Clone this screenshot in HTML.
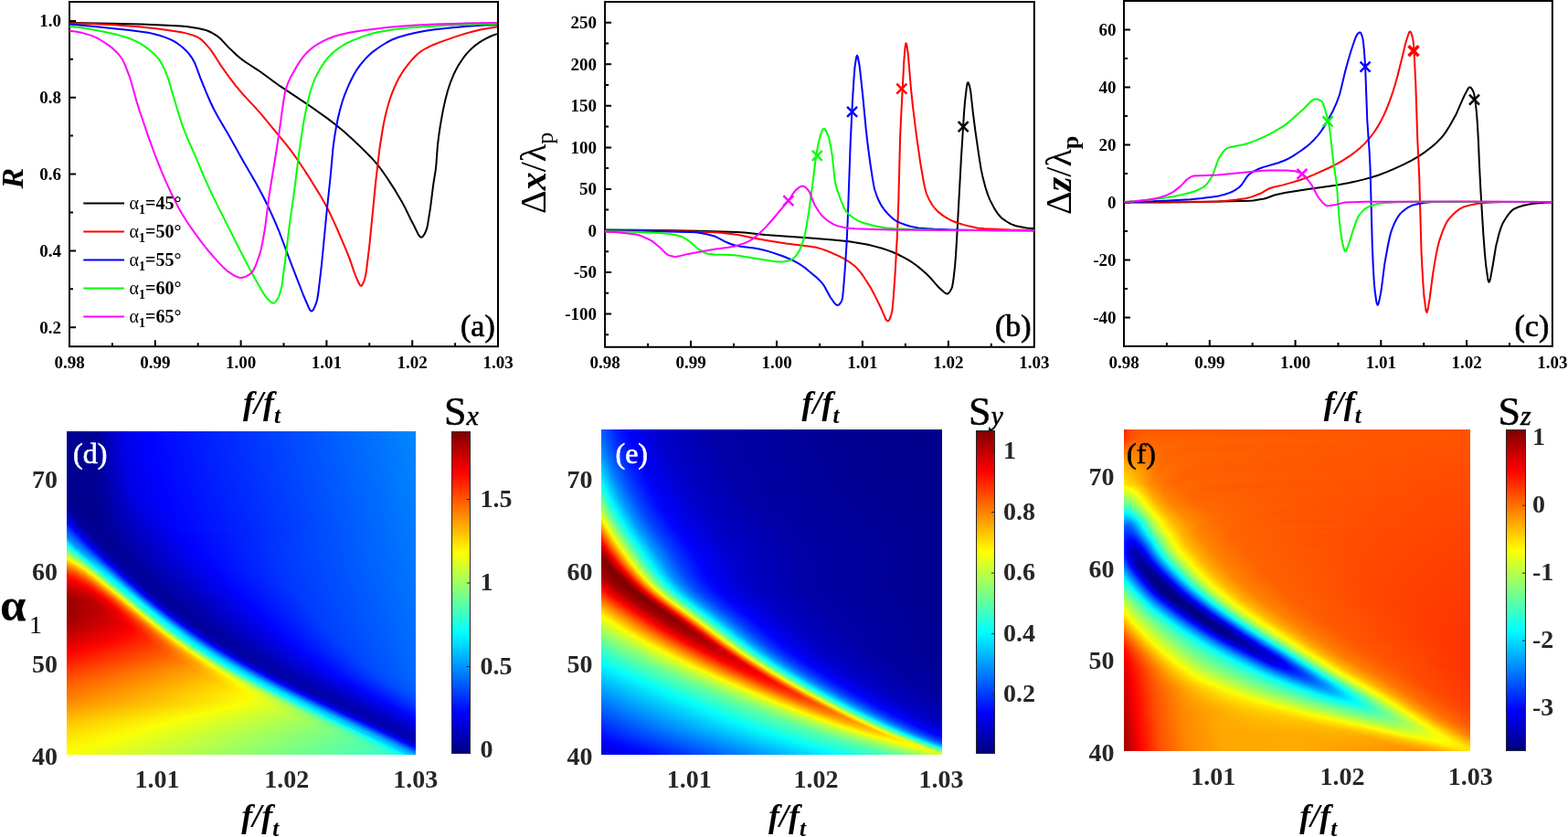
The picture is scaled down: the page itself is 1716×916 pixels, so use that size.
<!DOCTYPE html><html><head><meta charset="utf-8"><style>
*{margin:0;padding:0}
html,body{width:1716px;height:916px;overflow:hidden;background:#fff}
.hm{position:absolute;display:flex;flex-direction:column}
.hm i{display:block;width:100%;height:1px;flex:none}
.cb{position:absolute;box-sizing:border-box;border:1px solid #262626}
svg{position:absolute;left:0;top:0}
text{font-family:"Liberation Serif",serif}
.tk{font-size:19px;font-weight:bold}
.lg{font-size:20px;font-weight:bold}
.sub{font-size:14px}
.pl{font-size:34px;stroke:#000;stroke-width:0.7px}
.xl{font-size:36px;font-weight:bold;font-style:italic}
.xs{font-size:25px}
.yl{font-size:34px;font-weight:bold;font-style:italic}
.yl2{font-size:40px}
.bi{font-style:italic;font-weight:bold}
.sp{font-size:26px}
.spb{font-weight:bold}
.hk{font-size:28px;font-weight:bold;fill:#262626}
.al{font-size:51px;font-weight:bold}
.als{font-size:28px}
.hl{font-size:32px}
.sl{font-size:44px;stroke:#000;stroke-width:0.5px}
.si{font-style:italic;font-size:30px}
</style></head><body>
<div class="hm" style="left:73px;top:472px;width:382px;height:354px">
<i style="background:linear-gradient(90deg,#000091,#000097 32px,#0000e9 63px,#0003ff 89px,#0087ff)"></i>
<i style="background:linear-gradient(90deg,#000091,#000097 32px,#0000e9 63px,#0003ff 89px,#0087ff)"></i>
<i style="background:linear-gradient(90deg,#000091,#000096 32px,#0000e8 63px,#0003ff 89px,#0087ff)"></i>
<i style="background:linear-gradient(90deg,#000091,#000096 32px,#0000e8 63px,#0002ff 89px,#0087ff)"></i>
<i style="background:linear-gradient(90deg,#000091,#000096 32px,#0000ea 64px,#0003ff 90px,#0087ff)"></i>
<i style="background:linear-gradient(90deg,#000091,#000096 32px,#0000ea 64px,#0003ff 90px,#0087ff)"></i>
<i style="background:linear-gradient(90deg,#000091,#000098 33px,#0000e8 63px,#0002ff 89px,#0087ff)"></i>
<i style="background:linear-gradient(90deg,#000091,#000098 33px,#0000e8 63px,#0003ff 90px,#0087ff)"></i>
<i style="background:linear-gradient(90deg,#000091,#000098 33px,#0000e8 63px,#0002ff 90px,#0086ff)"></i>
<i style="background:linear-gradient(90deg,#000091,#000098 33px,#0000e9 64px,#0003ff 91px,#0086ff)"></i>
<i style="background:linear-gradient(90deg,#000091,#000098 33px,#0000e9 64px,#0003ff 91px,#0086ff)"></i>
<i style="background:linear-gradient(90deg,#000090,#000097 33px,#0000e9 64px,#0003ff 91px,#0086ff)"></i>
<i style="background:linear-gradient(90deg,#000090,#000097 33px,#0000e9 64px,#0003ff 91px,#0086ff)"></i>
<i style="background:linear-gradient(90deg,#000090,#000097 33px,#0000e9 64px,#0002ff 91px,#0086ff)"></i>
<i style="background:linear-gradient(90deg,#000090,#000097 33px,#0000e8 64px,#0002ff 91px,#0086ff)"></i>
<i style="background:linear-gradient(90deg,#000090,#000097 33px,#0000e8 64px,#0002ff 91px,#0086ff)"></i>
<i style="background:linear-gradient(90deg,#000090,#000097 33px,#0000e8 64px,#0003ff 92px,#0086ff)"></i>
<i style="background:linear-gradient(90deg,#000090,#000097 33px,#0000e8 64px,#0003ff 92px,#0085ff)"></i>
<i style="background:linear-gradient(90deg,#000090,#000096 33px,#0000e8 64px,#0002ff 92px,#0085ff)"></i>
<i style="background:linear-gradient(90deg,#000090,#000096 33px,#0000e8 64px,#0002ff 92px,#0085ff)"></i>
<i style="background:linear-gradient(90deg,#000090,#000096 33px,#0000e7 64px,#0002ff 92px,#0085ff)"></i>
<i style="background:linear-gradient(90deg,#000090,#000096 33px,#0000e7 64px,#0002ff 92px,#0085ff)"></i>
<i style="background:linear-gradient(90deg,#000090,#000096 33px,#0000e7 64px,#0002ff 92px,#0085ff)"></i>
<i style="background:linear-gradient(90deg,#000090,#000096 33px,#0000e7 64px,#0002ff 92px,#0085ff)"></i>
<i style="background:linear-gradient(90deg,#000090,#000096 33px,#0000e7 64px,#0002ff 92px,#0085ff)"></i>
<i style="background:linear-gradient(90deg,#00008f,#000098 34px,#0000e6 64px,#0002ff 93px,#0085ff)"></i>
<i style="background:linear-gradient(90deg,#00008f,#000098 34px,#0000e6 64px,#0002ff 93px,#0084ff)"></i>
<i style="background:linear-gradient(90deg,#00008f,#000097 34px,#0000e6 64px,#0002ff 93px,#0084ff)"></i>
<i style="background:linear-gradient(90deg,#00008f,#000097 34px,#0000e7 65px,#0002ff 94px,#0084ff)"></i>
<i style="background:linear-gradient(90deg,#00008f,#000097 34px,#0000e7 65px,#0002ff 94px,#0084ff)"></i>
<i style="background:linear-gradient(90deg,#00008f,#000097 34px,#0000e7 65px,#0002ff 94px,#0084ff)"></i>
<i style="background:linear-gradient(90deg,#00008f,#000097 34px,#0000e7 65px,#0002ff 94px,#0084ff)"></i>
<i style="background:linear-gradient(90deg,#00008f,#000097 34px,#0000e7 65px,#0002ff 94px,#0084ff)"></i>
<i style="background:linear-gradient(90deg,#00008f,#000096 34px,#0000e6 65px,#0002ff 95px,#0084ff)"></i>
<i style="background:linear-gradient(90deg,#00008f,#000096 34px,#0000e6 65px,#0002ff 95px,#0084ff)"></i>
<i style="background:linear-gradient(90deg,#00008f,#000096 34px,#0000e6 65px,#0002ff 95px,#0084ff)"></i>
<i style="background:linear-gradient(90deg,#00008f,#000096 34px,#0000e6 65px,#0002ff 95px,#0083ff)"></i>
<i style="background:linear-gradient(90deg,#00008e,#000096 34px,#0000e7 66px,#0002ff 96px,#0083ff)"></i>
<i style="background:linear-gradient(90deg,#00008e,#000095 34px,#0000e7 66px,#0002ff 96px,#0083ff)"></i>
<i style="background:linear-gradient(90deg,#00008e,#000095 34px,#0000e6 66px,#0002ff 96px,#0083ff)"></i>
<i style="background:linear-gradient(90deg,#00008e,#000095 34px,#0000e6 66px,#0002ff 96px,#0083ff)"></i>
<i style="background:linear-gradient(90deg,#00008e,#000095 34px,#0000e6 66px,#0002ff 96px,#0083ff)"></i>
<i style="background:linear-gradient(90deg,#00008e,#000095 34px,#0000e5 66px,#0002ff 97px,#0083ff)"></i>
<i style="background:linear-gradient(90deg,#00008e,#000097 35px,#0000e5 66px,#0002ff 97px,#0083ff)"></i>
<i style="background:linear-gradient(90deg,#00008e,#000096 35px,#0000e5 66px,#0002ff 97px,#0083ff)"></i>
<i style="background:linear-gradient(90deg,#00008e,#000096 35px,#0000e6 67px,#0002ff 98px,#0082ff)"></i>
<i style="background:linear-gradient(90deg,#00008e,#000096 35px,#0000e6 67px,#0002ff 98px,#0082ff)"></i>
<i style="background:linear-gradient(90deg,#00008e,#000096 35px,#0000e5 67px,#0002ff 98px,#0082ff)"></i>
<i style="background:linear-gradient(90deg,#00008e,#000096 35px,#0000e5 67px,#0002ff 98px,#0082ff)"></i>
<i style="background:linear-gradient(90deg,#00008e,#000096 35px,#0000e5 67px,#0002ff 98px,#0082ff)"></i>
<i style="background:linear-gradient(90deg,#00008d,#000095 35px,#0000e6 68px,#0003ff 100px,#0082ff)"></i>
<i style="background:linear-gradient(90deg,#00008d,#000095 35px,#0000e5 68px,#0002ff 100px,#0082ff)"></i>
<i style="background:linear-gradient(90deg,#00008d,#000095 35px,#0000e5 68px,#0002ff 100px,#0082ff)"></i>
<i style="background:linear-gradient(90deg,#00008d,#000095 35px,#0000e5 68px,#0002ff 100px,#0082ff)"></i>
<i style="background:linear-gradient(90deg,#00008d,#000095 35px,#0000e4 68px,#0002ff 100px,#0082ff)"></i>
<i style="background:linear-gradient(90deg,#00008d,#000094 35px,#0000e5 69px,#0002ff 101px,#0081ff)"></i>
<i style="background:linear-gradient(90deg,#00008d,#000096 36px,#0000e5 69px,#0002ff 101px,#0081ff)"></i>
<i style="background:linear-gradient(90deg,#00008d,#000096 36px,#0000e4 69px,#0003ff 102px,#0081ff)"></i>
<i style="background:linear-gradient(90deg,#00008d,#000096 36px,#0000e4 69px,#0002ff 102px,#0081ff)"></i>
<i style="background:linear-gradient(90deg,#00008d,#000095 36px,#0000e5 70px,#0003ff 103px,#0081ff)"></i>
<i style="background:linear-gradient(90deg,#00008d,#000095 36px,#0000e4 70px,#0003ff 103px,#0081ff)"></i>
<i style="background:linear-gradient(90deg,#00008d,#000095 36px,#0000e4 70px,#0002ff 103px,#0081ff)"></i>
<i style="background:linear-gradient(90deg,#00008d,#000095 36px,#0000e5 71px,#0003ff 104px,#0081ff)"></i>
<i style="background:linear-gradient(90deg,#00008d,#000094 36px,#0000e4 71px,#0002ff 104px,#0081ff)"></i>
<i style="background:linear-gradient(90deg,#00008d,#000094 36px,#0000e4 71px,#0002ff 104px,#0080ff)"></i>
<i style="background:linear-gradient(90deg,#00008d,#000094 36px,#0000e5 72px,#0003ff 105px,#0080ff)"></i>
<i style="background:linear-gradient(90deg,#00008d,#000094 36px,#0000e4 72px,#0003ff 106px,#0080ff)"></i>
<i style="background:linear-gradient(90deg,#00008d,#000094 36px,#0000e4 72px,#0003ff 106px,#0080ff)"></i>
<i style="background:linear-gradient(90deg,#00008d,#000093 36px,#0000e4 73px,#0003ff 107px,#0080ff)"></i>
<i style="background:linear-gradient(90deg,#00008d,#000095 37px,#0000e4 73px,#0003ff 107px,#0080ff)"></i>
<i style="background:linear-gradient(90deg,#00008e,#000095 37px,#0000e3 73px,#0003ff 107px,#0080ff)"></i>
<i style="background:linear-gradient(90deg,#00008e,#000094 37px,#0000e4 74px,#0003ff 108px,#0080ff)"></i>
<i style="background:linear-gradient(90deg,#00008e,#000094 37px,#0000e3 74px,#0003ff 108px,#0080ff)"></i>
<i style="background:linear-gradient(90deg,#00008f,#000094 37px,#0000e4 75px,#0003ff 109px,#0080ff)"></i>
<i style="background:linear-gradient(90deg,#00008f,#000094 37px,#0000e3 75px,#0003ff 109px,#007fff)"></i>
<i style="background:linear-gradient(90deg,#000090,#000093 37px,#0000e4 76px,#0003ff 110px,#007fff)"></i>
<i style="background:linear-gradient(90deg,#000091,#000093 37px,#0000e4 76px,#0003ff 110px,#007fff)"></i>
<i style="background:linear-gradient(90deg,#000092,#000090 35px,#0000e5 78px,#0003ff 111px,#007fff)"></i>
<i style="background:linear-gradient(90deg,#000093,#00008e 33px,#0000bc 56px,#0000ec 84px,#0005ff 114px,#007fff)"></i>
<i style="background:linear-gradient(90deg,#000095,#00008d 25px,#000097 40px,#0000e3 77px,#0003ff 112px,#007fff)"></i>
<i style="background:linear-gradient(90deg,#000096,#00008d 20px,#000095 39px,#0000e3 78px,#0003ff 112px,#007fff)"></i>
<i style="background:linear-gradient(90deg,#000098,#00008d 17px,#000095 39px,#0000e4 79px,#0003ff 113px,#007fff)"></i>
<i style="background:linear-gradient(90deg,#00009b,#00008d 14px,#000095 39px,#0000e3 79px,#0003ff 113px,#007fff)"></i>
<i style="background:linear-gradient(90deg,#00009d,#00008d 13px,#000094 39px,#0000e4 80px,#0004ff 114px,#007eff)"></i>
<i style="background:linear-gradient(90deg,#0000a0,#00008e 11px,#000093 38px,#0000e4 81px,#0004ff 115px,#007eff)"></i>
<i style="background:linear-gradient(90deg,#0000a4,#00008f 10px,#000092 38px,#0000e5 82px,#0004ff 115px,#007eff)"></i>
<i style="background:linear-gradient(90deg,#0000a8,#000090 10px,#000092 38px,#0000e5 83px,#0004ff 116px,#007eff)"></i>
<i style="background:linear-gradient(90deg,#0000ac,#000092 9px,#000092 38px,#0000e6 84px,#0004ff 117px,#007eff)"></i>
<i style="background:linear-gradient(90deg,#0000b1,#000093 9px,#000090 37px,#0000e6 85px,#0004ff 117px,#007eff)"></i>
<i style="background:linear-gradient(90deg,#0000b6,#000096 8px,#00008d 29px,#00009e 46px,#0000e4 84px,#0004ff 117px,#007eff)"></i>
<i style="background:linear-gradient(90deg,#0000bc,#000098 8px,#00008d 25px,#000097 42px,#0000e5 85px,#0004ff 118px,#007eff)"></i>
<i style="background:linear-gradient(90deg,#0000c2,#00009a 8px,#00008d 23px,#000096 42px,#0000e5 86px,#0004ff 119px,#007eff)"></i>
<i style="background:linear-gradient(90deg,#0000c9,#0000a0 7px,#00008e 19px,#000093 40px,#0000e7 88px,#0005ff 120px,#007eff)"></i>
<i style="background:linear-gradient(90deg,#0000d0,#0000a4 7px,#00008e 18px,#000093 40px,#0000e7 89px,#0004ff 120px,#007dff)"></i>
<i style="background:linear-gradient(90deg,#0000d8,#0000a8 7px,#000090 17px,#000093 40px,#0000e7 90px,#0004ff 121px,#007dff)"></i>
<i style="background:linear-gradient(90deg,#0000e1,#0000ac 7px,#000092 16px,#000091 39px,#0000e9 92px,#0005ff 122px,#007dff)"></i>
<i style="background:linear-gradient(90deg,#0000e9,#0000b1 7px,#000093 16px,#000090 38px,#0000ea 94px,#0005ff 123px,#007dff)"></i>
<i style="background:linear-gradient(90deg,#0000f3,#0000b6 7px,#000096 15px,#00008d 35px,#0000ba 63px,#0000f3 103px,#0007ff 127px,#007dff)"></i>
<i style="background:linear-gradient(90deg,#0000fc,#0000b6 8px,#000096 16px,#00008e 36px,#0000c4 69px,#0000fa 111px,#007dff)"></i>
<i style="background:linear-gradient(90deg,#0007ff,#0000e6 3px,#0000af 10px,#000092 19px,#000091 40px,#0000ec 98px,#0005ff 125px,#007dff)"></i>
<i style="background:linear-gradient(90deg,#0011ff,#0000fa 2px,#0000b4 10px,#000096 18px,#00008e 37px,#0000f0 102px,#0006ff 126px,#007dff)"></i>
<i style="background:linear-gradient(90deg,#001cff,#0000f9 3px,#0000b4 11px,#000095 19px,#00008e 37px,#0000f0 103px,#0006ff 127px,#007dff)"></i>
<i style="background:linear-gradient(90deg,#0026ff,#0004ff 3px,#0000b3 12px,#000095 20px,#00008f 38px,#0000f1 104px,#0006ff 128px,#007cff)"></i>
<i style="background:linear-gradient(90deg,#0030ff,#0003ff 4px,#0000b3 13px,#000093 22px,#000090 40px,#0000f1 105px,#0006ff 128px,#007cff)"></i>
<i style="background:linear-gradient(90deg,#003aff,#0002ff 5px,#0000b8 13px,#000097 21px,#00008e 37px,#0000bd 69px,#0000fa 115px,#007aff 377px,#007cff)"></i>
<i style="background:linear-gradient(90deg,#0043ff,#0001ff 6px,#0000b8 14px,#000097 22px,#00008e 38px,#0000cb 78px,#0000ff 122px,#0054ff 292px,#007cff)"></i>
<i style="background:linear-gradient(90deg,#004dff,#0000ff 7px,#0000b7 15px,#000097 23px,#00008f 39px,#0000f5 111px,#0008ff 133px,#007cff)"></i>
<i style="background:linear-gradient(90deg,#0055ff,#0000fe 8px,#0000b7 16px,#000097 24px,#00008f 39px,#0000f6 113px,#0009ff 135px,#007cff)"></i>
<i style="background:linear-gradient(90deg,#005dff,#0000fd 9px,#0000b6 17px,#000096 25px,#00008f 40px,#0000f7 115px,#000bff 139px,#007cff)"></i>
<i style="background:linear-gradient(90deg,#0064ff,#0014ff 8px,#0000fc 10px,#0000b6 18px,#000096 26px,#000090 41px,#0000f7 116px,#000dff 142px,#007cff)"></i>
<i style="background:linear-gradient(90deg,#006aff,#0035ff 6px,#0000fb 11px,#0000b5 19px,#000096 27px,#000090 41px,#0000f9 118px,#0012ff 151px,#007cff)"></i>
<i style="background:linear-gradient(90deg,#0070ff,#003fff 6px,#0000fb 12px,#0000bb 19px,#000098 27px,#00008f 40px,#0000c4 78px,#0000ff 126px,#0041ff 250px,#007cff)"></i>
<i style="background:linear-gradient(90deg,#0075ff,#0053ff 5px,#0000fa 13px,#0000ba 20px,#000098 28px,#00008f 41px,#0000fb 122px,#0078ff 374px,#007bff)"></i>
<i style="background:linear-gradient(90deg,#0078ff,#005dff 5px,#0005ff 13px,#0000b3 22px,#000095 30px,#000091 44px,#0000fa 122px,#007bff)"></i>
<i style="background:linear-gradient(90deg,#007bff,#0065ff 5px,#0005ff 14px,#0000b3 23px,#000095 31px,#000092 45px,#0000fb 123px,#0070ff 356px,#007bff)"></i>
<i style="background:linear-gradient(90deg,#0089ff,#007cff 1px,#0066ff 6px,#0004ff 15px,#0000b2 24px,#000095 32px,#000092 46px,#0000fc 125px,#0056ff 299px,#007bff)"></i>
<i style="background:linear-gradient(90deg,#0097ff,#007dff 2px,#0066ff 7px,#0004ff 16px,#0000b2 25px,#000095 33px,#000094 48px,#0000fc 126px,#0050ff 285px,#007bff)"></i>
<i style="background:linear-gradient(90deg,#00a6ff,#007fff 3px,#0067ff 8px,#0004ff 17px,#0000b8 25px,#000097 33px,#000092 47px,#0000fd 128px,#0043ff 257px,#007bff)"></i>
<i style="background:linear-gradient(90deg,#00b5ff,#0081ff 4px,#0068ff 9px,#0003ff 18px,#0000b8 26px,#000097 34px,#000093 48px,#0000fe 130px,#003aff 238px,#007bff)"></i>
<i style="background:linear-gradient(90deg,#00c5ff,#0082ff 5px,#0069ff 10px,#0003ff 19px,#0000b7 27px,#000096 35px,#000093 49px,#0000fe 131px,#0038ff 233px,#007bff)"></i>
<i style="background:linear-gradient(90deg,#00d4ff,#008bff 5px,#006aff 11px,#0003ff 20px,#0000b7 28px,#000096 36px,#000094 50px,#0000ff 132px,#0036ff 229px,#007bff)"></i>
<i style="background:linear-gradient(90deg,#00e4ff,#008cff 6px,#006bff 12px,#0003ff 21px,#0000b7 29px,#000096 37px,#000095 52px,#0000ff 133px,#0035ff 226px,#007aff)"></i>
<i style="background:linear-gradient(90deg,#00f4ff,#008dff 7px,#006cff 13px,#0003ff 22px,#0000b6 30px,#000096 38px,#000096 53px,#0000ff 134px,#0033ff 223px,#007aff)"></i>
<i style="background:linear-gradient(90deg,#05fffa,#008eff 8px,#0075ff 13px,#001bff 21px,#0003ff 23px,#0000b6 31px,#000096 39px,#000096 54px,#0000ff 135px,#0034ff 224px,#007aff)"></i>
<i style="background:linear-gradient(90deg,#15ffea,#00f7ff 2px,#008fff 9px,#0076ff 14px,#001bff 22px,#0003ff 24px,#0000b6 32px,#000097 40px,#000096 55px,#0000ff 136px,#0034ff 224px,#007aff)"></i>
<i style="background:linear-gradient(90deg,#25ffda,#00f9ff 3px,#0090ff 10px,#0078ff 15px,#001cff 23px,#0003ff 25px,#0000b6 33px,#000097 41px,#000097 56px,#0001ff 137px,#0033ff 224px,#007aff)"></i>
<i style="background:linear-gradient(90deg,#35ffca,#00fbff 4px,#0091ff 11px,#007aff 16px,#000fff 25px,#0000f6 27px,#0000b6 34px,#000097 42px,#000097 57px,#0001ff 138px,#0033ff 224px,#007aff)"></i>
<i style="background:linear-gradient(90deg,#46ffb9,#00feff 5px,#0093ff 12px,#007bff 17px,#0010ff 26px,#0000f6 28px,#0000b6 35px,#000097 43px,#000098 58px,#0001ff 139px,#0033ff 224px,#007aff)"></i>
<i style="background:linear-gradient(90deg,#56ffa9,#01fffe 6px,#0096ff 13px,#0085ff 17px,#0045ff 23px,#0004ff 28px,#0000b6 36px,#000097 44px,#000099 60px,#0001ff 140px,#0033ff 224px,#007aff)"></i>
<i style="background:linear-gradient(90deg,#67ff98,#05fffa 7px,#0098ff 14px,#0088ff 18px,#0046ff 24px,#0004ff 29px,#0000b6 37px,#000097 45px,#000099 61px,#0001ff 141px,#0033ff 225px,#007aff)"></i>
<i style="background:linear-gradient(90deg,#78ff87,#08fff7 8px,#00e8ff 10px,#009bff 15px,#008aff 19px,#0047ff 25px,#0005ff 30px,#0000b6 38px,#000097 46px,#000099 62px,#0002ff 142px,#0033ff 225px,#0079ff)"></i>
<i style="background:linear-gradient(90deg,#89ff76,#00fbff 10px,#009eff 16px,#008cff 20px,#0049ff 26px,#0005ff 31px,#0000b6 39px,#000098 47px,#00009a 63px,#0002ff 143px,#0033ff 225px,#0079ff)"></i>
<i style="background:linear-gradient(90deg,#99ff66,#1fffe0 9px,#00feff 11px,#00a1ff 17px,#008fff 21px,#004aff 27px,#0006ff 32px,#0000ce 37px,#0000a2 44px,#000094 54px,#0000bc 91px,#0002ff 144px,#0033ff 226px,#0079ff)"></i>
<i style="background:linear-gradient(90deg,#a9ff56,#41ffbe 8px,#02fffd 12px,#00a4ff 18px,#0091ff 22px,#004cff 28px,#0007ff 33px,#0000e2 36px,#0000b0 42px,#000097 50px,#00009e 69px,#0001ff 144px,#0032ff 222px,#0079ff)"></i>
<i style="background:linear-gradient(90deg,#baff45,#55ffaa 8px,#06fff9 13px,#00b3ff 18px,#00a5ff 20px,#0081ff 25px,#0008ff 34px,#0000ee 36px,#0000b7 42px,#00009a 49px,#000098 63px,#0002ff 146px,#0033ff 226px,#0079ff)"></i>
<i style="background:linear-gradient(90deg,#caff35,#68ff97 8px,#0afff5 14px,#00e8ff 16px,#00abff 20px,#0097ff 24px,#004fff 30px,#0000fb 36px,#0000be 42px,#00009c 49px,#000097 62px,#0003ff 147px,#0034ff 227px,#0079ff)"></i>
<i style="background:linear-gradient(90deg,#daff25,#7bff84 8px,#00fcff 16px,#00aeff 21px,#009aff 25px,#0051ff 31px,#0000fc 37px,#0000be 43px,#00009d 50px,#000097 63px,#0003ff 148px,#0033ff 227px,#0079ff)"></i>
<i style="background:linear-gradient(90deg,#eaff15,#8fff70 8px,#02fffd 17px,#00b2ff 22px,#009dff 26px,#0053ff 32px,#0000fd 38px,#0000bf 44px,#00009d 51px,#000097 64px,#0003ff 149px,#0033ff 227px,#0079ff)"></i>
<i style="background:linear-gradient(90deg,#faff05,#a3ff5c 8px,#17ffe8 17px,#06fff9 18px,#00b6ff 23px,#00a1ff 27px,#0055ff 33px,#0000fe 39px,#0000bf 45px,#00009d 52px,#000096 64px,#0000db 118px,#0004ff 151px,#0035ff 231px,#0079ff)"></i>
<i style="background:linear-gradient(90deg,#fff400,#f9ff06 2px,#9cff63 10px,#0bfff4 19px,#00f8ff 20px,#00c4ff 23px,#009aff 29px,#0000ff 40px,#0000c0 46px,#00009d 53px,#000097 65px,#0000da 118px,#0004ff 152px,#0035ff 232px,#0079ff)"></i>
<i style="background:linear-gradient(90deg,#ffe400,#fffd00 3px,#b1ff4e 10px,#21ffde 19px,#00fdff 21px,#00c8ff 24px,#009eff 30px,#0002ff 41px,#0000b9 48px,#00009b 55px,#000099 69px,#0002ff 151px,#0032ff 225px,#0078ff)"></i>
<i style="background:linear-gradient(90deg,#ffd500,#ffff00 5px,#aaff55 12px,#03fffc 22px,#00c2ff 26px,#00acff 30px,#005dff 36px,#0003ff 42px,#0000ba 49px,#00009b 56px,#000099 70px,#0003ff 152px,#0032ff 226px,#0078ff)"></i>
<i style="background:linear-gradient(90deg,#ffc500,#fcff03 7px,#a1ff5e 14px,#07fff8 23px,#00d0ff 26px,#00a5ff 32px,#0004ff 43px,#0000ba 50px,#00009c 57px,#000099 71px,#0003ff 153px,#0032ff 226px,#0078ff)"></i>
<i style="background:linear-gradient(90deg,#ffb700,#fffa00 8px,#c5ff3a 13px,#31ffce 22px,#00f9ff 25px,#00d4ff 27px,#00a8ff 33px,#0006ff 44px,#0000c2 50px,#00009e 57px,#000097 69px,#0000d6 119px,#0004ff 155px,#0034ff 230px,#0078ff)"></i>
<i style="background:linear-gradient(90deg,#ffa800,#ffe900 8px,#fffe00 10px,#9fff60 17px,#00fdff 26px,#00d8ff 28px,#00acff 34px,#0025ff 43px,#0000f9 46px,#0000bb 52px,#00009c 59px,#000099 73px,#0003ff 155px,#0032ff 227px,#0078ff)"></i>
<i style="background:linear-gradient(90deg,#ff9b00,#ffd700 8px,#fbff04 12px,#94ff6b 19px,#03fffc 27px,#00d1ff 30px,#00baff 34px,#0067ff 40px,#0009ff 46px,#0000ed 48px,#0000b5 54px,#00009a 61px,#00009c 77px,#0003ff 156px,#0033ff 228px,#0078ff)"></i>
<i style="background:linear-gradient(90deg,#ff8e00,#ffc600 8px,#fffc00 13px,#abff54 19px,#07fff8 28px,#00d5ff 31px,#00beff 35px,#006aff 41px,#000aff 47px,#0000fb 48px,#0000bd 54px,#00009d 61px,#000099 75px,#0003ff 157px,#0033ff 228px,#0078ff)"></i>
<i style="background:linear-gradient(90deg,#ff8000,#ffbf00 9px,#fcff03 15px,#7dff82 23px,#0cfff3 29px,#00f8ff 30px,#00d9ff 32px,#00c1ff 36px,#006dff 42px,#0000fd 49px,#0000bd 55px,#00009d 62px,#000099 75px,#0003ff 158px,#0033ff 229px,#0078ff)"></i>
<i style="background:linear-gradient(90deg,#ff7300,#ffae00 9px,#fffb00 16px,#b8ff47 21px,#00fcff 31px,#00ddff 33px,#00c5ff 37px,#0080ff 42px,#0000fe 50px,#0000be 56px,#00009d 63px,#000099 76px,#0000e8 137px,#0006ff 161px,#0036ff 235px,#0078ff)"></i>
<i style="background:linear-gradient(90deg,#ff6700,#ff9e00 9px,#ffe700 16px,#fcff03 18px,#77ff88 26px,#02fffd 32px,#00e1ff 34px,#00c9ff 38px,#0083ff 43px,#0001ff 51px,#0000bf 57px,#00009d 64px,#000099 77px,#0000e4 135px,#0005ff 161px,#0035ff 233px,#0077ff)"></i>
<i style="background:linear-gradient(90deg,#ff5a00,#ff8e00 9px,#ffd300 16px,#fffb00 19px,#b3ff4c 24px,#06fff9 33px,#00e4ff 35px,#00cdff 39px,#0086ff 44px,#0002ff 52px,#0000bf 58px,#00009e 65px,#000099 78px,#0000e2 135px,#0005ff 162px,#0034ff 233px,#0077ff)"></i>
<i style="background:linear-gradient(90deg,#ff4f00,#ff8700 10px,#ffcc00 17px,#fcff03 21px,#6fff90 29px,#0bfff4 34px,#00f6ff 35px,#00e8ff 36px,#00d0ff 40px,#008aff 45px,#0004ff 53px,#0000b9 60px,#00009c 67px,#00009b 82px,#0003ff 161px,#0032ff 229px,#0077ff)"></i>
<i style="background:linear-gradient(90deg,#ff4300,#ff7800 10px,#ffb900 17px,#fffc00 22px,#9bff64 28px,#00faff 36px,#00ecff 37px,#00d4ff 41px,#008dff 46px,#0006ff 54px,#0000b9 61px,#00009c 68px,#00009b 83px,#0003ff 162px,#0032ff 229px,#0077ff)"></i>
<i style="background:linear-gradient(90deg,#ff3900,#ff6a00 10px,#ffb200 18px,#fff600 23px,#f9ff06 24px,#66ff99 32px,#00ffff 37px,#00efff 38px,#00d7ff 42px,#0090ff 47px,#0007ff 55px,#0000df 58px,#0000ae 64px,#000098 72px,#0000a7 96px,#0003ff 163px,#0032ff 230px,#0077ff)"></i>
<i style="background:linear-gradient(90deg,#ff2f00,#ff6300 11px,#ffac00 19px,#ffff00 25px,#6bff94 33px,#04fffb 38px,#00f2ff 39px,#00dbff 43px,#0093ff 48px,#0009ff 56px,#0000ec 58px,#0000b4 64px,#00009a 71px,#00009e 88px,#0003ff 164px,#0032ff 230px,#0077ff)"></i>
<i style="background:linear-gradient(90deg,#ff2600,#ff5600 11px,#ff9b00 19px,#fffa00 26px,#beff41 30px,#08fff7 39px,#00f3ff 41px,#00d3ff 45px,#0072ff 51px,#000bff 57px,#0000fb 58px,#0000c3 63px,#0000a2 69px,#000097 80px,#0000c9 123px,#0003ff 165px,#0033ff 231px,#0077ff)"></i>
<i style="background:linear-gradient(90deg,#ff1d00,#ff4b00 11px,#ff8b00 19px,#ffe500 26px,#f9ff06 28px,#4affb5 37px,#0cfff3 40px,#00f8ff 41px,#00e1ff 45px,#0098ff 50px,#000cff 58px,#0000fd 59px,#0000c4 64px,#0000a2 70px,#000097 81px,#0000c8 123px,#0003ff 166px,#0033ff 232px,#0077ff)"></i>
<i style="background:linear-gradient(90deg,#ff1500,#ff4500 12px,#ff8500 20px,#ffe000 27px,#feff01 29px,#4effb1 38px,#00faff 42px,#00e4ff 46px,#009bff 51px,#000eff 59px,#0000fe 60px,#0000c5 65px,#0000a2 71px,#000097 82px,#0000c8 124px,#0003ff 167px,#0033ff 232px,#0077ff)"></i>
<i style="background:linear-gradient(90deg,#ff0d00,#ff3b00 12px,#ff7600 20px,#ffcb00 27px,#fffb00 30px,#a6ff59 35px,#00fdff 43px,#00e7ff 47px,#009eff 52px,#0001ff 61px,#0000bd 67px,#00009d 74px,#00009a 88px,#0004ff 169px,#0034ff 235px,#0077ff)"></i>
<i style="background:linear-gradient(90deg,#ff0600,#ff3000 12px,#ff6700 20px,#ffb800 27px,#fff600 31px,#e4ff1b 33px,#02fffd 44px,#00f3ff 47px,#00c2ff 51px,#0002ff 62px,#0000be 68px,#00009d 75px,#00009a 89px,#0004ff 170px,#0034ff 236px,#0076ff)"></i>
<i style="background:linear-gradient(90deg,#fe0000,#ff2600 12px,#ff6200 21px,#ffb300 28px,#fbff04 33px,#30ffcf 43px,#06fff9 45px,#00f6ff 48px,#00c5ff 52px,#0004ff 63px,#0000bf 69px,#00009e 76px,#00009a 90px,#0004ff 171px,#0034ff 236px,#0076ff)"></i>
<i style="background:linear-gradient(90deg,#f70000,#ff0a00 7px,#ff3e00 18px,#ff8700 26px,#ffec00 33px,#fffe00 34px,#60ff9f 42px,#0afff5 46px,#00f8ff 49px,#00c8ff 53px,#0006ff 64px,#0000b8 71px,#00009c 78px,#00009d 94px,#0003ff 171px,#0033ff 235px,#0076ff)"></i>
<i style="background:linear-gradient(90deg,#f00000,#ff0500 8px,#ff3900 19px,#ff8200 27px,#ffe700 34px,#fff900 35px,#ccff33 38px,#0efff1 47px,#00fbff 50px,#00cbff 54px,#0007ff 65px,#0000de 68px,#0000ad 74px,#000098 82px,#0000a9 107px,#0003ff 172px,#0033ff 235px,#0076ff)"></i>
<i style="background:linear-gradient(90deg,#ea0000,#ff0400 10px,#ff3500 20px,#ff7d00 28px,#ffe200 35px,#f8ff07 37px,#12ffed 48px,#00feff 51px,#00cfff 55px,#0009ff 66px,#0000ec 68px,#0000ba 73px,#00009c 80px,#00009c 95px,#0004ff 174px,#0034ff 238px,#0076ff)"></i>
<i style="background:linear-gradient(90deg,#e40000,#ff0300 12px,#ff3700 22px,#ff7900 29px,#ffde00 36px,#fcff03 38px,#15ffea 49px,#01fffe 52px,#00d2ff 56px,#000bff 67px,#0000fb 68px,#0000c3 73px,#0000a1 79px,#000098 90px,#0000ca 133px,#0004ff 175px,#0035ff 239px,#0076ff)"></i>
<i style="background:linear-gradient(90deg,#de0000,#ff0300 14px,#ff3a00 24px,#ff8000 31px,#ffeb00 38px,#fffd00 39px,#5bffa4 47px,#19ffe6 50px,#0cfff3 51px,#00fbff 54px,#00c4ff 58px,#000dff 68px,#0000fd 69px,#0000c4 74px,#0000a2 80px,#000098 91px,#0000c8 133px,#0004ff 176px,#0034ff 239px,#0076ff)"></i>
<i style="background:linear-gradient(90deg,#d90000,#ff0300 16px,#ff3600 25px,#ff7c00 32px,#ffe600 39px,#fff800 40px,#dfff20 42px,#1effe1 51px,#0efff1 52px,#00fdff 55px,#00c8ff 59px,#000fff 69px,#0000ff 70px,#0000c5 75px,#0000a2 81px,#000098 92px,#0000c8 134px,#0004ff 177px,#0035ff 240px,#0076ff)"></i>
<i style="background:linear-gradient(90deg,#d40000,#fa0000 16px,#ff1700 22px,#ff5500 30px,#ffaf00 37px,#fff400 41px,#f7ff08 42px,#10ffef 53px,#01fffe 56px,#00cbff 60px,#0011ff 70px,#0002ff 71px,#0000bd 77px,#00009d 84px,#00009a 98px,#0000e8 157px,#0005ff 179px,#0036ff 243px,#0076ff)"></i>
<i style="background:linear-gradient(90deg,#cf0000,#f70000 17px,#ff0900 21px,#ff3e00 29px,#ff8d00 36px,#fcff03 43px,#12ffed 54px,#00f8ff 58px,#00aaff 63px,#0014ff 71px,#0004ff 72px,#0000be 78px,#00009d 85px,#00009a 99px,#0000e5 156px,#0005ff 180px,#0036ff 243px,#0075ff)"></i>
<i style="background:linear-gradient(90deg,#ca0000,#f30000 18px,#ff0500 22px,#ff3b00 30px,#ff8900 37px,#fffd00 44px,#2affd5 54px,#14ffeb 55px,#00fbff 59px,#00adff 64px,#0016ff 72px,#0000f6 74px,#0000bf 79px,#00009e 86px,#00009a 100px,#0000e3 156px,#0005ff 181px,#0036ff 244px,#0075ff)"></i>
<i style="background:linear-gradient(90deg,#c60000,#ec0000 18px,#ff0700 24px,#ff4000 32px,#ff9300 39px,#fff900 45px,#c8ff37 48px,#18ffe7 56px,#00feff 60px,#00c3ff 64px,#0008ff 74px,#0000eb 76px,#0000b9 81px,#00009c 88px,#00009d 104px,#0004ff 181px,#0035ff 243px,#0075ff)"></i>
<i style="background:linear-gradient(90deg,#c10000,#e90000 19px,#ff0400 25px,#ff3c00 33px,#ff8f00 40px,#fff500 46px,#f6ff09 47px,#1cffe3 57px,#01fffe 61px,#00c6ff 65px,#000aff 75px,#0000fa 76px,#0000c2 81px,#0000a1 87px,#000098 98px,#0000ca 141px,#0004ff 182px,#0035ff 243px,#0075ff)"></i>
<i style="background:linear-gradient(90deg,#bd0000,#e60000 20px,#ff0600 27px,#ff4200 35px,#ff9a00 42px,#faff05 48px,#20ffdf 58px,#04fffb 62px,#00daff 65px,#000dff 76px,#0000fc 77px,#0000c3 82px,#0000a1 88px,#000098 99px,#0000c8 141px,#0004ff 183px,#0035ff 244px,#0075ff)"></i>
<i style="background:linear-gradient(90deg,#ba0000,#e00000 20px,#ff0300 28px,#ff3f00 36px,#ff9600 43px,#ffff00 49px,#24ffdb 59px,#00faff 64px,#00a7ff 69px,#000fff 77px,#0000ff 78px,#0000c4 83px,#0000a2 89px,#000098 100px,#0000c8 142px,#0004ff 184px,#0036ff 245px,#0075ff)"></i>
<i style="background:linear-gradient(90deg,#b60000,#de0000 21px,#ff0000 29px,#ff3b00 37px,#ff9200 44px,#fffb00 50px,#83ff7c 56px,#28ffd7 60px,#1affe5 61px,#00fdff 65px,#00abff 70px,#0012ff 78px,#0002ff 79px,#0000bd 85px,#00009d 92px,#00009a 106px,#0000e4 162px,#0005ff 186px,#0036ff 247px,#0075ff)"></i>
<i style="background:linear-gradient(90deg,#b20000,#db0000 22px,#ff0300 31px,#ff4200 39px,#ff9d00 46px,#fff600 51px,#dfff20 53px,#1bffe4 62px,#0bfff4 65px,#01fffe 66px,#00c1ff 70px,#0014ff 79px,#0004ff 80px,#0000be 86px,#00009d 93px,#00009a 107px,#0000e2 162px,#0005ff 187px,#0037ff 248px,#0075ff)"></i>
<i style="background:linear-gradient(90deg,#af0000,#d50000 22px,#ff0500 33px,#ff4900 41px,#ffa900 48px,#fff200 52px,#f8ff07 53px,#1dffe2 63px,#0efff1 66px,#00f6ff 68px,#008aff 74px,#0007ff 81px,#0000dd 84px,#0000ac 90px,#000098 98px,#0000ac 125px,#0003ff 187px,#0036ff 247px,#0075ff)"></i>
<i style="background:linear-gradient(90deg,#ab0000,#d30000 23px,#ff0200 34px,#ff4500 42px,#ffa400 49px,#fdff02 54px,#20ffdf 64px,#00f9ff 69px,#00a2ff 74px,#000aff 82px,#0000ec 84px,#0000b9 89px,#00009c 96px,#00009c 112px,#0005ff 189px,#0037ff 249px,#0075ff)"></i>
<i style="background:linear-gradient(90deg,#a80000,#d00000 24px,#fe0000 35px,#ff3700 42px,#ff9000 49px,#fffc00 55px,#52ffad 63px,#24ffdb 65px,#00fcff 70px,#00a6ff 75px,#000cff 83px,#0000fc 84px,#0000c2 89px,#0000a1 95px,#000098 106px,#0000c8 148px,#0004ff 190px,#0037ff 250px,#0074ff)"></i>
<i style="background:linear-gradient(90deg,#a40000,#cd0000 25px,#ff0200 37px,#ff4800 45px,#ffac00 52px,#fff700 56px,#deff21 58px,#29ffd6 66px,#01fffe 71px,#00aaff 76px,#000fff 84px,#0000ff 85px,#0000c4 90px,#0000a2 96px,#000098 107px,#0000c8 149px,#0004ff 191px,#0037ff 251px,#0074ff)"></i>
<i style="background:linear-gradient(90deg,#a10000,#cb0000 26px,#f80000 37px,#ff0d00 40px,#ff5000 47px,#ffb900 54px,#fff200 57px,#f8ff07 58px,#2effd1 67px,#1effe1 69px,#04fffb 72px,#00d4ff 75px,#0012ff 85px,#0002ff 86px,#0000bd 92px,#00009d 99px,#00009a 113px,#0000e1 167px,#0005ff 193px,#0038ff 253px,#0074ff)"></i>
<i style="background:linear-gradient(90deg,#9e0000,#c60000 26px,#f60000 38px,#ff0a00 41px,#ff4d00 48px,#ffa300 54px,#fdff02 59px,#33ffcc 68px,#22ffdd 69px,#12ffed 72px,#00f8ff 74px,#0089ff 80px,#0005ff 87px,#0000be 93px,#0000a0 99px,#000098 111px,#0000ce 156px,#0004ff 193px,#0037ff 252px,#0074ff)"></i>
<i style="background:linear-gradient(90deg,#9c0000,#c40000 27px,#f30000 39px,#ff0800 42px,#ff4900 49px,#ff9f00 55px,#fffd00 60px,#24ffdb 70px,#14ffeb 73px,#00fcff 75px,#00a2ff 80px,#0019ff 87px,#0000f8 89px,#0000c0 94px,#0000a0 100px,#000098 112px,#0000ce 157px,#0004ff 194px,#0037ff 253px,#0074ff)"></i>
<i style="background:linear-gradient(90deg,#990000,#c30000 28px,#f10000 40px,#ff0500 43px,#ff4600 50px,#ff9b00 56px,#fff800 61px,#dcff23 63px,#26ffd9 71px,#0dfff2 75px,#00ffff 76px,#00a6ff 81px,#001cff 88px,#0000fb 90px,#0000c2 95px,#0000a1 101px,#000098 112px,#0000c8 154px,#0004ff 195px,#0037ff 254px,#0074ff)"></i>
<i style="background:linear-gradient(90deg,#970000,#c20000 29px,#ef0000 41px,#ff0300 44px,#ff4300 51px,#ffa800 58px,#fff300 62px,#f6ff09 63px,#2bffd4 72px,#0ffff0 76px,#03fffc 77px,#00beff 81px,#000fff 90px,#0000fe 91px,#0000c3 96px,#0000a1 102px,#000098 113px,#0000c7 155px,#0005ff 197px,#0038ff 256px,#0074ff)"></i>
<i style="background:linear-gradient(90deg,#960000,#c10000 30px,#ee0000 42px,#ff0100 45px,#ff4000 52px,#ffa400 59px,#faff05 64px,#30ffcf 73px,#06fff9 78px,#00e7ff 80px,#0012ff 91px,#0002ff 92px,#0000bd 98px,#00009d 105px,#00009a 119px,#0000df 172px,#0004ff 198px,#0038ff 257px,#0074ff)"></i>
<i style="background:linear-gradient(90deg,#950000,#c00000 31px,#ec0000 43px,#ff0000 46px,#ff3e00 53px,#ffa000 60px,#ffff00 65px,#35ffca 74px,#25ffda 75px,#14ffeb 78px,#00faff 80px,#008aff 86px,#0015ff 92px,#0005ff 93px,#0000be 99px,#0000a0 105px,#000098 117px,#0000ce 162px,#0004ff 199px,#0039ff 258px,#0074ff)"></i>
<i style="background:linear-gradient(90deg,#940000,#c00000 32px,#ec0000 44px,#ff0600 48px,#ff4800 55px,#ff9d00 61px,#fffb00 66px,#67ff98 73px,#26ffd9 76px,#16ffe9 79px,#00fdff 81px,#008eff 87px,#0008ff 94px,#0000ea 96px,#0000b8 101px,#00009b 108px,#00009c 124px,#0004ff 200px,#0039ff 259px,#0073ff)"></i>
<i style="background:linear-gradient(90deg,#940000,#c10000 33px,#ec0000 45px,#ff0500 49px,#ff4600 56px,#ff9a00 62px,#fff700 67px,#ddff22 69px,#27ffd8 77px,#0dfff2 81px,#01fffe 82px,#00a7ff 87px,#001cff 94px,#0000fb 96px,#0000c2 101px,#0000a1 107px,#000098 118px,#0000c8 160px,#0004ff 201px,#0039ff 259px,#0073ff)"></i>
<i style="background:linear-gradient(90deg,#940000,#c10000 34px,#eb0000 46px,#ff0400 50px,#ff4400 57px,#ffa800 64px,#fff300 68px,#f6ff09 69px,#2cffd3 78px,#10ffef 82px,#04fffb 83px,#00d2ff 86px,#0010ff 96px,#0000ff 97px,#0000c4 102px,#0000a2 108px,#000098 119px,#0000c7 161px,#0004ff 202px,#0039ff 260px,#0073ff)"></i>
<i style="background:linear-gradient(90deg,#940000,#c20000 35px,#eb0000 47px,#ff0400 51px,#ff4200 58px,#ffa500 65px,#faff05 70px,#30ffcf 79px,#06fff9 84px,#00e8ff 86px,#0014ff 97px,#0004ff 98px,#0000be 104px,#00009d 111px,#00009a 125px,#0000de 177px,#0005ff 204px,#003aff 262px,#0073ff)"></i>
<i style="background:linear-gradient(90deg,#950000,#c30000 36px,#eb0000 48px,#ff0300 52px,#ff4000 59px,#ffa200 66px,#feff01 71px,#35ffca 80px,#24ffdb 81px,#14ffeb 84px,#00fbff 86px,#008cff 92px,#0008ff 99px,#0000eb 101px,#0000b9 106px,#00009c 113px,#00009d 129px,#0004ff 204px,#0039ff 262px,#0073ff)"></i>
<i style="background:linear-gradient(90deg,#950000,#c40000 37px,#f00000 50px,#ff0a00 54px,#ff4a00 61px,#ff9e00 67px,#fffb00 72px,#51ffae 80px,#24ffdb 82px,#15ffea 85px,#00feff 87px,#00a6ff 92px,#000cff 100px,#0000fc 101px,#0000c3 106px,#0000a2 112px,#000098 123px,#0000c9 165px,#0004ff 205px,#003aff 263px,#0073ff)"></i>
<i style="background:linear-gradient(90deg,#950000,#c50000 38px,#f00000 51px,#ff0900 55px,#ff4800 62px,#ff9b00 68px,#fff700 73px,#ddff22 75px,#28ffd7 83px,#0dfff2 87px,#01fffe 88px,#00beff 92px,#0011ff 101px,#0001ff 102px,#0000bd 108px,#00009d 115px,#00009b 129px,#0000df 181px,#0005ff 207px,#003bff 265px,#0073ff)"></i>
<i style="background:linear-gradient(90deg,#960000,#c60000 39px,#f10000 52px,#ff0900 56px,#ff4700 63px,#ffa900 70px,#fff300 74px,#f6ff09 75px,#2dffd2 84px,#04fffb 89px,#00d5ff 92px,#0015ff 102px,#0006ff 103px,#0000b8 110px,#00009c 117px,#00009d 133px,#0004ff 207px,#003aff 264px,#0073ff)"></i>
<i style="background:linear-gradient(90deg,#970000,#c70000 40px,#f10000 53px,#ff0900 57px,#ff4500 64px,#ffa600 71px,#fbff04 76px,#32ffcd 85px,#22ffdd 86px,#12ffed 89px,#00f9ff 91px,#008dff 97px,#000aff 104px,#0000fa 105px,#0000c2 110px,#0000a2 116px,#000098 127px,#0000ca 169px,#0004ff 208px,#003aff 265px,#0073ff)"></i>
<i style="background:linear-gradient(90deg,#970000,#c80000 41px,#f10000 54px,#ff0800 58px,#ff4400 65px,#ffa200 72px,#ffff00 77px,#22ffdd 87px,#13ffec 90px,#00fcff 92px,#00a6ff 97px,#000fff 105px,#0000fe 106px,#0000c5 111px,#0000a3 117px,#000098 128px,#0000c8 169px,#0004ff 209px,#003aff 266px,#0073ff)"></i>
<i style="background:linear-gradient(90deg,#980000,#c90000 42px,#f10000 55px,#ff0800 59px,#ff4d00 67px,#ff9f00 73px,#fffa00 78px,#98ff67 83px,#26ffd9 88px,#0cfff3 92px,#00ffff 93px,#00abff 98px,#0013ff 106px,#0004ff 107px,#0000bf 113px,#00009e 120px,#00009b 134px,#0000e1 186px,#0004ff 210px,#003bff 267px,#0072ff)"></i>
<i style="background:linear-gradient(90deg,#990000,#cd0000 44px,#f70000 57px,#ff0800 60px,#ff4b00 68px,#ffac00 75px,#fff600 79px,#dfff20 81px,#2bffd4 89px,#03fffc 94px,#00c3ff 98px,#0018ff 107px,#0000f9 109px,#0000c2 114px,#00009f 121px,#00009a 134px,#0000d9 182px,#0004ff 211px,#003aff 267px,#0072ff)"></i>
<i style="background:linear-gradient(90deg,#9a0000,#ce0000 45px,#f70000 58px,#ff0e00 62px,#ff4a00 69px,#ffa900 76px,#fff100 80px,#f8ff07 81px,#20ffdf 91px,#10ffef 94px,#00f8ff 96px,#008eff 102px,#000dff 109px,#0000fd 110px,#0000c5 115px,#0000a3 121px,#000099 132px,#0000c9 173px,#0004ff 212px,#003aff 268px,#0072ff)"></i>
<i style="background:linear-gradient(90deg,#9b0000,#d00000 46px,#f70000 59px,#ff0e00 63px,#ff5300 71px,#ffa500 77px,#fdff02 82px,#20ffdf 92px,#08fff7 96px,#00fbff 97px,#00a8ff 102px,#0012ff 110px,#0003ff 111px,#0000bf 117px,#00009f 124px,#00009c 138px,#0000e2 190px,#0004ff 213px,#003bff 269px,#0072ff)"></i>
<i style="background:linear-gradient(90deg,#9c0000,#d10000 47px,#f80000 60px,#ff0e00 64px,#ff5100 72px,#ffb200 79px,#fffc00 83px,#53ffac 91px,#25ffda 93px,#00ffff 98px,#00adff 103px,#0017ff 111px,#0000f8 113px,#0000c2 118px,#0000a0 125px,#00009b 138px,#0000da 186px,#0004ff 214px,#003bff 270px,#0072ff)"></i>
<i style="background:linear-gradient(90deg,#9d0000,#d30000 48px,#ff0300 63px,#ff3c00 71px,#ff9000 78px,#fff700 84px,#deff21 86px,#2bffd4 94px,#1dffe2 95px,#0dfff2 98px,#02fffd 99px,#00c5ff 103px,#000dff 113px,#0000fd 114px,#0000c5 119px,#0000a4 125px,#000099 136px,#0000c8 176px,#0004ff 215px,#003bff 271px,#0072ff)"></i>
<i style="background:linear-gradient(90deg,#9e0000,#d60000 50px,#ff0300 64px,#ff3a00 72px,#ff8c00 79px,#fff300 85px,#f7ff08 86px,#1dffe2 96px,#0ffff0 99px,#00f8ff 101px,#0092ff 107px,#0012ff 114px,#0003ff 115px,#0000c0 121px,#00009f 128px,#00009b 141px,#0000dc 190px,#0004ff 216px,#003bff 271px,#0072ff)"></i>
<i style="background:linear-gradient(90deg,#9f0000,#d80000 51px,#ff0400 65px,#ff3900 73px,#ff8900 80px,#fdff02 87px,#21ffde 97px,#00fcff 102px,#00abff 107px,#0017ff 115px,#0000f9 117px,#0000c3 122px,#0000a0 129px,#00009b 142px,#0000db 190px,#0004ff 217px,#003bff 272px,#0072ff)"></i>
<i style="background:linear-gradient(90deg,#a00000,#d90000 52px,#ff0400 66px,#ff3800 74px,#ff8700 81px,#fffc00 88px,#54ffab 96px,#27ffd8 98px,#18ffe7 100px,#00ffff 103px,#00b1ff 108px,#000dff 117px,#0000fe 118px,#0000c6 123px,#0000a1 130px,#00009a 142px,#0000d3 186px,#0004ff 218px,#003bff 273px,#0072ff)"></i>
<i style="background:linear-gradient(90deg,#a20000,#db0000 53px,#ff0500 67px,#ff3700 75px,#ff8400 82px,#ffe400 88px,#fff700 89px,#deff21 91px,#1affe5 100px,#03fffc 104px,#00c8ff 108px,#0013ff 118px,#0004ff 119px,#0000c1 125px,#0000a0 132px,#00009c 145px,#0000dc 193px,#0004ff 219px,#003cff 274px,#0071ff)"></i>
<i style="background:linear-gradient(90deg,#a30000,#de0000 55px,#ff0500 68px,#ff3f00 77px,#ff8e00 84px,#fff200 90px,#f8ff07 91px,#1dffe2 101px,#00f9ff 106px,#00aaff 111px,#0018ff 119px,#0000fa 121px,#0000bc 127px,#00009f 134px,#00009d 148px,#0000e8 202px,#0005ff 221px,#003dff 276px,#0071ff)"></i>
<i style="background:linear-gradient(90deg,#a40000,#e00000 56px,#ff0600 69px,#ff3e00 78px,#ff8b00 85px,#feff01 92px,#24ffdb 102px,#00fdff 107px,#00b0ff 112px,#000fff 121px,#0000ff 122px,#0000bf 128px,#0000a0 135px,#00009d 149px,#0000e5 201px,#0005ff 222px,#003dff 277px,#0071ff)"></i>
<i style="background:linear-gradient(90deg,#a50000,#e10000 57px,#ff0200 69px,#ff3500 78px,#ff7b00 85px,#ffd600 91px,#fffb00 93px,#85ff7a 99px,#18ffe7 104px,#01fffe 108px,#00c8ff 112px,#0014ff 122px,#0000f7 124px,#0000bb 130px,#00009f 137px,#00009e 152px,#0004ff 222px,#003cff 276px,#0071ff)"></i>
<i style="background:linear-gradient(90deg,#a70000,#e30000 58px,#ff0300 70px,#ff3400 79px,#ff7900 86px,#ffd200 92px,#fff600 94px,#e1ff1e 96px,#1bffe4 105px,#03fffc 109px,#00ddff 112px,#000bff 124px,#0000fc 125px,#0000be 131px,#0000a0 138px,#00009d 152px,#0000e8 205px,#0005ff 224px,#003dff 278px,#0071ff)"></i>
<i style="background:linear-gradient(90deg,#a90000,#e70000 60px,#ff0500 71px,#ff3400 80px,#ff7600 87px,#ffcd00 93px,#faff05 96px,#22ffdd 106px,#13ffec 108px,#00fbff 111px,#00b0ff 116px,#0011ff 125px,#0002ff 126px,#0000c1 132px,#0000a1 139px,#00009c 152px,#0000de 200px,#0005ff 225px,#003dff 279px,#0071ff)"></i>
<i style="background:linear-gradient(90deg,#ab0000,#e90000 61px,#ff0600 72px,#ff3400 81px,#ff7400 88px,#ffc900 94px,#ffff00 97px,#15ffea 108px,#00feff 112px,#00b6ff 117px,#0017ff 126px,#0000f9 128px,#0000bd 134px,#0000a0 141px,#00009e 155px,#0000ea 209px,#0005ff 226px,#003dff 280px,#0071ff)"></i>
<i style="background:linear-gradient(90deg,#ad0000,#ec0000 62px,#ff0400 72px,#ff3400 82px,#ff7300 89px,#ffd600 96px,#fffa00 98px,#b4ff4b 102px,#19ffe6 109px,#01fffe 113px,#00cdff 117px,#000dff 128px,#0000fe 129px,#0000c0 135px,#0000a1 142px,#00009d 155px,#0000e0 204px,#0005ff 227px,#003dff 281px,#0071ff)"></i>
<i style="background:linear-gradient(90deg,#af0000,#f00000 64px,#ff0600 73px,#ff3400 83px,#ff7100 90px,#ffd200 97px,#fff500 99px,#f6ff09 100px,#20ffdf 110px,#12ffed 111px,#00f9ff 115px,#00b1ff 120px,#0013ff 129px,#0000f7 131px,#0000bc 137px,#0000a0 144px,#00009e 158px,#0000ed 213px,#0006ff 229px,#003eff 283px,#0071ff)"></i>
<i style="background:linear-gradient(90deg,#b10000,#f30000 65px,#ff0500 73px,#ff3500 84px,#ff6f00 91px,#ffce00 98px,#fcff03 101px,#11ffee 112px,#00fcff 116px,#00b7ff 121px,#000bff 131px,#0000fc 132px,#0000bf 138px,#0000a1 145px,#00009e 159px,#0000ea 212px,#0006ff 230px,#003eff 283px,#0070ff)"></i>
<i style="background:linear-gradient(90deg,#b40000,#f70000 67px,#ff0a00 75px,#ff3500 85px,#ff7900 93px,#ffda00 100px,#fffd00 102px,#5bffa4 110px,#19ffe6 113px,#00feff 117px,#00bdff 122px,#0011ff 132px,#0003ff 133px,#0000c2 139px,#0000a2 146px,#00009d 159px,#0000df 207px,#0004ff 230px,#003dff 283px,#0070ff)"></i>
<i style="background:linear-gradient(90deg,#b60000,#fa0000 68px,#ff1300 78px,#ff4300 88px,#ff8200 95px,#ffe700 102px,#fff800 103px,#e0ff1f 105px,#0ffff0 115px,#01fffe 118px,#00d2ff 122px,#0009ff 134px,#0000ed 136px,#0000b8 142px,#00009d 150px,#0000a4 168px,#0004ff 231px,#003eff 284px,#0070ff)"></i>
<i style="background:linear-gradient(90deg,#b90000,#fd0000 69px,#ff1f00 82px,#ff5200 91px,#ff9800 98px,#fff300 104px,#f9ff06 105px,#27ffd8 115px,#11ffee 116px,#00faff 120px,#00b8ff 125px,#000fff 135px,#0001ff 136px,#0000c2 142px,#0000a2 149px,#00009d 162px,#0000e0 210px,#0006ff 233px,#003fff 286px,#0070ff)"></i>
<i style="background:linear-gradient(90deg,#bc0000,#ff0400 72px,#ff2e00 86px,#ff6200 94px,#ffb000 101px,#feff01 106px,#44ffbb 115px,#19ffe6 117px,#0cfff3 118px,#00fcff 121px,#00beff 126px,#0007ff 137px,#0000e1 140px,#0000b2 146px,#00009c 154px,#0000a9 175px,#0004ff 233px,#003dff 285px,#0070ff)"></i>
<i style="background:linear-gradient(90deg,#be0000,#ff0400 71px,#ff2b00 86px,#ff6100 95px,#ffad00 102px,#fffb00 107px,#a2ff5d 112px,#0bfff4 119px,#00feff 122px,#00d2ff 126px,#000dff 138px,#0000fe 139px,#0000c1 145px,#0000a2 152px,#00009e 165px,#0000e1 213px,#0005ff 235px,#003eff 287px,#0070ff)"></i>
<i style="background:linear-gradient(90deg,#c10000,#ff0400 70px,#ff2900 86px,#ff5900 95px,#ff9e00 102px,#fff600 108px,#e4ff1b 110px,#12ffed 120px,#00ffff 123px,#00d7ff 127px,#0005ff 140px,#0000be 147px,#0000a1 154px,#00009f 168px,#0000ee 222px,#0006ff 237px,#003fff 289px,#0070ff)"></i>
<i style="background:linear-gradient(90deg,#c40000,#ff0400 69px,#ff2700 86px,#ff5900 96px,#ff9b00 103px,#fbff04 110px,#45ffba 119px,#07fff8 122px,#00faff 125px,#00c0ff 130px,#000cff 141px,#0000fd 142px,#0000c1 148px,#0000a2 155px,#00009e 168px,#0000e2 216px,#0005ff 237px,#003fff 289px,#0070ff)"></i>
<i style="background:linear-gradient(90deg,#c70000,#ff0500 68px,#ff2900 87px,#ff5900 97px,#ff9900 104px,#fffd00 111px,#78ff87 118px,#0cfff3 123px,#00fcff 126px,#00d3ff 130px,#0004ff 143px,#0000be 150px,#0000a1 157px,#00009f 171px,#0000ef 225px,#0006ff 239px,#0040ff 291px,#0070ff)"></i>
<i style="background:linear-gradient(90deg,#c90000,#ff0500 66px,#ff2800 87px,#ff5300 97px,#ff9700 105px,#fff800 112px,#e3ff1c 114px,#04fffb 125px,#00f7ff 128px,#00bcff 133px,#000bff 144px,#0000fd 145px,#0000c1 151px,#0000a3 158px,#00009e 171px,#0000e1 218px,#0004ff 239px,#003fff 291px,#0070ff)"></i>
<i style="background:linear-gradient(90deg,#cc0000,#ff0500 64px,#ff2b00 88px,#ff5a00 99px,#ff9500 106px,#faff05 114px,#5dffa2 122px,#07fff8 126px,#00f8ff 129px,#00c2ff 134px,#0004ff 146px,#0000be 153px,#0000a0 161px,#0000a2 177px,#0004ff 240px,#003fff 291px,#006fff)"></i>
<i style="background:linear-gradient(90deg,#cf0000,#ff0500 61px,#ff2a00 88px,#ff5400 99px,#ff9300 107px,#ffee00 114px,#fffe00 115px,#65ff9a 123px,#10ffef 127px,#02fffd 128px,#00ebff 132px,#00aaff 137px,#000aff 147px,#0000fc 148px,#0000c2 154px,#0000a3 161px,#00009f 174px,#0000e2 221px,#0005ff 242px,#003fff 293px,#006fff)"></i>
<i style="background:linear-gradient(90deg,#d20000,#ff0500 59px,#ff2d00 89px,#ff5500 100px,#ff9100 108px,#ffe900 115px,#fff900 116px,#d1ff2e 119px,#03fffc 129px,#00eeff 133px,#00b1ff 138px,#0004ff 149px,#0000bf 156px,#0000a0 164px,#0000a3 180px,#0005ff 243px,#0040ff 294px,#006fff)"></i>
<i style="background:linear-gradient(90deg,#d40000,#ff0500 56px,#ff2d00 89px,#ff5600 101px,#ff8f00 109px,#ffe400 116px,#faff05 118px,#61ff9e 126px,#0cfff3 130px,#00feff 131px,#00e9ff 135px,#00a9ff 140px,#000bff 150px,#0000fd 151px,#0000c2 157px,#0000a3 164px,#00009f 177px,#0000e3 224px,#0005ff 244px,#0040ff 295px,#006fff)"></i>
<i style="background:linear-gradient(90deg,#d70000,#ff0600 54px,#ff2f00 90px,#ff5600 102px,#ff8d00 110px,#ffdf00 117px,#fffd00 119px,#94ff6b 125px,#01fffe 132px,#00edff 136px,#00b0ff 141px,#0005ff 152px,#0000b9 160px,#00009f 168px,#0000a5 185px,#0004ff 245px,#0040ff 296px,#006fff)"></i>
<i style="background:linear-gradient(90deg,#da0000,#ff0500 51px,#ff3200 91px,#ff5c00 104px,#ff9400 112px,#ffe800 119px,#f7ff08 121px,#5fffa0 129px,#0bfff4 133px,#00feff 134px,#00e8ff 138px,#00a9ff 143px,#000cff 153px,#0000fe 154px,#0000c4 160px,#0000a4 167px,#00009f 180px,#0000e2 226px,#0006ff 247px,#0041ff 298px,#006fff)"></i>
<i style="background:linear-gradient(90deg,#dc0000,#ff0600 48px,#ff3400 92px,#ff5c00 105px,#ff9200 113px,#ffe200 120px,#feff01 122px,#69ff96 130px,#00ffff 135px,#00edff 139px,#00b1ff 144px,#0006ff 155px,#0000d9 159px,#0000ac 166px,#00009d 176px,#0000be 206px,#0004ff 247px,#0040ff 297px,#006fff)"></i>
<i style="background:linear-gradient(90deg,#df0000,#ff0600 45px,#ff3700 93px,#ff5d00 106px,#ff9000 114px,#ffdd00 121px,#fffa00 123px,#c1ff3e 127px,#0bfff4 136px,#00fdff 137px,#00e8ff 141px,#00aaff 146px,#000eff 156px,#0001ff 157px,#0000c5 163px,#0000a5 170px,#00009f 183px,#0000e1 228px,#0005ff 249px,#0041ff 299px,#006fff)"></i>
<i style="background:linear-gradient(90deg,#e20000,#ff0600 42px,#ff3a00 94px,#ff5e00 107px,#ff9700 116px,#ffe600 123px,#fbff04 125px,#68ff97 133px,#00ffff 138px,#00ecff 142px,#00b2ff 147px,#0008ff 158px,#0000ef 160px,#0000bc 166px,#0000a1 174px,#0000a5 190px,#0005ff 250px,#0041ff 300px,#006fff)"></i>
<i style="background:linear-gradient(90deg,#e50000,#ff0600 39px,#ff3e00 96px,#ff6300 109px,#ff9500 117px,#ffe000 124px,#fffd00 126px,#9aff65 132px,#0bfff4 139px,#00fdff 140px,#00e8ff 144px,#00abff 149px,#0003ff 160px,#0000c0 167px,#0000a2 175px,#0000a3 190px,#0004ff 251px,#0041ff 301px,#006eff)"></i>
<i style="background:linear-gradient(90deg,#e80000,#ff0600 36px,#ff4100 97px,#ff6900 111px,#ff9c00 119px,#ffe900 126px,#f8ff07 128px,#7cff83 135px,#01fffe 141px,#00e4ff 146px,#0094ff 152px,#000bff 161px,#0000fd 162px,#0000c4 168px,#0000a5 175px,#0000a0 188px,#0000e4 234px,#0005ff 253px,#0042ff 303px,#006eff)"></i>
<i style="background:linear-gradient(90deg,#eb0000,#ff0700 33px,#ff4300 98px,#ff6900 112px,#ffa200 121px,#fff100 128px,#ffff00 129px,#86ff79 136px,#0cfff3 142px,#00fcff 143px,#00e9ff 147px,#00acff 152px,#0006ff 163px,#0000bb 171px,#0000a1 179px,#0000a7 196px,#0005ff 254px,#0041ff 303px,#006eff)"></i>
<i style="background:linear-gradient(90deg,#ee0000,#ff0700 30px,#ff4800 100px,#ff6f00 114px,#ffa000 122px,#ffeb00 129px,#f6ff09 131px,#7cff83 138px,#02fffd 144px,#00e5ff 149px,#0097ff 155px,#0001ff 165px,#0000bf 172px,#0000a2 180px,#0000a4 195px,#0005ff 255px,#0041ff 304px,#006eff)"></i>
<i style="background:linear-gradient(90deg,#f10000,#ff0800 27px,#ff4b00 101px,#ff7000 115px,#ffa700 124px,#fdff02 132px,#86ff79 139px,#0dfff2 145px,#00fcff 146px,#00e9ff 150px,#00aeff 155px,#0009ff 166px,#0000f0 168px,#0000bd 174px,#0000a2 182px,#0000a6 198px,#0004ff 256px,#0041ff 305px,#006eff)"></i>
<i style="background:linear-gradient(90deg,#f40000,#ff0900 25px,#ff4f00 103px,#ff7500 117px,#ffad00 126px,#fffb00 133px,#b4ff4b 138px,#04fffb 147px,#00e5ff 152px,#0099ff 158px,#0004ff 168px,#0000bb 176px,#0000a1 184px,#0000a7 201px,#0005ff 258px,#0042ff 307px,#006eff)"></i>
<i style="background:linear-gradient(90deg,#f70000,#ff0d00 27px,#ff5200 104px,#ff7500 118px,#ffab00 127px,#fbff04 135px,#87ff78 142px,#00fbff 149px,#00eaff 153px,#00b1ff 158px,#000cff 169px,#0000ff 170px,#0000c6 176px,#0000a4 184px,#0000a3 198px,#0000f8 252px,#0012ff 267px,#004aff 317px,#006eff)"></i>
<i style="background:linear-gradient(90deg,#fa0000,#ff4700 94px,#ff6900 115px,#ff9400 125px,#ffd800 133px,#fffc00 136px,#a3ff5c 142px,#07fff8 150px,#00f4ff 153px,#00c6ff 158px,#0008ff 171px,#0000ef 173px,#0000b8 180px,#0000a0 189px,#0000ae 209px,#0004ff 260px,#0043ff 309px,#006eff)"></i>
<i style="background:linear-gradient(90deg,#fd0000,#ff5700 106px,#ff7b00 121px,#ffaf00 130px,#faff05 138px,#88ff77 145px,#00fdff 152px,#00e3ff 157px,#0097ff 163px,#0003ff 173px,#0000bc 181px,#0000a2 189px,#0000a7 205px,#0004ff 261px,#0042ff 309px,#006dff)"></i>
<i style="background:linear-gradient(90deg,#ff0100,#ff5d00 109px,#ff8000 123px,#ffb400 132px,#fffe00 139px,#a4ff5b 145px,#0afff5 153px,#00fbff 154px,#00e8ff 158px,#00aeff 163px,#000cff 174px,#0000ff 175px,#0000c0 182px,#0000a3 190px,#0000a5 205px,#0005ff 263px,#0043ff 311px,#006dff)"></i>
<i style="background:linear-gradient(90deg,#ff0400,#ff6000 110px,#ff8500 125px,#ffba00 134px,#f9ff06 141px,#8aff75 148px,#02fffd 155px,#00e5ff 160px,#009bff 166px,#0008ff 176px,#0000f0 178px,#0000b9 185px,#0000a1 194px,#0000af 214px,#0005ff 264px,#0043ff 312px,#006dff)"></i>
<i style="background:linear-gradient(90deg,#ff0700,#ff6400 112px,#ff8a00 127px,#ffc000 136px,#fffe00 142px,#94ff6b 149px,#00faff 157px,#00eaff 161px,#00b2ff 166px,#0004ff 178px,#0000bd 186px,#0000a3 194px,#0000a8 210px,#0004ff 265px,#0043ff 313px,#006dff)"></i>
<i style="background:linear-gradient(90deg,#ff0a00,#ff6800 114px,#ff8e00 129px,#ffc600 138px,#fff900 143px,#ecff13 145px,#7bff84 152px,#06fff9 158px,#00eeff 162px,#00bbff 167px,#0000ff 180px,#0000c1 187px,#0000a4 195px,#0000a6 210px,#0005ff 267px,#0044ff 315px,#006dff)"></i>
<i style="background:linear-gradient(90deg,#ff0d00,#ff6c00 116px,#ff8f00 130px,#ffc300 139px,#ffff00 145px,#97ff68 152px,#00feff 160px,#00e3ff 165px,#009aff 171px,#0009ff 181px,#0000f1 183px,#0000ba 190px,#0000a1 199px,#0000ae 218px,#0005ff 268px,#0044ff 316px,#006dff)"></i>
<i style="background:linear-gradient(90deg,#ff1000,#ff6f00 117px,#ff9300 132px,#ffc800 141px,#fff900 146px,#dfff20 149px,#6cff93 156px,#0bfff4 161px,#00faff 162px,#00e9ff 166px,#00b2ff 171px,#0006ff 183px,#0000be 191px,#0000a4 199px,#0000a8 215px,#0004ff 269px,#0043ff 316px,#006dff)"></i>
<i style="background:linear-gradient(90deg,#ff1200,#ff7300 119px,#ff9800 134px,#ffcd00 143px,#ffff00 148px,#9aff65 155px,#04fffb 163px,#00ddff 169px,#0082ff 176px,#0002ff 185px,#0000c3 192px,#0000a5 200px,#0000a5 214px,#0005ff 271px,#0044ff 318px,#006dff)"></i>
<i style="background:linear-gradient(90deg,#ff1500,#ff7700 121px,#ff9c00 136px,#ffd300 145px,#f9ff06 150px,#93ff6c 157px,#00fcff 165px,#00e3ff 170px,#009bff 176px,#000bff 186px,#0000fe 187px,#0000c2 194px,#0000a5 202px,#0000a7 217px,#0005ff 272px,#0045ff 319px,#006cff)"></i>
<i style="background:linear-gradient(90deg,#ff1800,#ff7b00 123px,#ffa100 138px,#ffd800 147px,#ffff00 151px,#9eff61 158px,#0afff5 166px,#00f9ff 167px,#00e8ff 171px,#00a5ff 177px,#0008ff 188px,#0000f1 190px,#0000bb 197px,#0000a2 206px,#0000af 225px,#0004ff 273px,#0045ff 320px,#006cff)"></i>
<i style="background:linear-gradient(90deg,#ff1b00,#ff7f00 125px,#ffa100 139px,#ffd500 148px,#f9ff06 153px,#97ff68 160px,#04fffb 168px,#00ddff 174px,#0083ff 181px,#0005ff 190px,#0000bf 198px,#0000a5 206px,#0000a8 221px,#0005ff 275px,#0046ff 322px,#006cff)"></i>
<i style="background:linear-gradient(90deg,#ff1e00,#ff8200 126px,#ffa600 141px,#ffda00 150px,#ffff00 154px,#a1ff5e 161px,#00fdff 170px,#00e3ff 175px,#009dff 181px,#0002ff 192px,#0000be 200px,#0000a5 208px,#0000aa 224px,#0005ff 276px,#0046ff 323px,#006cff)"></i>
<i style="background:linear-gradient(90deg,#ff2100,#ff8600 128px,#ffaa00 143px,#ffdf00 152px,#f9ff06 156px,#9bff64 163px,#0bfff4 171px,#00f8ff 172px,#00e0ff 177px,#0099ff 183px,#000cff 193px,#0000ff 194px,#0000c3 201px,#0000a6 209px,#0000a8 224px,#0004ff 277px,#0045ff 323px,#006cff)"></i>
<i style="background:linear-gradient(90deg,#ff2500,#ff8a00 130px,#ffae00 145px,#ffe400 154px,#ffff00 157px,#a5ff5a 164px,#05fffa 173px,#00deff 179px,#0095ff 185px,#0009ff 195px,#0000f2 197px,#0000bc 204px,#0000a3 213px,#0000af 231px,#0005ff 279px,#0046ff 325px,#006cff)"></i>
<i style="background:linear-gradient(90deg,#ff2800,#ff8e00 132px,#ffb300 147px,#ffe800 156px,#faff05 159px,#9fff60 166px,#00feff 175px,#00dbff 181px,#0083ff 188px,#0007ff 197px,#0000dd 201px,#0000b3 208px,#0000a2 218px,#0000bf 243px,#0004ff 280px,#0046ff 326px,#006bff)"></i>
<i style="background:linear-gradient(90deg,#ff2b00,#ff9200 134px,#ffb700 149px,#ffed00 158px,#ffff00 160px,#a9ff56 167px,#0dfff2 176px,#00f9ff 177px,#00e2ff 182px,#009cff 188px,#0004ff 199px,#0000c0 207px,#0000a6 215px,#0000a9 230px,#0004ff 281px,#0046ff 327px,#006bff)"></i>
<i style="background:linear-gradient(90deg,#ff2e00,#ff9600 136px,#ffbb00 151px,#fff200 160px,#faff05 162px,#a4ff5b 169px,#08fff7 178px,#00f6ff 180px,#00d6ff 185px,#006dff 193px,#0002ff 201px,#0000bf 209px,#0000a5 218px,#0000ae 235px,#0005ff 283px,#0047ff 329px,#006bff)"></i>
<i style="background:linear-gradient(90deg,#ff3100,#ff9a00 138px,#ffbf00 153px,#fff600 162px,#f5ff0a 164px,#9fff60 171px,#02fffd 180px,#00ddff 186px,#0087ff 193px,#0000ff 203px,#0000c4 210px,#0000a7 218px,#0000a8 232px,#0004ff 284px,#0047ff 330px,#006bff)"></i>
<i style="background:linear-gradient(90deg,#ff3300,#ff9c00 139px,#ffbf00 154px,#fff200 163px,#f1ff0e 166px,#9aff65 173px,#00fdff 182px,#00dbff 188px,#0084ff 195px,#000aff 204px,#0000f3 206px,#0000be 213px,#0000a5 222px,#0000b0 240px,#0005ff 286px,#0047ff 331px,#006bff)"></i>
<i style="background:linear-gradient(90deg,#ff3600,#ffa000 141px,#ffc300 156px,#fff700 165px,#f6ff09 167px,#a4ff5b 174px,#1effe1 182px,#00f8ff 184px,#00e1ff 189px,#009eff 195px,#0008ff 206px,#0000f1 208px,#0000bd 215px,#0000a5 224px,#0000b1 242px,#0004ff 287px,#0047ff 332px,#006bff)"></i>
<i style="background:linear-gradient(90deg,#ff3900,#ffa400 143px,#ffc700 158px,#fbff04 168px,#adff52 175px,#2cffd3 183px,#07fff8 185px,#00f2ff 188px,#00cdff 193px,#0006ff 208px,#0000d6 213px,#0000ae 221px,#0000a5 233px,#0000dc 268px,#0005ff 289px,#0048ff 334px,#006aff)"></i>
<i style="background:linear-gradient(90deg,#ff3c00,#ffa800 145px,#ffcb00 160px,#ffff00 169px,#b6ff49 176px,#4bffb4 183px,#03fffc 187px,#00deff 193px,#008bff 200px,#0005ff 210px,#0000c2 218px,#0000a6 227px,#0000ae 243px,#0005ff 290px,#0048ff 335px,#006aff)"></i>
<i style="background:linear-gradient(90deg,#ff3f00,#ffab00 147px,#ffcf00 162px,#fbff04 171px,#b2ff4d 178px,#36ffc9 186px,#00feff 189px,#00dcff 195px,#0088ff 202px,#0003ff 212px,#0000c1 220px,#0000a6 229px,#0000b0 246px,#0004ff 291px,#0048ff 336px,#006aff)"></i>
<i style="background:linear-gradient(90deg,#ff4200,#ffaf00 149px,#ffd200 164px,#ffff00 172px,#bbff44 179px,#54ffab 186px,#00faff 191px,#00daff 197px,#0086ff 204px,#0002ff 214px,#0000c1 222px,#0000a7 231px,#0000b0 248px,#0005ff 293px,#0048ff 337px,#006aff)"></i>
<i style="background:linear-gradient(90deg,#ff4400,#ffb300 151px,#ffd600 166px,#fcff03 174px,#b7ff48 181px,#51ffae 188px,#0afff5 192px,#00f5ff 194px,#00d9ff 199px,#0084ff 206px,#0001ff 216px,#0000c6 223px,#0000a9 231px,#0000aa 245px,#0004ff 294px,#0048ff 338px,#0069ff)"></i>
<i style="background:linear-gradient(90deg,#ff4700,#ffb600 153px,#ffda00 168px,#ffff00 175px,#bfff40 182px,#5effa1 189px,#07fff8 194px,#00edff 198px,#00c3ff 203px,#0000ff 218px,#0000c6 225px,#0000a9 233px,#0000ab 247px,#0005ff 296px,#0049ff 340px,#0069ff)"></i>
<i style="background:linear-gradient(90deg,#ff4900,#ffba00 155px,#ffdd00 170px,#fcff03 177px,#bcff43 184px,#5affa5 191px,#03fffc 196px,#00d6ff 203px,#0072ff 211px,#0000fe 220px,#0000c5 227px,#0000aa 235px,#0000ab 249px,#0004ff 297px,#0049ff 341px,#0069ff)"></i>
<i style="background:linear-gradient(90deg,#ff4c00,#ffbd00 157px,#ffe100 172px,#ffff00 178px,#c3ff3c 185px,#67ff98 192px,#00ffff 198px,#00d4ff 205px,#0071ff 213px,#0009ff 221px,#0000f3 223px,#0000c0 230px,#0000a7 239px,#0000b2 256px,#0004ff 299px,#004aff 343px,#0069ff)"></i>
<i style="background:linear-gradient(90deg,#ff4e00,#ffc100 159px,#ffe400 174px,#fbff04 180px,#c0ff3f 187px,#63ff9c 194px,#00fdff 200px,#00dcff 206px,#008bff 213px,#0008ff 223px,#0000f2 225px,#0000c0 232px,#0000a7 241px,#0000b2 258px,#0005ff 301px,#004aff 345px,#0068ff)"></i>
<i style="background:linear-gradient(90deg,#ff5100,#ffc400 161px,#ffe700 176px,#feff01 181px,#bdff42 189px,#60ff9f 196px,#00faff 202px,#00dbff 208px,#008aff 215px,#0007ff 225px,#0000e9 228px,#0000bb 235px,#0000a6 245px,#0000bc 266px,#0005ff 303px,#004bff 347px,#0068ff)"></i>
<i style="background:linear-gradient(90deg,#ff5300,#ffc700 163px,#ffea00 178px,#fbff04 183px,#baff45 191px,#5effa1 198px,#0afff5 203px,#00f8ff 204px,#00e2ff 209px,#00a3ff 215px,#0007ff 227px,#0000e8 230px,#0000bb 237px,#0000a6 247px,#0000bc 268px,#0004ff 304px,#004bff 348px,#0067ff)"></i>
<i style="background:linear-gradient(90deg,#ff5500,#ffca00 165px,#ffee00 180px,#f8ff07 185px,#b7ff48 193px,#5bffa4 200px,#08fff7 205px,#00f5ff 207px,#00d9ff 212px,#0087ff 219px,#0006ff 229px,#0000df 233px,#0000b3 241px,#0000a6 252px,#0000cc 279px,#0004ff 306px,#004bff 350px,#0067ff)"></i>
<i style="background:linear-gradient(90deg,#ff5800,#ffce00 167px,#fff100 182px,#fbff04 186px,#beff41 194px,#68ff97 201px,#06fff9 207px,#00e1ff 213px,#00a1ff 219px,#0006ff 231px,#0000d1 237px,#0000ae 245px,#0000a8 257px,#0000e3 292px,#0004ff 308px,#004cff 352px,#0066ff)"></i>
<i style="background:linear-gradient(90deg,#ff5a00,#ffd100 169px,#fff400 184px,#f8ff07 188px,#bcff43 196px,#65ff9a 203px,#04fffb 209px,#00d8ff 216px,#0078ff 224px,#0006ff 233px,#0000c4 241px,#0000a9 250px,#0000b0 266px,#0005ff 310px,#004dff 354px,#0066ff)"></i>
<i style="background:linear-gradient(90deg,#ff5c00,#ffd400 171px,#fff700 186px,#f5ff0a 190px,#b9ff46 198px,#63ff9c 205px,#02fffd 211px,#00d7ff 218px,#0077ff 226px,#0005ff 235px,#0000bf 244px,#0000a8 253px,#0000b3 270px,#0005ff 312px,#004cff 355px,#0065ff)"></i>
<i style="background:linear-gradient(90deg,#ff5e00,#ffd700 173px,#fff900 188px,#edff12 193px,#adff52 201px,#52ffad 208px,#01fffe 213px,#00d7ff 220px,#0077ff 228px,#0005ff 237px,#0000c0 246px,#0000a8 255px,#0000b3 272px,#0004ff 313px,#004dff 357px,#0064ff)"></i>
<i style="background:linear-gradient(90deg,#ff6000,#ffda00 175px,#feff01 191px,#c7ff38 200px,#7bff84 207px,#00ffff 215px,#00d6ff 222px,#0077ff 230px,#0005ff 239px,#0000c0 248px,#0000a8 257px,#0000b3 274px,#0004ff 315px,#004eff 359px,#0063ff)"></i>
<i style="background:linear-gradient(90deg,#ff6200,#ffdd00 177px,#fbff04 193px,#c4ff3b 202px,#79ff86 209px,#00feff 217px,#00d6ff 224px,#0076ff 232px,#0006ff 241px,#0000c0 250px,#0000a8 259px,#0000b3 276px,#0004ff 317px,#004dff 360px,#0063ff)"></i>
<i style="background:linear-gradient(90deg,#ff6500,#ffe000 179px,#fcff03 194px,#caff35 203px,#84ff7b 210px,#00fdff 219px,#00deff 225px,#0091ff 232px,#0006ff 243px,#0000cb 250px,#0000ad 258px,#0000ab 271px,#0000f1 310px,#0007ff 320px,#004fff 363px,#0062ff)"></i>
<i style="background:linear-gradient(90deg,#ff6700,#ffe300 181px,#faff05 196px,#c8ff37 205px,#83ff7c 212px,#00fcff 221px,#00deff 227px,#0091ff 234px,#0006ff 245px,#0000d9 250px,#0000b2 258px,#0000a8 270px,#0000da 301px,#0005ff 321px,#004fff 364px,#0061ff)"></i>
<i style="background:linear-gradient(90deg,#ff6900,#ffe600 183px,#fbff04 197px,#cdff32 206px,#8dff72 213px,#1dffe2 221px,#00fbff 223px,#00deff 229px,#0091ff 236px,#0006ff 247px,#0000e1 251px,#0000b5 259px,#0000a7 270px,#0000cc 296px,#0005ff 323px,#004fff 366px,#0060ff)"></i>
<i style="background:linear-gradient(90deg,#ff6b00,#ffe900 185px,#fbff04 198px,#cbff34 208px,#8bff74 215px,#1cffe3 223px,#00fbff 225px,#00deff 231px,#0091ff 238px,#0007ff 249px,#0000e9 252px,#0000b9 260px,#0000a7 270px,#0000c1 292px,#0004ff 324px,#004fff 367px,#005fff)"></i>
<i style="background:linear-gradient(90deg,#ff6d00,#ffeb00 187px,#f9ff06 200px,#c9ff36 210px,#8aff75 217px,#1cffe3 225px,#00faff 227px,#00deff 233px,#0091ff 240px,#0007ff 251px,#0000ea 254px,#0000b9 262px,#0000a8 272px,#0000bf 293px,#0004ff 326px,#0050ff 369px,#005dff)"></i>
<i style="background:linear-gradient(90deg,#ff6f00,#ffee00 189px,#f9ff06 201px,#cdff32 211px,#88ff77 219px,#1bffe4 227px,#00faff 229px,#00deff 235px,#0092ff 242px,#0008ff 253px,#0000f3 255px,#0000bd 263px,#0000a8 273px,#0000ba 292px,#0004ff 328px,#0050ff 371px,#005cff)"></i>
<i style="background:linear-gradient(90deg,#ff7100,#fff300 192px,#f9ff06 202px,#d1ff2e 212px,#92ff6d 220px,#3affc5 227px,#00faff 231px,#00deff 237px,#0092ff 244px,#0009ff 255px,#0000f4 257px,#0000be 265px,#0000a8 275px,#0000ba 294px,#0005ff 330px,#0051ff 373px,#005bff)"></i>
<i style="background:linear-gradient(90deg,#ff7300,#fff600 194px,#f9ff06 203px,#cfff30 214px,#91ff6e 222px,#39ffc6 229px,#00faff 233px,#00deff 239px,#0092ff 246px,#0009ff 257px,#0000f5 259px,#0000be 267px,#0000a8 277px,#0000ba 296px,#0005ff 332px,#0052ff 375px,#0059ff)"></i>
<i style="background:linear-gradient(90deg,#ff7600,#fff800 196px,#f3ff0c 206px,#c7ff38 217px,#85ff7a 225px,#1bffe4 233px,#00faff 235px,#00deff 241px,#0093ff 248px,#000aff 259px,#0000ff 260px,#0000c4 268px,#0000aa 277px,#0000b2 293px,#0003ff 333px,#0051ff 376px,#0058ff)"></i>
<i style="background:linear-gradient(90deg,#ff7800,#fffb00 198px,#e8ff17 211px,#b8ff47 221px,#6dff92 229px,#00faff 237px,#00deff 243px,#0093ff 250px,#0001ff 262px,#0000c4 270px,#0000aa 279px,#0000b3 295px,#0004ff 335px,#0052ff 378px,#0056ff)"></i>
<i style="background:linear-gradient(90deg,#ff7a00,#fbff04 203px,#d7ff28 217px,#9fff60 226px,#53ffac 233px,#00faff 239px,#00deff 245px,#0094ff 252px,#0001ff 264px,#0000c5 272px,#0000ab 281px,#0000b3 297px,#0004ff 337px,#0053ff 380px,#0054ff)"></i>
<i style="background:linear-gradient(90deg,#ff7c00,#faff05 204px,#d9ff26 218px,#a5ff5a 227px,#5fffa0 234px,#00faff 241px,#00ddff 247px,#0094ff 254px,#0002ff 266px,#0000c5 274px,#0000ab 283px,#0000b3 299px,#0004ff 339px,#0052ff)"></i>
<i style="background:linear-gradient(90deg,#ff7f00,#fbff04 203px,#daff25 219px,#abff54 228px,#5effa1 236px,#00faff 243px,#00d5ff 250px,#007bff 258px,#0003ff 268px,#0000c1 277px,#0000aa 286px,#0000b6 303px,#0005ff 341px,#0050ff)"></i>
<i style="background:linear-gradient(90deg,#ff8100,#fbff04 202px,#dbff24 220px,#a9ff56 230px,#5dffa2 238px,#00faff 245px,#00d5ff 252px,#007cff 260px,#0004ff 270px,#0000c1 279px,#0000aa 288px,#0000b6 305px,#0005ff 343px,#004eff)"></i>
<i style="background:linear-gradient(90deg,#ff8400,#faff05 201px,#dbff24 221px,#aeff51 231px,#68ff97 239px,#00fbff 247px,#00d6ff 254px,#007dff 262px,#0005ff 272px,#0000c2 281px,#0000aa 290px,#0000b4 306px,#0005ff 345px,#004cff)"></i>
<i style="background:linear-gradient(90deg,#ff8600,#fbff04 199px,#dbff24 222px,#b2ff4d 232px,#72ff8d 240px,#00fbff 249px,#00d6ff 256px,#007eff 264px,#0006ff 274px,#0000d3 280px,#0000b1 288px,#0000ab 300px,#0000de 330px,#0006ff 347px,#0049ff)"></i>
<i style="background:linear-gradient(90deg,#ff8900,#faff05 197px,#daff25 223px,#b0ff4f 234px,#71ff8e 242px,#00fbff 251px,#00f0ff 253px,#00d6ff 258px,#007fff 266px,#0007ff 276px,#0000ea 279px,#0000bb 287px,#0000a9 297px,#0000c0 317px,#0004ff 348px,#0047ff)"></i>
<i style="background:linear-gradient(90deg,#ff8b00,#faff05 194px,#dcff23 223px,#b4ff4b 235px,#7aff85 243px,#1affe5 251px,#00fcff 253px,#00efff 255px,#00d6ff 260px,#007fff 268px,#0008ff 278px,#0000f4 280px,#0000bf 288px,#0000aa 298px,#0000bc 317px,#0004ff 350px,#0044ff)"></i>
<i style="background:linear-gradient(90deg,#ff8e00,#faff05 191px,#d9ff26 225px,#b1ff4e 237px,#79ff86 245px,#1affe5 253px,#00fcff 255px,#00f0ff 256px,#00ddff 261px,#0099ff 268px,#0009ff 280px,#0000f5 282px,#0000c0 290px,#0000aa 300px,#0000bb 318px,#0004ff 352px,#0041ff)"></i>
<i style="background:linear-gradient(90deg,#ff9000,#faff05 188px,#d8ff27 226px,#b4ff4b 238px,#80ff7f 246px,#28ffd7 254px,#00fdff 257px,#00efff 258px,#00ddff 263px,#009aff 270px,#0000ff 283px,#0000c5 291px,#0000ac 300px,#0000b4 316px,#0005ff 354px,#003eff)"></i>
<i style="background:linear-gradient(90deg,#ff9300,#faff05 184px,#d6ff29 227px,#b2ff4d 240px,#7fff80 248px,#28ffd7 256px,#00fdff 259px,#00eeff 260px,#00ddff 265px,#009bff 272px,#0001ff 285px,#0000c6 293px,#0000ac 302px,#0000b3 317px,#0005ff 356px,#003bff)"></i>
<i style="background:linear-gradient(90deg,#ff9600,#faff05 180px,#d3ff2c 229px,#afff50 242px,#75ff8a 251px,#1bffe4 259px,#00feff 261px,#00efff 262px,#00d6ff 268px,#0090ff 275px,#0003ff 287px,#0000c2 296px,#0000aa 306px,#0000bb 324px,#0005ff 358px,#0038ff)"></i>
<i style="background:linear-gradient(90deg,#ff9900,#faff05 176px,#d0ff2f 231px,#adff52 244px,#74ff8b 253px,#1cffe3 261px,#00ffff 263px,#00f0ff 264px,#00d6ff 270px,#0091ff 277px,#0004ff 289px,#0000c2 298px,#0000ab 307px,#0000b6 323px,#0003ff 359px,#0035ff)"></i>
<i style="background:linear-gradient(90deg,#ff9b00,#faff05 172px,#ccff33 233px,#aaff55 246px,#73ff8c 255px,#1cffe3 263px,#00ffff 265px,#00ebff 267px,#00d6ff 272px,#0092ff 279px,#0005ff 291px,#0000bf 301px,#0000aa 311px,#0000be 330px,#0004ff 361px,#0031ff)"></i>
<i style="background:linear-gradient(90deg,#ff9e00,#faff05 168px,#c9ff36 235px,#a8ff57 248px,#72ff8d 257px,#1cffe3 265px,#01fffe 267px,#00eaff 269px,#00d6ff 274px,#0093ff 281px,#0006ff 293px,#0000e2 297px,#0000b8 305px,#0000aa 316px,#0000cc 339px,#0004ff 363px,#002dff)"></i>
<i style="background:linear-gradient(90deg,#ffa100,#faff05 164px,#c6ff39 237px,#a1ff5e 251px,#69ff96 260px,#10ffef 268px,#02fffd 269px,#00e9ff 271px,#00d6ff 276px,#0094ff 283px,#0008ff 295px,#0000f4 297px,#0000c0 305px,#0000ab 315px,#0000bc 333px,#0004ff 365px,#002aff)"></i>
<i style="background:linear-gradient(90deg,#ffa400,#faff05 160px,#c3ff3c 239px,#9fff60 253px,#68ff97 262px,#10ffef 270px,#03fffc 271px,#00e9ff 273px,#00d6ff 278px,#0095ff 285px,#0000fe 298px,#0000c5 306px,#0000ac 315px,#0000b4 330px,#0005ff 367px,#0026ff)"></i>
<i style="background:linear-gradient(90deg,#ffa600,#faff05 156px,#bfff40 241px,#9dff62 255px,#67ff98 264px,#11ffee 272px,#04fffb 273px,#00e8ff 275px,#00d6ff 280px,#0096ff 287px,#0001ff 300px,#0000c6 308px,#0000ac 317px,#0000b4 332px,#0005ff 369px,#0022ff)"></i>
<i style="background:linear-gradient(90deg,#ffa900,#faff05 152px,#bcff43 243px,#9aff65 257px,#66ff99 266px,#12ffed 274px,#00f6ff 276px,#00e8ff 277px,#00d0ff 283px,#007fff 291px,#0002ff 302px,#0000c2 311px,#0000ab 321px,#0000bb 338px,#0003ff 370px,#001eff)"></i>
<i style="background:linear-gradient(90deg,#ffac00,#faff05 148px,#b9ff46 245px,#98ff67 259px,#65ff9a 268px,#12ffed 276px,#00f7ff 278px,#00e9ff 279px,#00d0ff 285px,#008dff 292px,#0003ff 304px,#0000c3 313px,#0000ac 322px,#0000b7 338px,#0004ff 372px,#001aff)"></i>
<i style="background:linear-gradient(90deg,#ffaf00,#faff05 143px,#b6ff49 247px,#96ff69 261px,#64ff9b 270px,#13ffec 278px,#00f8ff 280px,#00e4ff 282px,#00c9ff 288px,#0076ff 296px,#0004ff 306px,#0000bf 316px,#0000ab 326px,#0000be 344px,#0004ff 374px,#0015ff)"></i>
<i style="background:linear-gradient(90deg,#ffb100,#faff05 139px,#b3ff4c 249px,#90ff6f 264px,#5bffa4 273px,#07fff8 281px,#00e4ff 284px,#00c9ff 290px,#0078ff 298px,#0006ff 308px,#0000cf 315px,#0000af 324px,#0000b1 338px,#0004ff 376px,#0011ff)"></i>
<i style="background:linear-gradient(90deg,#ffb400,#faff05 135px,#aeff51 252px,#8eff71 266px,#5affa5 275px,#00faff 284px,#00e3ff 286px,#00caff 292px,#0079ff 300px,#0007ff 310px,#0000eb 313px,#0000bc 321px,#0000ab 331px,#0000c2 350px,#0005ff 378px,#000cff)"></i>
<i style="background:linear-gradient(90deg,#ffb700,#faff05 131px,#abff54 254px,#8cff73 268px,#5affa5 277px,#00fbff 286px,#00e2ff 288px,#00caff 294px,#007aff 302px,#0000fe 313px,#0000c6 321px,#0000ad 330px,#0000b6 345px,#0005ff 380px,#0008ff)"></i>
<i style="background:linear-gradient(90deg,#ffb900,#faff05 127px,#a8ff57 256px,#86ff79 271px,#51ffae 280px,#00fcff 288px,#00e2ff 290px,#00cbff 296px,#007cff 304px,#0000ff 315px,#0000c6 323px,#0000ad 332px,#0000b6 347px,#0003ff)"></i>
<i style="background:linear-gradient(90deg,#ffbc00,#faff05 124px,#a4ff5b 259px,#84ff7b 273px,#51ffae 282px,#00feff 290px,#00e3ff 292px,#00cbff 298px,#007dff 306px,#0002ff 317px,#0000c2 326px,#0000ac 336px,#0000bd 353px,#0000fe)"></i>
<i style="background:linear-gradient(90deg,#ffbe00,#faff05 120px,#a1ff5e 261px,#82ff7d 275px,#50ffaf 284px,#00ffff 292px,#00e5ff 294px,#00c4ff 301px,#0073ff 309px,#0003ff 319px,#0000c3 328px,#0000ad 337px,#0000b9 353px,#0000f9)"></i>
<i style="background:linear-gradient(90deg,#ffc100,#faff05 116px,#9eff61 263px,#7cff83 278px,#48ffb7 287px,#01fffe 294px,#00dfff 297px,#00c5ff 303px,#0075ff 311px,#0005ff 321px,#0000bf 331px,#0000ac 341px,#0000c1 359px,#0000f4)"></i>
<i style="background:linear-gradient(90deg,#ffc300,#faff05 112px,#9aff65 266px,#7bff84 280px,#48ffb7 289px,#02fffd 296px,#00deff 299px,#00c6ff 305px,#0076ff 313px,#0006ff 323px,#0000dc 328px,#0000b6 336px,#0000ad 347px,#0000d7 371px,#0000ef)"></i>
<i style="background:linear-gradient(90deg,#ffc500,#faff05 109px,#98ff67 268px,#75ff8a 283px,#40ffbf 292px,#03fffc 298px,#00ddff 301px,#00c6ff 307px,#0078ff 315px,#0008ff 325px,#0000f4 327px,#0000c1 335px,#0000ac 345px,#0000c1 363px,#0000eb)"></i>
<i style="background:linear-gradient(90deg,#ffc800,#faff05 105px,#95ff6a 270px,#73ff8c 285px,#40ffbf 294px,#05fffa 300px,#00deff 303px,#00c7ff 309px,#007aff 317px,#0000fe 328px,#0000c6 336px,#0000ae 345px,#0000b8 360px,#0000e6)"></i>
<i style="background:linear-gradient(90deg,#ffca00,#faff05 101px,#91ff6e 273px,#72ff8d 287px,#40ffbf 296px,#06fff9 302px,#00dbff 306px,#00c0ff 312px,#0064ff 321px,#0001ff 330px,#0000c7 338px,#0000ae 347px,#0000b8 362px,#0000e1)"></i>
<i style="background:linear-gradient(90deg,#ffcc00,#faff05 98px,#8eff71 275px,#6cff93 290px,#37ffc8 299px,#00faff 305px,#00dbff 308px,#00c1ff 314px,#0071ff 322px,#0002ff 332px,#0000c3 341px,#0000ad 350px,#0000bb 366px,#0000dd)"></i>
<i style="background:linear-gradient(90deg,#ffce00,#faff05 94px,#8aff75 278px,#6bff94 292px,#38ffc7 301px,#00fbff 307px,#00daff 310px,#00c2ff 316px,#0073ff 324px,#0004ff 334px,#0000c4 343px,#0000ad 352px,#0000ba 367px,#0000d8)"></i>
<i style="background:linear-gradient(90deg,#ffd100,#faff05 91px,#88ff77 280px,#69ff96 294px,#38ffc7 303px,#00fdff 309px,#00daff 312px,#00c2ff 318px,#0074ff 326px,#0005ff 336px,#0000c0 346px,#0000ad 356px,#0000c4 374px,#0000d3)"></i>
<i style="background:linear-gradient(90deg,#ffd300,#faff05 87px,#85ff7a 282px,#64ff9b 297px,#30ffcf 306px,#00feff 311px,#00d9ff 314px,#00c3ff 320px,#0076ff 328px,#0006ff 338px,#0000e3 342px,#0000b9 350px,#0000ad 360px,#0000cd 380px,#0000cf)"></i>
<i style="background:linear-gradient(90deg,#ffd500,#faff05 84px,#82ff7d 285px,#63ff9c 299px,#30ffcf 308px,#00ffff 313px,#00dbff 316px,#00c4ff 322px,#0077ff 330px,#0000fd 341px,#0000c6 349px,#0000ae 358px,#0000ba 373px,#0000ca)"></i>
<i style="background:linear-gradient(90deg,#ffd700,#f9ff06 81px,#7fff80 287px,#61ff9e 301px,#30ffcf 310px,#01fffe 315px,#00d8ff 319px,#00bdff 325px,#0062ff 334px,#0000ff 343px,#0000c6 351px,#0000ae 360px,#0000ba 375px,#0000c6)"></i>
<i style="background:linear-gradient(90deg,#ffd900,#faff05 77px,#7bff84 290px,#5cffa3 304px,#28ffd7 313px,#02fffd 317px,#00d7ff 321px,#00beff 327px,#006fff 335px,#0001ff 345px,#0000c7 353px,#0000af 362px,#0000ba 377px,#0000c2)"></i>
<i style="background:linear-gradient(90deg,#ffdb00,#f9ff06 74px,#79ff86 292px,#5affa5 306px,#27ffd8 315px,#03fffc 319px,#00d6ff 323px,#00beff 329px,#0070ff 337px,#0002ff 347px,#0000c3 356px,#0000ae 365px,#0000be)"></i>
<i style="background:linear-gradient(90deg,#ffdd00,#f9ff06 71px,#77ff88 294px,#59ffa6 308px,#27ffd8 317px,#03fffc 321px,#00d5ff 325px,#00beff 331px,#0071ff 339px,#0003ff 349px,#0000c3 358px,#0000ae 367px,#0000bb)"></i>
<i style="background:linear-gradient(90deg,#ffdf00,#f9ff06 68px,#74ff8b 296px,#53ffac 311px,#1fffe0 320px,#04fffb 323px,#00d5ff 327px,#00bfff 333px,#0073ff 341px,#0004ff 351px,#0000c4 360px,#0000ae 369px,#0000b7)"></i>
<i style="background:linear-gradient(90deg,#ffe100,#f9ff06 65px,#71ff8e 299px,#52ffad 313px,#1fffe0 322px,#00f9ff 326px,#00d7ff 329px,#00bfff 335px,#0074ff 343px,#0005ff 353px,#0000c0 363px,#0000ae 373px,#0000b4)"></i>
<i style="background:linear-gradient(90deg,#ffe200,#f9ff06 62px,#6eff91 301px,#50ffaf 315px,#1fffe0 324px,#00f9ff 328px,#00d2ff 332px,#00b8ff 338px,#005eff 347px,#0006ff 355px,#0000dc 360px,#0000b7 368px,#0000b0 379px,#0000b2)"></i>
<i style="background:linear-gradient(90deg,#ffe400,#f9ff06 59px,#6cff93 303px,#4bffb4 318px,#16ffe9 327px,#00faff 330px,#00d2ff 334px,#00b9ff 340px,#006aff 348px,#0000fd 358px,#0000c5 366px,#0000af 375px,#0000b0)"></i>
<i style="background:linear-gradient(90deg,#ffe600,#f9ff06 56px,#6aff95 305px,#4affb5 320px,#16ffe9 329px,#00faff 332px,#00d1ff 336px,#00b9ff 342px,#006bff 350px,#0000fd 360px,#0000c6 368px,#0000af 377px,#0000af)"></i>
<i style="background:linear-gradient(90deg,#ffe800,#f9ff06 54px,#67ff98 308px,#48ffb7 322px,#16ffe9 331px,#00fbff 334px,#00d0ff 338px,#00b9ff 344px,#006cff 352px,#0000fe 362px,#0000c6 370px,#0000af 379px,#0000ae)"></i>
<i style="background:linear-gradient(90deg,#ffe900,#f9ff06 51px,#64ff9b 310px,#43ffbc 325px,#0efff1 334px,#00fbff 336px,#00d0ff 340px,#00baff 346px,#006dff 354px,#0000ff 364px,#0000c6 372px,#0000af)"></i>
<i style="background:linear-gradient(90deg,#ffeb00,#f9ff06 48px,#62ff9d 312px,#42ffbd 327px,#0efff1 336px,#00fbff 338px,#00d1ff 342px,#00baff 348px,#006eff 356px,#0001ff 366px,#0000c7 374px,#0000b2)"></i>
<i style="background:linear-gradient(90deg,#ffed00,#f8ff07 46px,#5fffa0 315px,#40ffbf 329px,#0efff1 338px,#00fcff 340px,#00cdff 345px,#00b3ff 351px,#0058ff 360px,#0001ff 368px,#0000c7 376px,#0000b5)"></i>
<i style="background:linear-gradient(90deg,#ffee00,#f8ff07 44px,#5dffa2 317px,#3fffc0 331px,#0efff1 340px,#00fcff 342px,#00ccff 347px,#00b3ff 353px,#0059ff 362px,#0002ff 370px,#0000c3 379px,#0000bb)"></i>
<i style="background:linear-gradient(90deg,#fff000,#f8ff07 41px,#5bffa4 319px,#3affc5 334px,#00fcff 344px,#00ccff 349px,#00b3ff 355px,#0065ff 363px,#0003ff 372px,#0000c3)"></i>
<i style="background:linear-gradient(90deg,#fff100,#f7ff08 39px,#59ffa6 321px,#39ffc6 336px,#00fcff 346px,#00cbff 351px,#00b3ff 357px,#0066ff 365px,#0003ff 374px,#0000cd)"></i>
<i style="background:linear-gradient(90deg,#fff300,#f6ff09 38px,#56ffa9 324px,#37ffc8 338px,#00fcff 348px,#00caff 353px,#00b4ff 359px,#0066ff 367px,#0003ff 376px,#0000da)"></i>
<i style="background:linear-gradient(90deg,#fff400,#f5ff0a 37px,#54ffab 326px,#36ffc9 340px,#00fcff 350px,#00caff 355px,#00b4ff 361px,#0067ff 369px,#0004ff 378px,#0000e8)"></i>
<i style="background:linear-gradient(90deg,#fff600,#f4ff0b 38px,#52ffad 328px,#31ffce 343px,#00fbff 352px,#00cbff 357px,#00b4ff 363px,#0067ff 371px,#0004ff 380px,#0000fa)"></i>
<i style="background:linear-gradient(90deg,#fff700,#f1ff0e 41px,#4fffb0 331px,#30ffcf 345px,#00fbff 354px,#00cbff 359px,#00b3ff 365px,#0067ff 373px,#000eff)"></i>
<i style="background:linear-gradient(90deg,#fff900,#e3ff1c 64px,#4dffb2 333px,#2fffd0 347px,#00fbff 356px,#00c7ff 362px,#00acff 368px,#0051ff 377px,#0023ff)"></i>
<i style="background:linear-gradient(90deg,#fffa00,#4cffb3 334px,#2dffd2 349px,#00fbff 358px,#00c6ff 364px,#00acff 370px,#0051ff 379px,#003aff)"></i>
<i style="background:linear-gradient(90deg,#fffc00,#49ffb6 337px,#28ffd7 352px,#00faff 360px,#00c6ff 366px,#00acff 372px,#0051ff)"></i>
<i style="background:linear-gradient(90deg,#fffd00,#47ffb8 339px,#27ffd8 354px,#00faff 362px,#00c5ff 368px,#00acff 374px,#0068ff)"></i>
<i style="background:linear-gradient(90deg,#fffe00,#44ffbb 342px,#26ffd9 356px,#00faff 364px,#00c5ff 370px,#00acff 376px,#007eff)"></i>
<i style="background:linear-gradient(90deg,#ffff00,#43ffbc 344px,#25ffda 358px,#01fffe 365px,#00c4ff 372px,#00acff 378px,#0092ff)"></i>
<i style="background:linear-gradient(90deg,#fdff02,#41ffbe 346px,#24ffdb 360px,#01fffe 367px,#00c3ff 374px,#00abff 380px,#00a4ff)"></i>
</div>
<div class="hm" style="left:658px;top:470px;width:373px;height:356px">
<i style="background:linear-gradient(90deg,#0060ff,#001aff 18px,#0000fa 30px,#0000c9 64px,#0000a5 128px,#00008f 297px,#00008c)"></i>
<i style="background:linear-gradient(90deg,#0061ff,#001aff 18px,#0000fb 30px,#0000c9 64px,#0000a6 127px,#00008f 293px,#00008c)"></i>
<i style="background:linear-gradient(90deg,#0063ff,#001bff 18px,#0000fc 30px,#0000ca 64px,#0000a6 127px,#00008f 292px,#00008c)"></i>
<i style="background:linear-gradient(90deg,#0065ff,#001cff 18px,#0000fa 31px,#0000c9 65px,#0000a5 129px,#00008f 298px,#00008c)"></i>
<i style="background:linear-gradient(90deg,#0066ff,#001dff 18px,#0000fb 31px,#0000c9 65px,#0000a6 128px,#00008f 294px,#00008c)"></i>
<i style="background:linear-gradient(90deg,#0068ff,#001eff 18px,#0000fc 31px,#0000ca 65px,#0000a6 128px,#00008f 293px,#00008c)"></i>
<i style="background:linear-gradient(90deg,#006aff,#0023ff 17px,#0000fc 31px,#0000cb 64px,#0000a7 126px,#000090 286px,#00008c)"></i>
<i style="background:linear-gradient(90deg,#006bff,#0024ff 17px,#0000fb 32px,#0000c9 66px,#0000a6 129px,#00008f 295px,#00008c)"></i>
<i style="background:linear-gradient(90deg,#006dff,#0025ff 17px,#0000fc 32px,#0000ca 66px,#0000a6 129px,#00008f 294px,#00008c)"></i>
<i style="background:linear-gradient(90deg,#006fff,#0026ff 17px,#0000fc 32px,#0000cb 65px,#0000a7 127px,#000090 287px,#00008c)"></i>
<i style="background:linear-gradient(90deg,#0071ff,#0027ff 17px,#0000fb 33px,#0000c9 67px,#0000a6 130px,#00008f 296px,#00008c)"></i>
<i style="background:linear-gradient(90deg,#0073ff,#0028ff 17px,#0000fc 33px,#0000ca 67px,#0000a6 130px,#00008f 295px,#00008c)"></i>
<i style="background:linear-gradient(90deg,#0075ff,#0029ff 17px,#0000fd 33px,#0000cb 66px,#0000a7 128px,#000090 287px,#00008c)"></i>
<i style="background:linear-gradient(90deg,#0077ff,#002aff 17px,#0000fb 34px,#0000ca 68px,#0000a6 131px,#00008f 296px,#00008c)"></i>
<i style="background:linear-gradient(90deg,#0079ff,#002fff 16px,#0000fc 34px,#0000ca 68px,#0000a6 131px,#00008f 296px,#00008c)"></i>
<i style="background:linear-gradient(90deg,#007bff,#0031ff 16px,#0000fd 34px,#0000cb 67px,#0000a7 128px,#000090 285px,#00008c)"></i>
<i style="background:linear-gradient(90deg,#007dff,#0032ff 16px,#0000fe 34px,#0000cc 67px,#0000a7 128px,#000090 284px,#00008c)"></i>
<i style="background:linear-gradient(90deg,#007fff,#0033ff 16px,#0000fe 34px,#0000cc 67px,#0000a7 128px,#000090 283px,#00008c)"></i>
<i style="background:linear-gradient(90deg,#0082ff,#0035ff 16px,#0000fd 35px,#0000cc 68px,#0000a7 129px,#000090 286px,#00008c)"></i>
<i style="background:linear-gradient(90deg,#0084ff,#0036ff 16px,#0000fe 35px,#0000cc 68px,#0000a7 129px,#000090 285px,#00008c)"></i>
<i style="background:linear-gradient(90deg,#0086ff,#0038ff 16px,#0000ff 35px,#0000cc 68px,#0000a7 129px,#000090 284px,#00008c)"></i>
<i style="background:linear-gradient(90deg,#0089ff,#0039ff 16px,#0000fe 36px,#0000cc 69px,#0000a7 130px,#000090 286px,#00008c)"></i>
<i style="background:linear-gradient(90deg,#008bff,#003fff 15px,#0000fe 36px,#0000cc 69px,#0000a7 130px,#000090 285px,#00008c)"></i>
<i style="background:linear-gradient(90deg,#008eff,#0040ff 15px,#0000ff 36px,#0000cc 70px,#0000a7 131px,#000090 287px,#00008c)"></i>
<i style="background:linear-gradient(90deg,#0090ff,#0042ff 15px,#0001ff 36px,#0000cb 71px,#0000a7 133px,#000090 293px,#00008d)"></i>
<i style="background:linear-gradient(90deg,#0093ff,#0044ff 15px,#0002ff 36px,#0000ca 73px,#0000a6 137px,#00008f 305px,#00008d)"></i>
<i style="background:linear-gradient(90deg,#0096ff,#0045ff 15px,#0003ff 36px,#0000c8 75px,#0000a5 140px,#00008f 314px,#00008d)"></i>
<i style="background:linear-gradient(90deg,#0098ff,#0047ff 15px,#0004ff 36px,#0000c8 76px,#0000a4 142px,#00008f 320px,#00008d)"></i>
<i style="background:linear-gradient(90deg,#009bff,#0049ff 15px,#0008ff 35px,#0000ef 46px,#0000c1 84px,#0000a0 159px,#00008d)"></i>
<i style="background:linear-gradient(90deg,#009eff,#004bff 15px,#0009ff 35px,#0000f4 44px,#0000c4 81px,#0000a2 152px,#00008d 353px,#00008d)"></i>
<i style="background:linear-gradient(90deg,#00a1ff,#0051ff 14px,#000cff 34px,#0000f9 42px,#0000c8 77px,#0000a5 143px,#00008f 320px,#00008d)"></i>
<i style="background:linear-gradient(90deg,#00a4ff,#0053ff 14px,#0010ff 33px,#0000fa 42px,#0000c8 77px,#0000a5 142px,#00008f 315px,#00008d)"></i>
<i style="background:linear-gradient(90deg,#00a7ff,#0055ff 14px,#0011ff 33px,#0000fb 42px,#0000ca 76px,#0000a6 140px,#00008f 308px,#00008d)"></i>
<i style="background:linear-gradient(90deg,#00aaff,#0057ff 14px,#0012ff 33px,#0000fa 43px,#0000c8 78px,#0000a5 144px,#00008f 320px,#00008d)"></i>
<i style="background:linear-gradient(90deg,#00adff,#0059ff 14px,#0014ff 33px,#0000fa 43px,#0000c9 78px,#0000a5 143px,#00008f 315px,#00008d)"></i>
<i style="background:linear-gradient(90deg,#00b0ff,#005bff 14px,#0015ff 33px,#0000f9 44px,#0000c8 79px,#0000a5 145px,#00008f 321px,#00008d)"></i>
<i style="background:linear-gradient(90deg,#00b3ff,#005dff 14px,#0016ff 33px,#0000fa 44px,#0000c9 79px,#0000a5 144px,#00008f 316px,#00008d)"></i>
<i style="background:linear-gradient(90deg,#00b7ff,#005fff 14px,#001aff 32px,#0000fb 44px,#0000ca 78px,#0000a6 142px,#00008f 309px,#00008d)"></i>
<i style="background:linear-gradient(90deg,#00baff,#0061ff 14px,#001bff 32px,#0000fa 45px,#0000c9 80px,#0000a5 145px,#00008f 318px,#00008d)"></i>
<i style="background:linear-gradient(90deg,#00bdff,#0069ff 13px,#0020ff 31px,#0000fb 45px,#0000c9 80px,#0000a5 145px,#00008f 316px,#00008d)"></i>
<i style="background:linear-gradient(90deg,#00c1ff,#006bff 13px,#0021ff 31px,#0000fc 45px,#0000cb 79px,#0000a6 142px,#000090 305px,#00008d)"></i>
<i style="background:linear-gradient(90deg,#00c4ff,#006dff 13px,#0026ff 30px,#0000fb 46px,#0000c9 81px,#0000a5 146px,#00008f 317px,#00008d)"></i>
<i style="background:linear-gradient(90deg,#00c8ff,#0070ff 13px,#0027ff 30px,#0000fc 46px,#0000cb 80px,#0000a7 143px,#000090 307px,#00008d)"></i>
<i style="background:linear-gradient(90deg,#00ccff,#0072ff 13px,#0029ff 30px,#0000fd 46px,#0000cb 80px,#0000a7 143px,#000090 305px,#00008d)"></i>
<i style="background:linear-gradient(90deg,#00cfff,#0075ff 13px,#002aff 30px,#0000fc 47px,#0000cb 81px,#0000a6 145px,#000090 311px,#00008d)"></i>
<i style="background:linear-gradient(90deg,#00d3ff,#0077ff 13px,#002cff 30px,#0000fd 47px,#0000cb 81px,#0000a7 144px,#000090 306px,#00008d)"></i>
<i style="background:linear-gradient(90deg,#00d7ff,#007aff 13px,#002eff 30px,#0000fc 48px,#0000ca 83px,#0000a6 148px,#00008f 318px,#00008d)"></i>
<i style="background:linear-gradient(90deg,#00dbff,#007dff 13px,#002fff 30px,#0000fd 48px,#0000cb 82px,#0000a7 145px,#000090 307px,#00008d)"></i>
<i style="background:linear-gradient(90deg,#00dfff,#007fff 13px,#0034ff 29px,#0000fe 48px,#0000cc 82px,#0000a7 145px,#000090 306px,#00008d)"></i>
<i style="background:linear-gradient(90deg,#00e3ff,#0088ff 12px,#003aff 28px,#0000ff 48px,#0000cc 82px,#0000a7 144px,#000090 302px,#00008d)"></i>
<i style="background:linear-gradient(90deg,#00e7ff,#008bff 12px,#003cff 28px,#0001ff 48px,#0000cc 83px,#0000a7 146px,#000090 307px,#00008d)"></i>
<i style="background:linear-gradient(90deg,#00ebff,#008eff 12px,#003dff 28px,#0000ff 49px,#0000cc 83px,#0000a8 145px,#000090 303px,#00008d)"></i>
<i style="background:linear-gradient(90deg,#00efff,#0091ff 12px,#003fff 28px,#0001ff 49px,#0000cc 84px,#0000a7 147px,#000090 308px,#00008d)"></i>
<i style="background:linear-gradient(90deg,#00f3ff,#0094ff 12px,#0045ff 27px,#0004ff 48px,#0000c7 89px,#0000a4 157px,#00008e 340px,#00008d)"></i>
<i style="background:linear-gradient(90deg,#00f7ff,#0097ff 12px,#0047ff 27px,#0005ff 48px,#0000c6 91px,#0000a3 160px,#00008e 349px,#00008d)"></i>
<i style="background:linear-gradient(90deg,#00fcff,#009aff 12px,#0049ff 27px,#0006ff 48px,#0000ec 61px,#0000be 102px,#00009e 184px,#00008d)"></i>
<i style="background:linear-gradient(90deg,#01fffe,#0096ff 13px,#0047ff 28px,#0005ff 49px,#0000c6 92px,#0000a4 161px,#00008e 350px,#00008d)"></i>
<i style="background:linear-gradient(90deg,#06fff9,#00c5ff 7px,#006fff 20px,#0024ff 38px,#0000fa 54px,#0000c9 89px,#0000a5 155px,#00008f 328px,#00008d)"></i>
<i style="background:linear-gradient(90deg,#0afff5,#00f6ff 2px,#0096ff 14px,#0047ff 29px,#0005ff 50px,#0000c6 93px,#0000a3 163px,#00008e 355px,#00008d)"></i>
<i style="background:linear-gradient(90deg,#0ffff0,#00faff 2px,#0099ff 14px,#0049ff 29px,#0006ff 50px,#0000ec 63px,#0000be 104px,#00009e 186px,#00008d)"></i>
<i style="background:linear-gradient(90deg,#14ffeb,#00feff 2px,#009cff 14px,#004bff 29px,#0008ff 50px,#0000f0 61px,#0000c1 100px,#0000a0 177px,#00008d)"></i>
<i style="background:linear-gradient(90deg,#19ffe6,#00f9ff 3px,#0098ff 15px,#0049ff 30px,#0006ff 51px,#0000ec 64px,#0000be 105px,#00009e 187px,#00008d)"></i>
<i style="background:linear-gradient(90deg,#1effe1,#00feff 3px,#009bff 15px,#004bff 30px,#0008ff 51px,#0000f0 62px,#0000c2 101px,#0000a0 178px,#00008d)"></i>
<i style="background:linear-gradient(90deg,#23ffdc,#03fffc 3px,#0091ff 17px,#0040ff 33px,#0000ff 55px,#0000cd 89px,#0000a8 152px,#000090 312px,#00008d)"></i>
<i style="background:linear-gradient(90deg,#28ffd7,#00fdff 4px,#009bff 16px,#004bff 31px,#0008ff 52px,#0000f0 63px,#0000c2 102px,#0000a0 179px,#00008e)"></i>
<i style="background:linear-gradient(90deg,#2dffd2,#03fffc 4px,#0091ff 18px,#0040ff 34px,#0000ff 56px,#0000cd 90px,#0000a8 153px,#000090 312px,#00008e)"></i>
<i style="background:linear-gradient(90deg,#32ffcd,#00fcff 5px,#009bff 17px,#004aff 32px,#0008ff 53px,#0000f0 64px,#0000c2 103px,#0000a0 180px,#00008e)"></i>
<i style="background:linear-gradient(90deg,#37ffc8,#02fffd 5px,#0097ff 18px,#0048ff 33px,#0007ff 54px,#0000ee 66px,#0000bf 107px,#00009f 188px,#00008e)"></i>
<i style="background:linear-gradient(90deg,#3dffc2,#00fcff 6px,#009bff 18px,#004aff 33px,#0008ff 54px,#0000f2 64px,#0000c3 103px,#0000a1 178px,#00008e)"></i>
<i style="background:linear-gradient(90deg,#42ffbd,#01fffe 6px,#0097ff 19px,#0048ff 34px,#0007ff 55px,#0000ef 66px,#0000c1 106px,#0000a0 184px,#00008e)"></i>
<i style="background:linear-gradient(90deg,#48ffb7,#00fbff 7px,#009aff 19px,#004bff 34px,#0008ff 55px,#0000f2 65px,#0000c3 104px,#0000a1 179px,#00008e)"></i>
<i style="background:linear-gradient(90deg,#4effb1,#01fffe 7px,#0097ff 20px,#0048ff 35px,#0007ff 56px,#0000ee 68px,#0000bf 109px,#00009f 190px,#00008e)"></i>
<i style="background:linear-gradient(90deg,#54ffab,#00fbff 8px,#009aff 20px,#004bff 35px,#0008ff 56px,#0000f2 66px,#0000c3 105px,#0000a1 180px,#00008e)"></i>
<i style="background:linear-gradient(90deg,#5affa5,#01fffe 8px,#0097ff 21px,#0045ff 37px,#0003ff 59px,#0000c9 98px,#0000a5 165px,#00008f 341px,#00008e)"></i>
<i style="background:linear-gradient(90deg,#60ff9f,#06fff9 8px,#00beff 16px,#0066ff 30px,#001dff 49px,#0000fa 63px,#0000c9 99px,#0000a5 166px,#00008f 343px,#00008e)"></i>
<i style="background:linear-gradient(90deg,#66ff99,#01fffe 9px,#0097ff 22px,#0045ff 38px,#0003ff 60px,#0000c9 100px,#0000a5 168px,#00008f 349px,#00008e)"></i>
<i style="background:linear-gradient(90deg,#6cff93,#06fff9 9px,#00afff 19px,#005dff 33px,#0018ff 52px,#0000fa 64px,#0000c9 100px,#0000a5 167px,#00008f 344px,#00008e)"></i>
<i style="background:linear-gradient(90deg,#72ff8d,#01fffe 10px,#0097ff 23px,#0045ff 39px,#0003ff 61px,#0000c9 101px,#0000a5 169px,#00008f 349px,#00008e)"></i>
<i style="background:linear-gradient(90deg,#79ff86,#06fff9 10px,#00afff 20px,#005dff 34px,#0018ff 53px,#0000fb 65px,#0000c9 101px,#0000a6 168px,#00008f 345px,#00008e)"></i>
<i style="background:linear-gradient(90deg,#7fff80,#01fffe 11px,#0097ff 24px,#0045ff 40px,#0003ff 62px,#0000c8 103px,#0000a5 172px,#00008f 357px,#00008e)"></i>
<i style="background:linear-gradient(90deg,#86ff79,#06fff9 11px,#00bfff 19px,#0067ff 33px,#001eff 52px,#0000fb 66px,#0000c9 102px,#0000a6 169px,#00008f 345px,#00008e)"></i>
<i style="background:linear-gradient(90deg,#8dff72,#15ffea 10px,#01fffe 12px,#0098ff 25px,#0045ff 41px,#0003ff 63px,#0000c8 104px,#0000a5 173px,#00008f 357px,#00008e)"></i>
<i style="background:linear-gradient(90deg,#94ff6b,#1affe5 10px,#00fbff 13px,#009bff 25px,#004cff 40px,#0009ff 61px,#0000f5 70px,#0000c5 108px,#0000a3 181px,#00008e)"></i>
<i style="background:linear-gradient(90deg,#9bff64,#20ffdf 10px,#01fffe 13px,#0098ff 26px,#0046ff 42px,#0004ff 64px,#0000c8 106px,#0000a4 176px,#00008f 364px,#00008e)"></i>
<i style="background:linear-gradient(90deg,#a2ff5d,#25ffda 10px,#00fcff 14px,#009cff 26px,#004cff 41px,#000aff 62px,#0000f6 71px,#0000c6 109px,#0000a3 182px,#00008e)"></i>
<i style="background:linear-gradient(90deg,#a9ff56,#2bffd4 10px,#02fffd 14px,#0099ff 27px,#0046ff 43px,#0004ff 65px,#0000c7 108px,#0000a4 179px,#00008e)"></i>
<i style="background:linear-gradient(90deg,#b1ff4e,#31ffce 10px,#00fcff 15px,#009cff 27px,#004dff 42px,#000aff 63px,#0000f6 72px,#0000c6 110px,#0000a3 182px,#00008e)"></i>
<i style="background:linear-gradient(90deg,#b8ff47,#37ffc8 10px,#02fffd 15px,#0093ff 29px,#0043ff 45px,#0002ff 67px,#0000ca 106px,#0000a6 173px,#00008f 349px,#00008e)"></i>
<i style="background:linear-gradient(90deg,#c0ff3f,#3dffc2 10px,#00fdff 16px,#009dff 28px,#004dff 43px,#000aff 64px,#0000f6 73px,#0000c6 111px,#0000a3 183px,#00008e)"></i>
<i style="background:linear-gradient(90deg,#c8ff37,#43ffbc 10px,#03fffc 16px,#0093ff 30px,#0043ff 46px,#0003ff 68px,#0000c9 108px,#0000a5 176px,#00008f 356px,#00008e)"></i>
<i style="background:linear-gradient(90deg,#d0ff2f,#49ffb6 10px,#00feff 17px,#009dff 29px,#004eff 44px,#000bff 65px,#0000f7 74px,#0000c6 112px,#0000a3 184px,#00008e)"></i>
<i style="background:linear-gradient(90deg,#d8ff27,#44ffbb 11px,#04fffb 17px,#008eff 32px,#0040ff 48px,#0001ff 70px,#0000cb 107px,#0000a7 173px,#000090 343px,#00008e)"></i>
<i style="background:linear-gradient(90deg,#e0ff1f,#4affb5 11px,#00ffff 18px,#009eff 30px,#004eff 45px,#000bff 66px,#0000f7 75px,#0000c6 113px,#0000a4 185px,#00008f)"></i>
<i style="background:linear-gradient(90deg,#e8ff17,#51ffae 11px,#05fffa 18px,#008fff 33px,#0041ff 49px,#0002ff 71px,#0000cb 109px,#0000a6 176px,#000090 350px,#00008f)"></i>
<i style="background:linear-gradient(90deg,#f1ff0e,#57ffa8 11px,#01fffe 19px,#0099ff 32px,#0047ff 48px,#0005ff 70px,#0000c6 115px,#0000a3 188px,#00008f)"></i>
<i style="background:linear-gradient(90deg,#f9ff06,#5effa1 11px,#00fcff 20px,#009dff 32px,#004aff 48px,#0007ff 70px,#0000ed 83px,#0000bf 125px,#00009f 209px,#00008f)"></i>
<i style="background:linear-gradient(90deg,#fffc00,#59ffa6 12px,#02fffd 20px,#0094ff 34px,#0044ff 50px,#0004ff 72px,#0000c8 114px,#0000a5 184px,#00008f 371px,#00008f)"></i>
<i style="background:linear-gradient(90deg,#fff300,#fbff04 1px,#60ff9f 12px,#00fdff 21px,#009eff 33px,#004bff 49px,#0007ff 71px,#0000ef 83px,#0000c1 124px,#0000a0 205px,#00008f)"></i>
<i style="background:linear-gradient(90deg,#ffea00,#fffa00 1px,#4fffb0 14px,#04fffb 21px,#008fff 36px,#0041ff 52px,#0000ff 75px,#0000cc 111px,#0000a7 177px,#000090 345px,#00008f)"></i>
<i style="background:linear-gradient(90deg,#ffe100,#fdff02 2px,#62ff9d 13px,#00ffff 22px,#0099ff 35px,#0048ff 51px,#0006ff 73px,#0000e5 91px,#0000b9 138px,#00009a 236px,#00008f)"></i>
<i style="background:linear-gradient(90deg,#ffd800,#fff800 2px,#d8ff27 5px,#45ffba 16px,#00fbff 23px,#0097ff 36px,#0046ff 52px,#0005ff 74px,#0000c6 119px,#0000a4 192px,#00008f)"></i>
<i style="background:linear-gradient(90deg,#ffce00,#fffe00 3px,#64ff9b 14px,#02fffd 23px,#0094ff 37px,#0045ff 53px,#0005ff 75px,#0000c7 119px,#0000a4 191px,#00008f)"></i>
<i style="background:linear-gradient(90deg,#ffc500,#f9ff06 4px,#60ff9f 15px,#00feff 24px,#0099ff 37px,#0048ff 53px,#0006ff 75px,#0000e9 90px,#0000bd 134px,#00009d 223px,#00008f)"></i>
<i style="background:linear-gradient(90deg,#ffbb00,#fffc00 4px,#5bffa4 16px,#05fffa 24px,#0090ff 39px,#0043ff 55px,#0001ff 78px,#0000ca 117px,#0000a6 186px,#00008f 365px,#00008f)"></i>
<i style="background:linear-gradient(90deg,#ffb200,#fcff03 5px,#62ff9d 16px,#01fffe 25px,#009aff 38px,#0049ff 54px,#0007ff 76px,#0000ef 88px,#0000c1 130px,#0000a0 213px,#00008f)"></i>
<i style="background:linear-gradient(90deg,#ffa800,#fff900 5px,#baff45 10px,#30ffcf 21px,#00fcff 26px,#0098ff 39px,#0048ff 55px,#0007ff 77px,#0000eb 91px,#0000be 135px,#00009e 223px,#00008f)"></i>
<i style="background:linear-gradient(90deg,#ff9e00,#ffff00 6px,#65ff9a 17px,#03fffc 26px,#0090ff 41px,#003fff 58px,#0000ff 81px,#0000cd 117px,#0000a8 183px,#000090 351px,#00008f)"></i>
<i style="background:linear-gradient(90deg,#ff9400,#fff600 6px,#e9ff16 8px,#54ffab 19px,#00ffff 27px,#009aff 40px,#004aff 56px,#0008ff 78px,#0000f1 89px,#0000c2 130px,#0000a1 210px,#00008f)"></i>
<i style="background:linear-gradient(90deg,#ff8a00,#fffc00 7px,#5cffa3 19px,#00fcff 28px,#0098ff 41px,#0048ff 57px,#0007ff 79px,#0000ee 92px,#0000bf 135px,#00009f 220px,#00008f)"></i>
<i style="background:linear-gradient(90deg,#ff8000,#fcff03 8px,#64ff9b 19px,#03fffc 28px,#0096ff 42px,#0047ff 58px,#0004ff 81px,#0000c7 126px,#0000a4 200px,#000090)"></i>
<i style="background:linear-gradient(90deg,#ff7600,#fff800 8px,#d8ff27 11px,#48ffb7 22px,#00ffff 29px,#009aff 42px,#004aff 58px,#0008ff 80px,#0000f4 90px,#0000c4 131px,#0000a2 210px,#000090)"></i>
<i style="background:linear-gradient(90deg,#ff6c00,#fffe00 9px,#67ff98 20px,#06fff9 29px,#00c9ff 36px,#0071ff 50px,#0027ff 69px,#0000fc 86px,#0000cb 123px,#0000a7 192px,#000090 370px,#000090)"></i>
<i style="background:linear-gradient(90deg,#ff6200,#faff05 10px,#63ff9c 21px,#03fffc 30px,#0097ff 44px,#0048ff 60px,#0005ff 83px,#0000c6 129px,#0000a4 204px,#000090)"></i>
<i style="background:linear-gradient(90deg,#ff5800,#fffa00 10px,#53ffac 23px,#00feff 31px,#009bff 44px,#004bff 60px,#0009ff 82px,#0000f4 92px,#0000c4 133px,#0000a2 212px,#000090)"></i>
<i style="background:linear-gradient(90deg,#ff4e00,#feff01 11px,#66ff99 22px,#06fff9 31px,#00c2ff 39px,#0068ff 54px,#001fff 74px,#0000fb 89px,#0000ca 127px,#0000a6 198px,#000090)"></i>
<i style="background:linear-gradient(90deg,#ff4400,#fff600 11px,#eaff15 13px,#56ffa9 24px,#03fffc 32px,#0091ff 47px,#0041ff 64px,#0002ff 87px,#0000ca 127px,#0000a6 197px,#000090)"></i>
<i style="background:linear-gradient(90deg,#ff3a00,#fffb00 12px,#52ffad 25px,#00ffff 33px,#009bff 46px,#004bff 62px,#000aff 84px,#0000f5 94px,#0000c4 135px,#0000a2 213px,#000090)"></i>
<i style="background:linear-gradient(90deg,#ff3000,#fdff02 13px,#66ff99 24px,#06fff9 33px,#00d1ff 39px,#0077ff 53px,#002eff 71px,#0000fc 91px,#0000ca 129px,#0000a6 200px,#000090)"></i>
<i style="background:linear-gradient(90deg,#ff2600,#fff700 13px,#e9ff16 15px,#56ffa9 26px,#03fffc 34px,#0092ff 49px,#0042ff 66px,#0000ff 90px,#0000cd 127px,#0000a8 195px,#000090 367px,#000090)"></i>
<i style="background:linear-gradient(90deg,#ff1c00,#fffc00 14px,#52ffad 27px,#00ffff 35px,#009cff 48px,#004cff 64px,#000aff 86px,#0000f7 95px,#0000c6 135px,#0000a4 211px,#000090)"></i>
<i style="background:linear-gradient(90deg,#ff1200,#fdff02 15px,#66ff99 26px,#06fff9 35px,#00e2ff 39px,#0083ff 53px,#0035ff 71px,#0000fe 92px,#0000cc 129px,#0000a8 197px,#000090 370px,#000090)"></i>
<i style="background:linear-gradient(90deg,#ff0800,#fff700 15px,#e9ff16 17px,#57ffa8 28px,#03fffc 36px,#0092ff 51px,#0042ff 68px,#0001ff 92px,#0000cb 131px,#0000a7 201px,#000090)"></i>
<i style="background:linear-gradient(90deg,#fe0000,#fffc00 16px,#53ffac 29px,#01fffe 37px,#009dff 50px,#004dff 66px,#000bff 88px,#0000f8 97px,#0000c7 137px,#0000a4 213px,#000090)"></i>
<i style="background:linear-gradient(90deg,#f40000,#ff0400 1px,#fdff02 17px,#67ff98 28px,#00fdff 38px,#009bff 51px,#004cff 67px,#0008ff 90px,#0000f4 100px,#0000c4 141px,#0000a2 220px,#000090)"></i>
<i style="background:linear-gradient(90deg,#eb0000,#ff0800 2px,#fff600 17px,#e9ff16 19px,#57ffa8 30px,#04fffb 38px,#008dff 54px,#003fff 71px,#0001ff 94px,#0000cb 134px,#0000a6 205px,#000091)"></i>
<i style="background:linear-gradient(90deg,#e20000,#fd0000 2px,#fffb00 18px,#54ffab 31px,#01fffe 39px,#0097ff 53px,#0046ff 70px,#0005ff 93px,#0000c6 140px,#0000a4 216px,#000091)"></i>
<i style="background:linear-gradient(90deg,#d90000,#ff0300 3px,#feff01 19px,#67ff98 30px,#00feff 40px,#009cff 53px,#004cff 69px,#0009ff 92px,#0000f4 102px,#0000c5 143px,#0000a2 222px,#000091)"></i>
<i style="background:linear-gradient(90deg,#d00000,#f80000 3px,#ff1600 5px,#fff500 19px,#eaff15 21px,#58ffa7 32px,#05fffa 40px,#008eff 56px,#0040ff 73px,#0000ff 97px,#0000cd 134px,#0000a8 202px,#000091)"></i>
<i style="background:linear-gradient(90deg,#c80000,#fc0000 4px,#ffbb00 16px,#fffa00 20px,#55ffaa 33px,#02fffd 41px,#0098ff 55px,#0046ff 72px,#0005ff 95px,#0000c7 142px,#0000a4 218px,#000091)"></i>
<i style="background:linear-gradient(90deg,#c00000,#ff0100 5px,#ffff00 21px,#69ff96 32px,#00ffff 42px,#009cff 55px,#004dff 71px,#0009ff 94px,#0000f4 104px,#0000c5 145px,#0000a2 224px,#000091)"></i>
<i style="background:linear-gradient(90deg,#b80000,#ff0500 6px,#fbff04 22px,#65ff9a 33px,#06fff9 42px,#00d2ff 48px,#0079ff 62px,#002cff 81px,#0000fd 100px,#0000cb 138px,#0000a7 208px,#000091)"></i>
<i style="background:linear-gradient(90deg,#b10000,#fa0000 6px,#ff4700 11px,#fff900 22px,#caff35 26px,#3fffc0 37px,#03fffc 43px,#0093ff 58px,#0043ff 75px,#0001ff 99px,#0000cb 139px,#0000a6 210px,#000091)"></i>
<i style="background:linear-gradient(90deg,#aa0000,#fe0000 7px,#fffd00 23px,#5effa1 35px,#00ffff 44px,#009dff 57px,#004dff 73px,#000bff 95px,#0000f6 105px,#0000c6 146px,#0000a3 224px,#000091)"></i>
<i style="background:linear-gradient(90deg,#a30000,#ff0300 8px,#fcff03 24px,#66ff99 35px,#00fdff 45px,#009bff 58px,#0048ff 75px,#0006ff 98px,#0000e9 114px,#0000bc 161px,#00009d 256px,#000091)"></i>
<i style="background:linear-gradient(90deg,#9d0000,#dc0000 6px,#ff0700 9px,#fff700 24px,#e9ff16 26px,#57ffa8 37px,#04fffb 45px,#0093ff 60px,#0043ff 77px,#0001ff 101px,#0000cb 141px,#0000a6 212px,#000091)"></i>
<i style="background:linear-gradient(90deg,#970000,#d20000 6px,#fb0000 9px,#ff7a00 17px,#fffb00 25px,#53ffac 38px,#01fffe 46px,#0097ff 60px,#0045ff 77px,#0005ff 100px,#0000c7 146px,#0000a4 222px,#000091)"></i>
<i style="background:linear-gradient(90deg,#920000,#c90000 6px,#fe0000 10px,#ffff00 26px,#67ff98 37px,#00fdff 47px,#009bff 60px,#004bff 76px,#0008ff 99px,#0000f4 109px,#0000c4 150px,#0000a2 229px,#000091)"></i>
<i style="background:linear-gradient(90deg,#8d0000,#bf0000 6px,#ff0300 11px,#faff05 27px,#64ff9b 38px,#04fffb 47px,#0093ff 62px,#0042ff 79px,#0001ff 103px,#0000cb 142px,#0000a7 212px,#000091)"></i>
<i style="background:linear-gradient(90deg,#890000,#b70000 6px,#f60000 11px,#ff1500 13px,#fff800 27px,#c9ff36 31px,#3effc1 42px,#01fffe 48px,#0096ff 62px,#0045ff 79px,#0004ff 102px,#0000c7 147px,#0000a4 222px,#000091)"></i>
<i style="background:linear-gradient(90deg,#850000,#a50000 5px,#fa0000 12px,#ff3800 16px,#fffd00 28px,#5cffa3 40px,#00fdff 49px,#009aff 62px,#004bff 78px,#0009ff 100px,#0000f5 110px,#0000c5 151px,#0000a2 229px,#000091)"></i>
<i style="background:linear-gradient(90deg,#830000,#9d0000 5px,#e00000 11px,#fd0000 13px,#fdff02 29px,#65ff9a 40px,#04fffb 49px,#008cff 65px,#003eff 82px,#0000ff 105px,#0000cc 142px,#0000a8 210px,#000091)"></i>
<i style="background:linear-gradient(90deg,#810000,#970000 5px,#d50000 11px,#ff0100 14px,#fff500 29px,#eaff15 31px,#55ffaa 42px,#01fffe 50px,#0096ff 64px,#0048ff 80px,#0005ff 103px,#0000c6 150px,#0000a3 226px,#000091)"></i>
<i style="background:linear-gradient(90deg,#800000,#910000 5px,#cb0000 11px,#ff0400 15px,#fff900 30px,#acff53 36px,#26ffd9 47px,#00fdff 51px,#009aff 64px,#004aff 80px,#0008ff 102px,#0000f6 111px,#0000c5 151px,#0000a3 227px,#000091)"></i>
<i style="background:linear-gradient(90deg,#8b0000,#800000 1px,#910000 6px,#cd0000 12px,#ff0700 16px,#fffd00 31px,#5affa5 43px,#05fffa 51px,#008cff 67px,#003dff 84px,#0001ff 106px,#0000cb 145px,#0000a7 214px,#000091)"></i>
<i style="background:linear-gradient(90deg,#8b0000,#8b0000 1px,#800000 2px,#920000 7px,#cf0000 13px,#f90000 16px,#ff2900 19px,#fdff02 32px,#63ff9c 43px,#02fffd 52px,#0095ff 66px,#0047ff 82px,#0004ff 105px,#0000c7 150px,#0000a4 224px,#000091)"></i>
<i style="background:linear-gradient(90deg,#8b0000,#8a0000 2px,#800000 3px,#930000 8px,#d10000 14px,#fc0000 17px,#fff500 32px,#f9ff06 33px,#5fffa0 44px,#00feff 53px,#0099ff 66px,#0049ff 82px,#0007ff 104px,#0000ef 116px,#0000c1 158px,#0000a0 241px,#000091)"></i>
<i style="background:linear-gradient(90deg,#8c0000,#8a0000 3px,#800000 4px,#930000 9px,#d30000 15px,#fe0000 18px,#fff900 33px,#c8ff37 37px,#44ffbb 47px,#00fbff 54px,#0097ff 67px,#0047ff 83px,#0006ff 105px,#0000eb 119px,#0000be 163px,#00009e 251px,#000091)"></i>
<i style="background:linear-gradient(90deg,#8c0000,#890000 4px,#800000 5px,#940000 10px,#d50000 16px,#ff0200 19px,#fffc00 34px,#59ffa6 46px,#02fffd 54px,#0095ff 68px,#0046ff 84px,#0005ff 106px,#0000c6 152px,#0000a3 226px,#000091)"></i>
<i style="background:linear-gradient(90deg,#8d0000,#890000 5px,#800000 7px,#9d0000 12px,#e50000 18px,#ff0400 20px,#feff01 35px,#6eff91 45px,#00ffff 55px,#009fff 67px,#004cff 83px,#0009ff 105px,#0000f5 114px,#0000c5 153px,#0000a3 228px,#000091)"></i>
<i style="background:linear-gradient(90deg,#8e0000,#880000 6px,#800000 8px,#9e0000 13px,#e70000 19px,#ff0600 21px,#fbff04 36px,#6bff94 46px,#06fff9 55px,#00e1ff 59px,#0084ff 72px,#0037ff 89px,#0000fe 110px,#0000cc 146px,#0000a7 213px,#000091)"></i>
<i style="background:linear-gradient(90deg,#900000,#880000 6px,#800000 8px,#8e0000 12px,#cc0000 18px,#f80000 21px,#ff1800 23px,#fff600 36px,#e8ff17 38px,#5bffa4 48px,#04fffb 56px,#0094ff 70px,#0045ff 86px,#0004ff 108px,#0000c8 151px,#0000a4 222px,#000091)"></i>
<i style="background:linear-gradient(90deg,#920000,#880000 7px,#800000 9px,#8f0000 13px,#ce0000 19px,#fa0000 22px,#ff3c00 26px,#fff900 37px,#7fff80 46px,#0bfff4 56px,#00f6ff 58px,#0099ff 70px,#0047ff 86px,#0005ff 108px,#0000c6 153px,#0000a3 226px,#000091)"></i>
<i style="background:linear-gradient(90deg,#940000,#870000 8px,#800000 10px,#8f0000 14px,#cf0000 20px,#fb0000 23px,#ffb900 34px,#fffc00 38px,#62ff9d 49px,#00fdff 58px,#009dff 70px,#004eff 85px,#000bff 106px,#0000f7 115px,#0000c6 153px,#0000a4 225px,#000091)"></i>
<i style="background:linear-gradient(90deg,#960000,#870000 9px,#800000 12px,#a10000 17px,#ed0000 23px,#fd0000 24px,#ffff00 39px,#6cff93 49px,#05fffa 58px,#008eff 73px,#0040ff 89px,#0001ff 111px,#0000cb 148px,#0000a7 214px,#000091)"></i>
<i style="background:linear-gradient(90deg,#990000,#800000 13px,#a10000 18px,#ef0000 24px,#ff0000 25px,#fcff03 40px,#69ff96 50px,#03fffc 59px,#0092ff 73px,#0042ff 89px,#0002ff 111px,#0000ca 150px,#0000a6 218px,#000091)"></i>
<i style="background:linear-gradient(90deg,#9c0000,#800000 14px,#a10000 19px,#ff0100 26px,#fff400 40px,#f9ff06 41px,#66ff99 51px,#00ffff 60px,#009dff 72px,#004dff 87px,#000aff 108px,#0000f6 117px,#0000c6 155px,#0000a3 227px,#000090)"></i>
<i style="background:linear-gradient(90deg,#9f0000,#860000 11px,#800000 15px,#a20000 20px,#ff0200 27px,#fff700 41px,#e6ff19 43px,#57ffa8 53px,#00fdff 61px,#009bff 73px,#004bff 88px,#0009ff 109px,#0000f5 118px,#0000c5 156px,#0000a3 229px,#000090)"></i>
<i style="background:linear-gradient(90deg,#a30000,#860000 11px,#800000 16px,#a20000 21px,#ff0300 28px,#fff900 42px,#97ff68 49px,#1affe5 59px,#00fbff 62px,#009aff 74px,#004aff 89px,#0008ff 110px,#0000f0 121px,#0000c1 161px,#0000a0 239px,#000090)"></i>
<i style="background:linear-gradient(90deg,#a70000,#870000 11px,#800000 17px,#a20000 22px,#ff0500 29px,#fffb00 43px,#5fffa0 54px,#03fffc 62px,#0091ff 76px,#0041ff 92px,#0000ff 114px,#0000cc 149px,#0000a7 213px,#000090)"></i>
<i style="background:linear-gradient(90deg,#ab0000,#880000 11px,#800000 18px,#990000 22px,#e40000 28px,#ff0500 30px,#fffd00 44px,#5cffa3 55px,#01fffe 63px,#0096ff 76px,#0047ff 91px,#0006ff 112px,#0000e1 132px,#0000b6 179px,#000099 280px,#000090)"></i>
<i style="background:linear-gradient(90deg,#af0000,#8a0000 11px,#800000 19px,#990000 23px,#e50000 29px,#ff0600 31px,#ffff00 45px,#67ff98 55px,#00feff 64px,#009bff 76px,#004aff 91px,#0007ff 112px,#0000ee 124px,#0000c0 164px,#00009f 243px,#000090)"></i>
<i style="background:linear-gradient(90deg,#b40000,#890000 12px,#800000 20px,#980000 24px,#e50000 30px,#ff0700 32px,#fdff02 46px,#66ff99 56px,#00fdff 65px,#0099ff 77px,#0049ff 92px,#0006ff 113px,#0000eb 126px,#0000be 167px,#00009e 249px,#000090)"></i>
<i style="background:linear-gradient(90deg,#b90000,#8b0000 12px,#800000 21px,#980000 25px,#e60000 31px,#ff0700 33px,#fbff04 47px,#64ff9b 57px,#06fff9 65px,#00d6ff 70px,#0079ff 83px,#002dff 100px,#0000fc 118px,#0000ca 153px,#0000a6 218px,#000090)"></i>
<i style="background:linear-gradient(90deg,#bf0000,#8e0000 12px,#800000 22px,#980000 26px,#e60000 32px,#ff0800 34px,#fff300 47px,#faff05 48px,#62ff9d 58px,#04fffb 66px,#0090ff 80px,#0042ff 95px,#0002ff 116px,#0000c9 154px,#0000a6 219px,#000090)"></i>
<i style="background:linear-gradient(90deg,#c40000,#900000 12px,#800000 23px,#980000 27px,#e60000 33px,#ff0800 35px,#fff400 48px,#f9ff06 49px,#61ff9e 59px,#03fffc 67px,#0095ff 80px,#0046ff 95px,#0004ff 116px,#0000c7 157px,#0000a4 225px,#000090)"></i>
<i style="background:linear-gradient(90deg,#ca0000,#900000 13px,#800000 24px,#970000 28px,#e60000 34px,#ff0800 36px,#fff500 49px,#f8ff07 50px,#60ff9f 60px,#02fffd 68px,#0094ff 81px,#0045ff 96px,#0003ff 117px,#0000c9 156px,#0000a5 222px,#000090)"></i>
<i style="background:linear-gradient(90deg,#d00000,#930000 13px,#800000 25px,#970000 29px,#e50000 35px,#ff0800 37px,#fff500 50px,#e6ff19 52px,#5fffa0 61px,#01fffe 69px,#009aff 81px,#0048ff 96px,#0007ff 116px,#0000ef 127px,#0000c1 166px,#0000a0 242px,#000090)"></i>
<i style="background:linear-gradient(90deg,#d60000,#970000 13px,#800000 26px,#8e0000 29px,#c70000 34px,#f50000 37px,#ff0700 38px,#fff600 51px,#e6ff19 53px,#5effa1 62px,#00ffff 70px,#00a0ff 81px,#0050ff 95px,#000cff 115px,#0000f8 123px,#0000c8 158px,#0000a5 224px,#000090)"></i>
<i style="background:linear-gradient(90deg,#dd0000,#970000 14px,#800000 27px,#8d0000 30px,#c60000 35px,#f50000 38px,#ff0700 39px,#fff600 52px,#e5ff1a 54px,#5dffa2 63px,#00feff 71px,#009fff 82px,#004fff 96px,#000bff 116px,#0000f6 125px,#0000c6 161px,#0000a3 230px,#000090)"></i>
<i style="background:linear-gradient(90deg,#e40000,#9b0000 14px,#800000 27px,#850000 30px,#b80000 35px,#ff0600 40px,#fff600 53px,#e5ff1a 55px,#5dffa2 64px,#00feff 72px,#009fff 83px,#004fff 97px,#000bff 117px,#0000f5 126px,#0000c5 162px,#0000a3 231px,#000090)"></i>
<i style="background:linear-gradient(90deg,#eb0000,#9b0000 15px,#840000 26px,#850000 31px,#b70000 36px,#ff0500 41px,#fff600 54px,#e6ff19 56px,#5dffa2 65px,#00fdff 73px,#009eff 84px,#004eff 98px,#000aff 118px,#0000f5 127px,#0000c5 163px,#0000a3 232px,#000090)"></i>
<i style="background:linear-gradient(90deg,#f20000,#9f0000 15px,#840000 26px,#840000 32px,#b60000 37px,#ff0400 42px,#fff500 55px,#f7ff08 56px,#6aff95 65px,#00fdff 74px,#009eff 85px,#004eff 99px,#000aff 119px,#0000f7 127px,#0000c7 162px,#0000a4 229px,#000090)"></i>
<i style="background:linear-gradient(90deg,#f90000,#a00000 16px,#840000 27px,#830000 33px,#b40000 38px,#ff0200 43px,#fff400 56px,#f9ff06 57px,#6bff94 66px,#00fdff 75px,#009eff 86px,#004eff 100px,#000aff 120px,#0000f7 128px,#0000c7 163px,#0000a4 230px,#000090)"></i>
<i style="background:linear-gradient(90deg,#ff0200,#a10000 17px,#850000 28px,#830000 34px,#b20000 39px,#ff0000 44px,#fff200 57px,#faff05 58px,#6cff93 67px,#00feff 76px,#009eff 87px,#004eff 101px,#000cff 120px,#0000f8 128px,#0000c7 163px,#0000a4 229px,#000090)"></i>
<i style="background:linear-gradient(90deg,#ff0a00,#ef0000 4px,#9d0000 19px,#840000 30px,#820000 35px,#b00000 40px,#fd0000 45px,#fcff03 59px,#6dff92 68px,#00feff 77px,#009eff 88px,#004eff 102px,#000cff 121px,#0000f8 129px,#0000c7 164px,#0000a4 230px,#000090)"></i>
<i style="background:linear-gradient(90deg,#ff1200,#f60000 4px,#a20000 19px,#850000 30px,#810000 36px,#ae0000 41px,#fa0000 46px,#ff4300 50px,#feff01 60px,#6fff90 69px,#00ffff 78px,#009fff 89px,#004eff 103px,#000cff 122px,#0000f8 130px,#0000c8 164px,#0000a4 229px,#000090)"></i>
<i style="background:linear-gradient(90deg,#ff1a00,#ff0000 4px,#a40000 20px,#850000 31px,#800000 37px,#ac0000 42px,#f60000 47px,#ff1b00 49px,#fffd00 61px,#63ff9c 71px,#02fffd 79px,#0098ff 91px,#0049ff 105px,#0007ff 125px,#0000ee 136px,#0000c0 174px,#00009f 249px,#000090)"></i>
<i style="background:linear-gradient(90deg,#ff2300,#fa0000 6px,#a10000 22px,#850000 33px,#840000 39px,#b60000 44px,#ff0500 49px,#fffa00 62px,#57ffa8 73px,#03fffc 80px,#0092ff 93px,#0041ff 108px,#0002ff 128px,#0000ca 164px,#0000a6 226px,#000090)"></i>
<i style="background:linear-gradient(90deg,#ff2b00,#fc0000 7px,#a20000 23px,#850000 34px,#830000 40px,#b30000 45px,#ff0100 50px,#fff600 63px,#e5ff1a 65px,#59ffa6 74px,#05fffa 81px,#008cff 95px,#003dff 110px,#0000ff 130px,#0000cd 162px,#0000a8 221px,#000090 370px,#000090)"></i>
<i style="background:linear-gradient(90deg,#ff3400,#fe0000 8px,#a30000 24px,#860000 35px,#810000 41px,#af0000 46px,#fc0000 51px,#fff200 64px,#faff05 65px,#6aff95 74px,#07fff8 82px,#00ddff 86px,#0080ff 98px,#0036ff 113px,#0000fd 132px,#0000cb 165px,#0000a6 226px,#000090)"></i>
<i style="background:linear-gradient(90deg,#ff3d00,#ff0100 9px,#a50000 25px,#860000 36px,#800000 42px,#ac0000 47px,#f70000 52px,#ff1c00 54px,#feff01 66px,#6dff92 75px,#09fff6 83px,#00f2ff 85px,#0095ff 96px,#0047ff 110px,#0005ff 130px,#0000c7 170px,#0000a4 235px,#000090)"></i>
<i style="background:linear-gradient(90deg,#ff4600,#fc0000 11px,#a20000 27px,#860000 38px,#800000 43px,#9d0000 47px,#ff0500 54px,#fffb00 67px,#54ffab 78px,#00ffff 85px,#009dff 96px,#004cff 110px,#000aff 129px,#0000f7 137px,#0000c7 171px,#0000a4 236px,#000090)"></i>
<i style="background:linear-gradient(90deg,#ff4f00,#fe0000 12px,#a40000 28px,#860000 39px,#820000 45px,#b10000 50px,#ff0000 55px,#fff700 68px,#e4ff1b 70px,#58ffa7 79px,#03fffc 86px,#0098ff 98px,#0048ff 112px,#0005ff 132px,#0000ca 169px,#0000a6 231px,#000090)"></i>
<i style="background:linear-gradient(90deg,#ff5800,#fa0000 14px,#a10000 30px,#860000 41px,#810000 46px,#ad0000 51px,#fa0000 56px,#ff4400 60px,#fff100 69px,#faff05 70px,#69ff96 79px,#05fffa 87px,#008bff 101px,#003cff 116px,#0001ff 135px,#0000cb 169px,#0000a7 229px,#000091)"></i>
<i style="background:linear-gradient(90deg,#ff6100,#fd0000 15px,#a30000 31px,#870000 42px,#800000 47px,#a90000 52px,#f40000 57px,#ff0700 58px,#fffe00 71px,#6dff92 80px,#08fff7 88px,#00f2ff 90px,#0094ff 101px,#0045ff 115px,#0004ff 135px,#0000c8 173px,#0000a5 236px,#000091)"></i>
<i style="background:linear-gradient(90deg,#ff6a00,#ff0000 16px,#a50000 32px,#870000 43px,#800000 48px,#9a0000 52px,#de0000 57px,#ff0100 59px,#fff900 72px,#bfff40 76px,#3bffc4 85px,#00ffff 90px,#009dff 101px,#004bff 115px,#0009ff 134px,#0000f6 142px,#0000c5 177px,#0000a3 243px,#000091)"></i>
<i style="background:linear-gradient(90deg,#ff7300,#fc0000 18px,#a30000 34px,#870000 45px,#810000 50px,#ad0000 55px,#f90000 60px,#ff4500 64px,#fff300 73px,#f9ff06 74px,#67ff98 83px,#03fffc 91px,#0090ff 104px,#0043ff 118px,#0002ff 138px,#0000ca 173px,#0000a6 234px,#000091)"></i>
<i style="background:linear-gradient(90deg,#ff7c00,#fe0000 19px,#a50000 35px,#880000 46px,#800000 51px,#a90000 56px,#ff0600 62px,#ffff00 75px,#6cff93 84px,#06fff9 92px,#00dcff 96px,#007eff 108px,#0034ff 123px,#0000fd 141px,#0000cb 173px,#0000a7 232px,#000091)"></i>
<i style="background:linear-gradient(90deg,#ff8500,#fb0000 21px,#a30000 37px,#880000 48px,#800000 52px,#9a0000 56px,#dc0000 61px,#fe0000 63px,#fff900 76px,#bfff40 80px,#3affc5 89px,#00feff 94px,#009bff 105px,#004aff 119px,#0008ff 138px,#0000f1 148px,#0000c2 184px,#0000a1 254px,#000091)"></i>
<i style="background:linear-gradient(90deg,#ff8e00,#fe0000 22px,#a50000 38px,#880000 49px,#810000 54px,#ac0000 59px,#f80000 64px,#ff1d00 66px,#fff200 77px,#faff05 78px,#67ff98 87px,#02fffd 95px,#0096ff 107px,#0046ff 121px,#0006ff 140px,#0000e3 157px,#0000b8 199px,#00009a 288px,#000091)"></i>
<i style="background:linear-gradient(90deg,#ff9700,#fb0000 24px,#a70000 39px,#890000 50px,#880000 52px,#800000 54px,#930000 58px,#d00000 63px,#ff0400 66px,#fffe00 79px,#5effa1 89px,#06fff9 96px,#00c9ff 102px,#0071ff 114px,#0028ff 130px,#0000fc 145px,#0000ca 177px,#0000a6 237px,#000091)"></i>
<i style="background:linear-gradient(90deg,#ffa000,#fe0000 25px,#a50000 41px,#890000 52px,#880000 54px,#800000 56px,#980000 60px,#da0000 65px,#fc0000 67px,#fff700 80px,#e3ff1c 82px,#55ffaa 91px,#00feff 98px,#009bff 109px,#0049ff 123px,#0007ff 142px,#0000f2 151px,#0000c3 186px,#0000a1 254px,#000091)"></i>
<i style="background:linear-gradient(90deg,#ffa800,#fb0000 27px,#a70000 42px,#8a0000 53px,#890000 55px,#800000 57px,#950000 61px,#d30000 66px,#ff0700 69px,#fcff03 82px,#68ff97 91px,#02fffd 99px,#0096ff 111px,#0046ff 125px,#0005ff 144px,#0000c6 184px,#0000a3 248px,#000091)"></i>
<i style="background:linear-gradient(90deg,#ffb100,#fe0000 28px,#a50000 44px,#8a0000 55px,#890000 57px,#800000 58px,#910000 62px,#cd0000 67px,#ff0000 70px,#fffb00 83px,#51ffae 94px,#06fff9 100px,#00d2ff 105px,#0076ff 117px,#002aff 133px,#0000fb 149px,#0000ca 181px,#0000a6 241px,#000091)"></i>
<i style="background:linear-gradient(90deg,#ffb900,#fb0000 30px,#a80000 45px,#8b0000 56px,#8a0000 58px,#800000 59px,#8e0000 63px,#c70000 68px,#f80000 71px,#ff1d00 73px,#fff400 84px,#f8ff07 85px,#64ff9b 94px,#00feff 102px,#009aff 113px,#0048ff 127px,#0007ff 146px,#0000eb 158px,#0000be 196px,#00009e 272px,#000091)"></i>
<i style="background:linear-gradient(90deg,#ffc100,#ff0c00 29px,#f80000 32px,#a60000 47px,#8b0000 58px,#8a0000 60px,#800000 61px,#930000 65px,#d00000 70px,#ff0300 73px,#ffff00 86px,#69ff96 95px,#03fffc 103px,#0096ff 115px,#0045ff 129px,#0005ff 148px,#0000c6 187px,#0000a4 250px,#000091)"></i>
<i style="background:linear-gradient(90deg,#ffc900,#ff2a00 26px,#fb0000 33px,#a80000 48px,#8c0000 59px,#8a0000 61px,#800000 62px,#900000 66px,#c90000 71px,#fb0000 74px,#ff6f00 80px,#fff800 87px,#d0ff2f 90px,#45ffba 99px,#00fbff 105px,#0098ff 116px,#0046ff 130px,#0005ff 149px,#0000c7 188px,#0000a4 251px,#000091)"></i>
<i style="background:linear-gradient(90deg,#ffd100,#ff3b00 25px,#fe0000 34px,#a70000 50px,#8c0000 61px,#8b0000 63px,#800000 64px,#950000 68px,#d20000 73px,#ff0600 76px,#fbff04 89px,#66ff99 98px,#00ffff 106px,#009bff 117px,#0048ff 131px,#0006ff 150px,#0000e2 167px,#0000b8 208px,#00009a 295px,#000091)"></i>
<i style="background:linear-gradient(90deg,#ffd900,#ff4500 25px,#fb0000 36px,#a90000 51px,#8d0000 62px,#8b0000 64px,#800000 65px,#910000 69px,#cc0000 74px,#fd0000 77px,#fffb00 90px,#5dffa2 100px,#04fffb 107px,#008eff 120px,#0040ff 134px,#0002ff 153px,#0000ca 187px,#0000a6 246px,#000091)"></i>
<i style="background:linear-gradient(90deg,#ffe100,#ff5600 24px,#ff0000 37px,#a70000 53px,#8d0000 64px,#8c0000 66px,#810000 67px,#960000 71px,#d50000 76px,#f60000 78px,#ff1b00 80px,#fff400 91px,#f8ff07 92px,#63ff9c 101px,#08fff7 108px,#00f1ff 110px,#0091ff 121px,#0042ff 135px,#0002ff 154px,#0000c9 189px,#0000a5 249px,#000091)"></i>
<i style="background:linear-gradient(90deg,#ffe800,#ff5f00 24px,#fc0000 39px,#aa0000 54px,#8e0000 65px,#8c0000 67px,#810000 68px,#930000 72px,#ce0000 77px,#ff0100 80px,#ffff00 93px,#68ff97 102px,#01fffe 110px,#009bff 121px,#004cff 134px,#000bff 152px,#0000f6 160px,#0000c6 193px,#0000a3 256px,#000091)"></i>
<i style="background:linear-gradient(90deg,#fff000,#ff6900 24px,#ff0000 40px,#a80000 56px,#8e0000 67px,#8d0000 69px,#820000 70px,#980000 74px,#d70000 79px,#f90000 81px,#ff3100 84px,#fff700 94px,#e2ff1d 96px,#51ffae 105px,#05fffa 111px,#008fff 124px,#0040ff 138px,#0001ff 157px,#0000ca 190px,#0000a6 248px,#000091)"></i>
<i style="background:linear-gradient(90deg,#fff700,#ff7900 23px,#fd0000 42px,#ab0000 57px,#8f0000 68px,#8e0000 70px,#820000 71px,#940000 75px,#d00000 80px,#ff0400 83px,#fcff03 96px,#65ff9a 105px,#00fdff 113px,#0098ff 124px,#0046ff 138px,#0004ff 157px,#0000c8 194px,#0000a4 255px,#000091)"></i>
<i style="background:linear-gradient(90deg,#fffe00,#ff8300 23px,#ff0100 43px,#a90000 59px,#8f0000 70px,#8e0000 72px,#830000 73px,#9a0000 77px,#d90000 82px,#fb0000 84px,#ff9900 92px,#fffb00 97px,#5cffa3 107px,#02fffd 114px,#0093ff 126px,#0043ff 140px,#0002ff 159px,#0000c9 194px,#0000a5 254px,#000092)"></i>
<i style="background:linear-gradient(90deg,#f9ff06,#ffda00 9px,#ff4600 34px,#fd0000 45px,#ab0000 60px,#900000 71px,#8f0000 73px,#830000 74px,#960000 78px,#d30000 83px,#ff0700 86px,#fff300 98px,#f8ff07 99px,#61ff9e 108px,#06fff9 115px,#00dbff 119px,#0081ff 130px,#0033ff 145px,#0000fd 162px,#0000cb 193px,#0000a7 250px,#000092)"></i>
<i style="background:linear-gradient(90deg,#f3ff0c,#fff900 4px,#ff7d00 27px,#fa0000 47px,#aa0000 62px,#900000 73px,#8f0000 74px,#840000 75px,#930000 79px,#cd0000 84px,#fe0000 87px,#ffff00 100px,#67ff98 109px,#00feff 117px,#00a0ff 127px,#004fff 140px,#000cff 158px,#0000f7 166px,#0000c6 199px,#0000a3 261px,#000092)"></i>
<i style="background:linear-gradient(90deg,#ecff13,#fffc00 5px,#ff8000 28px,#fe0000 48px,#ac0000 63px,#910000 74px,#900000 76px,#840000 77px,#980000 81px,#d60000 86px,#f70000 88px,#ff1d00 90px,#fff800 101px,#cfff30 104px,#41ffbe 113px,#03fffc 118px,#0093ff 130px,#0042ff 144px,#0002ff 163px,#0000ca 196px,#0000a6 254px,#000092)"></i>
<i style="background:linear-gradient(90deg,#e6ff19,#fff900 7px,#ff7d00 30px,#fb0000 50px,#ab0000 65px,#910000 76px,#900000 77px,#850000 78px,#950000 82px,#d00000 87px,#ff0300 90px,#fbff04 103px,#63ff9c 112px,#07fff8 119px,#00e5ff 122px,#0087ff 133px,#003bff 147px,#0000ff 165px,#0000cd 195px,#0000a8 250px,#000092)"></i>
<i style="background:linear-gradient(90deg,#e0ff1f,#fffc00 8px,#ff8000 31px,#fe0000 51px,#ad0000 66px,#920000 77px,#910000 79px,#860000 80px,#9a0000 84px,#d90000 89px,#fb0000 91px,#ff7000 97px,#fffc00 104px,#59ffa6 114px,#00feff 121px,#00a0ff 131px,#004eff 144px,#000bff 162px,#0000f6 170px,#0000c6 202px,#0000a4 263px,#000092)"></i>
<i style="background:linear-gradient(90deg,#daff25,#fff900 10px,#ff7700 34px,#fb0000 53px,#ab0000 68px,#920000 79px,#920000 80px,#860000 81px,#970000 85px,#d30000 90px,#ff0700 93px,#fff500 105px,#e3ff1c 107px,#50ffaf 116px,#03fffc 122px,#0093ff 134px,#0041ff 148px,#0001ff 167px,#0000cb 199px,#0000a6 256px,#000092)"></i>
<i style="background:linear-gradient(90deg,#d4ff2b,#fffc00 11px,#ff7a00 35px,#fe0000 54px,#ae0000 69px,#930000 80px,#920000 82px,#870000 83px,#9d0000 87px,#dd0000 92px,#ff0000 94px,#fdff02 107px,#63ff9c 116px,#07fff8 123px,#00e5ff 126px,#0086ff 137px,#003aff 151px,#0000fe 169px,#0000cc 199px,#0000a8 254px,#000092)"></i>
<i style="background:linear-gradient(90deg,#ceff31,#fff900 13px,#ff7700 37px,#fb0000 56px,#ac0000 71px,#930000 82px,#930000 83px,#870000 84px,#9a0000 88px,#d70000 93px,#f80000 95px,#ff1e00 97px,#fffb00 108px,#59ffa6 118px,#00feff 125px,#009fff 135px,#004dff 148px,#000aff 166px,#0000f5 174px,#0000c5 207px,#0000a2 270px,#000092)"></i>
<i style="background:linear-gradient(90deg,#c8ff37,#fffc00 14px,#ff7a00 38px,#ff0000 57px,#ae0000 72px,#940000 83px,#930000 85px,#890000 86px,#9f0000 90px,#e10000 95px,#ff0500 97px,#fff400 109px,#f7ff08 110px,#5effa1 119px,#03fffc 126px,#0092ff 138px,#0045ff 151px,#0003ff 170px,#0000c9 204px,#0000a5 262px,#000092)"></i>
<i style="background:linear-gradient(90deg,#c2ff3d,#fffa00 16px,#ff7700 40px,#fc0000 59px,#ad0000 74px,#950000 85px,#940000 86px,#890000 87px,#9c0000 91px,#db0000 96px,#fd0000 98px,#fdff02 111px,#63ff9c 120px,#06fff9 127px,#00d0ff 132px,#0078ff 143px,#002cff 158px,#0000fd 173px,#0000cb 203px,#0000a7 259px,#000092)"></i>
<i style="background:linear-gradient(90deg,#bdff42,#fffc00 17px,#ff7b00 41px,#ff0000 60px,#b00000 75px,#960000 86px,#950000 87px,#8a0000 88px,#9a0000 92px,#d50000 97px,#f70000 99px,#ff1c00 101px,#fffa00 112px,#4bffb4 123px,#00fdff 129px,#009dff 139px,#004cff 152px,#0009ff 170px,#0000f2 179px,#0000c3 212px,#0000a1 276px,#000092)"></i>
<i style="background:linear-gradient(90deg,#b7ff48,#fffa00 19px,#ff7800 43px,#fd0000 62px,#af0000 77px,#970000 88px,#960000 89px,#8b0000 90px,#a00000 94px,#e00000 99px,#ff0300 101px,#fff300 113px,#f7ff08 114px,#5effa1 123px,#01fffe 130px,#0098ff 141px,#0048ff 154px,#0007ff 172px,#0000ea 184px,#0000bd 220px,#00009d 293px,#000092)"></i>
<i style="background:linear-gradient(90deg,#b1ff4e,#fffd00 20px,#ff7c00 44px,#fb0000 64px,#ae0000 79px,#980000 90px,#8c0000 91px,#9d0000 95px,#da0000 100px,#fc0000 102px,#ff8700 109px,#feff01 115px,#62ff9d 124px,#05fffa 131px,#008bff 144px,#003bff 158px,#0000fe 176px,#0000cd 205px,#0000a8 259px,#000092)"></i>
<i style="background:linear-gradient(90deg,#acff53,#fffb00 22px,#ff7900 46px,#fe0000 65px,#b00000 80px,#990000 91px,#990000 92px,#8e0000 93px,#a30000 97px,#e40000 102px,#ff0800 104px,#fff900 116px,#67ff98 125px,#08fff7 132px,#00f0ff 134px,#0094ff 144px,#0045ff 157px,#0005ff 175px,#0000c7 211px,#0000a4 270px,#000092)"></i>
<i style="background:linear-gradient(90deg,#a6ff59,#fffa00 24px,#ff7700 48px,#fc0000 67px,#b00000 82px,#9a0000 93px,#8e0000 94px,#a10000 98px,#df0000 103px,#ff0200 105px,#fff300 117px,#f8ff07 118px,#5dffa2 127px,#00ffff 134px,#009eff 144px,#004bff 157px,#0008ff 175px,#0000f3 183px,#0000c4 215px,#0000a2 277px,#000092)"></i>
<i style="background:linear-gradient(90deg,#a1ff5e,#fffd00 25px,#ff7b00 49px,#fa0000 69px,#b30000 83px,#9b0000 94px,#9b0000 95px,#900000 96px,#a70000 100px,#e90000 105px,#fb0000 106px,#ff5c00 111px,#feff01 119px,#62ff9d 128px,#04fffb 135px,#0090ff 147px,#0043ff 160px,#0003ff 178px,#0000c8 212px,#0000a5 269px,#000092)"></i>
<i style="background:linear-gradient(90deg,#9bff64,#fffb00 27px,#ff7900 51px,#fe0000 70px,#b20000 85px,#9d0000 96px,#910000 97px,#a40000 101px,#e40000 106px,#ff0700 108px,#fff900 120px,#97ff68 126px,#20ffdf 134px,#00faff 137px,#009aff 147px,#0049ff 160px,#0006ff 178px,#0000e1 195px,#0000b6 235px,#000099 320px,#000092)"></i>
<i style="background:linear-gradient(90deg,#96ff69,#fffa00 29px,#ff7700 53px,#fc0000 72px,#b50000 86px,#9e0000 97px,#9e0000 98px,#930000 99px,#ab0000 103px,#ef0000 108px,#ff0100 109px,#fff200 121px,#f8ff07 122px,#5cffa3 131px,#00feff 138px,#009cff 148px,#004aff 161px,#0006ff 179px,#0000e8 192px,#0000bc 228px,#00009c 302px,#000092)"></i>
<i style="background:linear-gradient(90deg,#91ff6e,#f8ff07 28px,#ffea00 34px,#ff6200 58px,#fb0000 74px,#b50000 88px,#a00000 99px,#940000 100px,#a80000 104px,#e90000 109px,#fa0000 110px,#ff4700 114px,#ffff00 123px,#61ff9e 132px,#02fffd 139px,#0096ff 150px,#0046ff 163px,#0004ff 181px,#0000c7 216px,#0000a4 274px,#000092)"></i>
<i style="background:linear-gradient(90deg,#8cff73,#f1ff0e 28px,#fff700 33px,#ff7300 57px,#ff0000 75px,#b80000 89px,#a10000 100px,#960000 101px,#a60000 105px,#e30000 110px,#ff0600 112px,#fff900 124px,#baff45 128px,#3affc5 136px,#06fff9 140px,#00bbff 147px,#0062ff 159px,#001aff 175px,#0000fc 185px,#0000cb 214px,#0000a7 268px,#000093)"></i>
<i style="background:linear-gradient(90deg,#86ff79,#edff12 29px,#fffa00 34px,#ff7700 58px,#fd0000 77px,#b80000 91px,#a30000 102px,#970000 103px,#ac0000 107px,#ee0000 112px,#ff0000 113px,#fff200 125px,#f8ff07 126px,#6bff94 134px,#09fff6 141px,#00f1ff 143px,#0093ff 153px,#0043ff 166px,#0002ff 184px,#0000ca 216px,#0000a6 271px,#000093)"></i>
<i style="background:linear-gradient(90deg,#81ff7e,#e6ff19 29px,#fff900 36px,#ff7500 60px,#fc0000 79px,#b70000 93px,#a40000 103px,#990000 104px,#aa0000 108px,#e80000 113px,#f90000 114px,#ff3200 117px,#ffff00 127px,#60ff9f 136px,#01fffe 143px,#009dff 153px,#004eff 165px,#000bff 182px,#0000f8 189px,#0000c7 219px,#0000a4 276px,#000093)"></i>
<i style="background:linear-gradient(90deg,#7cff83,#dfff20 29px,#fffd00 37px,#ff7a00 61px,#fa0000 81px,#b70000 95px,#a60000 105px,#9b0000 106px,#b00000 110px,#ff0500 116px,#fff800 128px,#ccff33 131px,#47ffb8 139px,#05fffa 144px,#008fff 156px,#0040ff 169px,#0001ff 187px,#0000cc 216px,#0000a8 268px,#000093)"></i>
<i style="background:linear-gradient(90deg,#77ff88,#dcff23 30px,#fffb00 39px,#ff7800 63px,#ff0000 82px,#bb0000 96px,#a80000 106px,#9c0000 107px,#ae0000 111px,#ed0000 116px,#fe0000 117px,#fff100 129px,#f9ff06 130px,#6aff95 138px,#08fff7 145px,#00f0ff 147px,#0091ff 157px,#0041ff 170px,#0001ff 188px,#0000cb 218px,#0000a7 271px,#000093)"></i>
<i style="background:linear-gradient(90deg,#72ff8d,#d4ff2b 30px,#fffa00 41px,#ff7700 65px,#fe0000 84px,#bb0000 98px,#aa0000 108px,#9f0000 109px,#b50000 113px,#f80000 118px,#ff1d00 120px,#fffe00 131px,#60ff9f 140px,#00ffff 147px,#009bff 157px,#004dff 169px,#000aff 186px,#0000f4 194px,#0000c4 225px,#0000a2 285px,#000093)"></i>
<i style="background:linear-gradient(90deg,#6eff91,#d1ff2e 31px,#fff900 43px,#ff7600 67px,#fd0000 86px,#bb0000 100px,#ac0000 109px,#a00000 110px,#b20000 114px,#ff0400 120px,#fff700 132px,#e0ff1f 134px,#56ffa9 142px,#04fffb 148px,#008eff 160px,#003fff 173px,#0002ff 190px,#0000ca 221px,#0000a6 275px,#000093)"></i>
<i style="background:linear-gradient(90deg,#69ff96,#caff35 31px,#fffd00 44px,#ff7a00 68px,#fc0000 88px,#be0000 101px,#ad0000 111px,#a20000 112px,#b90000 116px,#fd0000 121px,#ff8700 128px,#fbff04 134px,#6bff94 142px,#08fff7 149px,#00efff 151px,#0090ff 161px,#0040ff 174px,#0000ff 192px,#0000cc 220px,#0000a8 271px,#000093)"></i>
<i style="background:linear-gradient(90deg,#64ff9b,#c7ff38 32px,#fffc00 46px,#ff7900 70px,#fb0000 90px,#bf0000 103px,#af0000 112px,#a40000 113px,#b60000 117px,#f70000 122px,#ff1b00 124px,#fffc00 135px,#51ffae 145px,#00feff 151px,#009aff 161px,#004bff 173px,#0008ff 190px,#0000f5 197px,#0000c6 227px,#0000a3 285px,#000093)"></i>
<i style="background:linear-gradient(90deg,#5fffa0,#c4ff3b 33px,#fffc00 48px,#ff7800 72px,#ff0000 91px,#bf0000 105px,#b10000 114px,#a60000 115px,#bd0000 119px,#ff0300 124px,#fff500 136px,#f5ff0a 137px,#66ff99 145px,#03fffc 152px,#0094ff 163px,#0047ff 175px,#0006ff 192px,#0000e1 208px,#0000b6 246px,#000099 327px,#000093)"></i>
<i style="background:linear-gradient(90deg,#5bffa4,#bdff42 33px,#fffb00 50px,#ff7700 74px,#ff0000 93px,#c30000 106px,#b30000 115px,#a80000 116px,#ba0000 120px,#fb0000 125px,#ff5b00 130px,#fdff02 138px,#6bff94 146px,#08fff7 153px,#00efff 155px,#008fff 165px,#003fff 178px,#0001ff 195px,#0000cb 224px,#0000a7 276px,#000093)"></i>
<i style="background:linear-gradient(90deg,#56ffa9,#baff45 34px,#fffa00 52px,#ff7600 76px,#fe0000 95px,#c30000 108px,#b50000 117px,#aa0000 118px,#c10000 122px,#f50000 126px,#ff0700 127px,#fff900 139px,#71ff8e 147px,#00ffff 155px,#0099ff 165px,#004aff 177px,#0007ff 194px,#0000f0 203px,#0000c1 235px,#0000a0 298px,#000093)"></i>
<i style="background:linear-gradient(90deg,#52ffad,#b3ff4c 34px,#fffe00 53px,#ff7b00 77px,#fd0000 97px,#c40000 110px,#b70000 118px,#ac0000 119px,#be0000 123px,#ff0100 128px,#ffb300 137px,#fff100 140px,#f8ff07 141px,#67ff98 149px,#04fffb 156px,#0094ff 167px,#0046ff 179px,#0005ff 196px,#0000c6 231px,#0000a3 287px,#000093)"></i>
<i style="background:linear-gradient(90deg,#4dffb2,#b0ff4f 35px,#fffe00 55px,#ff7a00 79px,#fd0000 99px,#c50000 112px,#b90000 120px,#ae0000 121px,#c50000 125px,#f90000 129px,#ff3000 132px,#fffe00 142px,#5dffa2 151px,#08fff7 157px,#00efff 159px,#008eff 169px,#003eff 182px,#0000ff 199px,#0000cd 226px,#0000a8 276px,#000093)"></i>
<i style="background:linear-gradient(90deg,#49ffb6,#adff52 36px,#fffd00 57px,#ff7900 81px,#fc0000 101px,#c50000 114px,#bb0000 121px,#b00000 122px,#c20000 126px,#ff0400 131px,#ffb700 140px,#fff500 143px,#e1ff1e 145px,#54ffab 153px,#00ffff 159px,#0099ff 169px,#0049ff 181px,#0006ff 198px,#0000e6 211px,#0000ba 246px,#00009b 318px,#000093)"></i>
<i style="background:linear-gradient(90deg,#45ffba,#a7ff58 36px,#fffc00 59px,#ff7800 83px,#fc0000 103px,#c60000 116px,#bd0000 123px,#b20000 124px,#c90000 128px,#fd0000 132px,#ff6f00 138px,#fdff02 145px,#6aff95 153px,#05fffa 160px,#008cff 172px,#003cff 185px,#0001ff 201px,#0000cb 230px,#0000a7 281px,#000093)"></i>
<i style="background:linear-gradient(90deg,#40ffbf,#a3ff5c 37px,#fffc00 61px,#ff7700 85px,#fb0000 105px,#ca0000 117px,#bf0000 124px,#b40000 125px,#c60000 129px,#f70000 133px,#ff1900 135px,#fff900 146px,#a4ff5b 151px,#25ffda 159px,#00fcff 162px,#009fff 171px,#004dff 183px,#000bff 199px,#0000f7 206px,#0000c7 235px,#0000a4 290px,#000093)"></i>
<i style="background:linear-gradient(90deg,#3cffc3,#a0ff5f 38px,#fffc00 63px,#ff7600 87px,#ff0100 106px,#cb0000 119px,#c10000 126px,#b60000 127px,#cc0000 131px,#ff0100 135px,#ff8700 142px,#fff000 147px,#f9ff06 148px,#67ff98 156px,#02fffd 163px,#0092ff 174px,#0044ff 186px,#0003ff 203px,#0000c9 234px,#0000a5 287px,#000093)"></i>
<i style="background:linear-gradient(90deg,#38ffc7,#9aff65 38px,#fffb00 65px,#ff7600 89px,#ff0100 108px,#cc0000 121px,#c30000 128px,#b90000 129px,#d30000 133px,#fa0000 136px,#ff2e00 139px,#fffc00 149px,#4effb1 159px,#07fff8 164px,#00e2ff 167px,#0085ff 177px,#0037ff 190px,#0000fd 206px,#0000cc 233px,#0000a7 283px,#000094)"></i>
<i style="background:linear-gradient(90deg,#34ffcb,#97ff68 39px,#faff05 65px,#ffc800 77px,#ff0100 110px,#cd0000 123px,#c60000 129px,#ba0000 130px,#cf0000 134px,#ff0400 138px,#ff8a00 145px,#fff300 150px,#f7ff08 151px,#64ff9b 159px,#00ffff 166px,#00a0ff 175px,#004dff 187px,#000bff 203px,#0000f6 210px,#0000c6 239px,#0000a3 294px,#000094)"></i>
<i style="background:linear-gradient(90deg,#30ffcf,#94ff6b 40px,#f6ff09 66px,#fff600 70px,#ff6e00 94px,#ff0100 112px,#ce0000 125px,#c80000 131px,#bd0000 132px,#d60000 136px,#fc0000 139px,#ff5700 144px,#fffe00 152px,#5bffa4 161px,#05fffa 167px,#0093ff 178px,#0044ff 190px,#0003ff 207px,#0000c9 238px,#0000a5 291px,#000094)"></i>
<i style="background:linear-gradient(90deg,#2cffd3,#91ff6e 41px,#f6ff09 68px,#fff500 72px,#ff6e00 96px,#ff0100 114px,#d10000 126px,#ca0000 132px,#be0000 133px,#d20000 137px,#ff0600 141px,#ff8b00 148px,#fff400 153px,#f5ff0a 154px,#63ff9c 162px,#00fdff 169px,#009fff 178px,#004cff 190px,#000aff 206px,#0000f5 213px,#0000c5 242px,#0000a3 297px,#000094)"></i>
<i style="background:linear-gradient(90deg,#28ffd7,#8bff74 41px,#edff12 68px,#fffa00 73px,#ff7300 97px,#ff0100 116px,#d20000 128px,#cc0000 134px,#c10000 135px,#d80000 139px,#fe0000 142px,#ff6d00 148px,#ffff00 155px,#6aff95 163px,#04fffb 170px,#0091ff 181px,#0043ff 193px,#0002ff 210px,#0000ca 239px,#0000a6 290px,#000094)"></i>
<i style="background:linear-gradient(90deg,#24ffdb,#88ff77 42px,#e9ff16 69px,#fffa00 75px,#ff7300 99px,#ff0100 118px,#d40000 130px,#ce0000 135px,#c20000 136px,#d50000 140px,#f80000 143px,#ff1800 145px,#ffcb00 154px,#fff500 156px,#f5ff0a 157px,#62ff9d 165px,#00fcff 172px,#009eff 181px,#004aff 193px,#0009ff 209px,#0000f5 216px,#0000c5 245px,#0000a2 301px,#000094)"></i>
<i style="background:linear-gradient(90deg,#20ffdf,#86ff79 43px,#e5ff1a 70px,#fff900 77px,#ff7200 101px,#ff0100 120px,#d50000 132px,#d00000 137px,#c50000 138px,#db0000 142px,#ff0100 145px,#ff6d00 151px,#ffff00 158px,#6aff95 166px,#03fffc 173px,#0091ff 184px,#0042ff 196px,#0001ff 213px,#0000cb 241px,#0000a7 291px,#000094)"></i>
<i style="background:linear-gradient(90deg,#1cffe3,#83ff7c 44px,#e5ff1a 72px,#fff900 79px,#ff7200 103px,#ff0100 122px,#d60000 134px,#d20000 139px,#c70000 140px,#e10000 144px,#f90000 146px,#ff1900 148px,#ffcb00 157px,#fff500 159px,#f5ff0a 160px,#61ff9e 168px,#0afff5 174px,#00efff 176px,#0094ff 185px,#0044ff 197px,#0002ff 214px,#0000ca 243px,#0000a6 293px,#000094)"></i>
<i style="background:linear-gradient(90deg,#18ffe7,#80ff7f 45px,#e1ff1e 73px,#fff900 81px,#ff7200 105px,#ff0100 124px,#d80000 136px,#d40000 140px,#c80000 141px,#dd0000 145px,#ff0200 148px,#ff6d00 154px,#ffff00 161px,#5affa5 170px,#03fffc 176px,#0090ff 187px,#0042ff 199px,#0000ff 216px,#0000cc 243px,#0000a7 292px,#000094)"></i>
<i style="background:linear-gradient(90deg,#15ffea,#7dff82 46px,#ddff22 74px,#fff900 83px,#ff7100 107px,#ff0100 126px,#d90000 138px,#d60000 142px,#cb0000 143px,#e20000 147px,#fa0000 149px,#ff2a00 152px,#fff400 162px,#f6ff09 163px,#62ff9d 171px,#00fcff 178px,#009dff 187px,#0049ff 199px,#0008ff 215px,#0000f1 223px,#0000c2 253px,#0000a1 311px,#000095)"></i>
<i style="background:linear-gradient(90deg,#11ffee,#77ff88 46px,#d4ff2b 74px,#fff900 85px,#ff6b00 110px,#ff0200 128px,#db0000 140px,#d80000 143px,#cc0000 144px,#de0000 148px,#ff0200 151px,#ff6c00 157px,#fffd00 164px,#5affa5 173px,#04fffb 179px,#0090ff 190px,#0041ff 202px,#0000ff 219px,#0000cd 245px,#0000a8 293px,#000095)"></i>
<i style="background:linear-gradient(90deg,#0dfff2,#75ff8a 47px,#d4ff2b 76px,#fff900 87px,#ff6b00 112px,#ff0200 130px,#dc0000 142px,#da0000 145px,#cf0000 146px,#e40000 150px,#fa0000 152px,#ff2900 155px,#fff200 165px,#f7ff08 166px,#63ff9c 174px,#00fdff 181px,#009dff 190px,#0049ff 202px,#0007ff 218px,#0000ee 227px,#0000c0 258px,#00009f 319px,#000095)"></i>
<i style="background:linear-gradient(90deg,#09fff6,#72ff8d 48px,#d0ff2f 77px,#fff900 89px,#ff6b00 114px,#ff0200 132px,#de0000 144px,#dc0000 147px,#d10000 148px,#e90000 152px,#ff0200 154px,#ff6a00 160px,#fffb00 167px,#4cffb3 177px,#04fffb 182px,#0090ff 193px,#0041ff 205px,#0003ff 221px,#0000c9 251px,#0000a5 302px,#000095)"></i>
<i style="background:linear-gradient(90deg,#06fff9,#6fff90 49px,#ccff33 78px,#fff900 91px,#ff6b00 116px,#ff0300 134px,#df0000 147px,#de0000 148px,#d20000 149px,#e50000 153px,#fb0000 155px,#ff2800 158px,#faff05 169px,#65ff9a 177px,#00feff 184px,#009dff 193px,#004fff 204px,#000aff 220px,#0000f5 227px,#0000c6 255px,#0000a3 309px,#000095)"></i>
<i style="background:linear-gradient(90deg,#02fffd,#6cff93 50px,#c8ff37 79px,#fffa00 93px,#ff6b00 118px,#ff0400 136px,#e00000 149px,#e00000 150px,#d50000 151px,#ea0000 155px,#ff0200 157px,#ff6800 163px,#fff900 170px,#a3ff5c 175px,#21ffde 183px,#06fff9 185px,#00abff 193px,#0058ff 204px,#0013ff 219px,#0000f9 227px,#0000c9 254px,#0000a5 305px,#000095)"></i>
<i style="background:linear-gradient(90deg,#00fdff,#61ff9e 48px,#bfff40 79px,#fffa00 95px,#ff6b00 120px,#ff0400 138px,#e20000 151px,#e20000 152px,#d70000 153px,#f00000 157px,#ff0900 159px,#ff7100 165px,#fcff03 172px,#57ffa8 181px,#00ffff 187px,#009eff 196px,#004fff 207px,#000dff 222px,#0000f8 229px,#0000c7 257px,#0000a4 309px,#000095)"></i>
<i style="background:linear-gradient(90deg,#00faff,#30ffcf 28px,#90ff6f 67px,#f1ff0e 93px,#fffb00 97px,#ff6b00 122px,#ff0500 140px,#e40000 153px,#d90000 154px,#ec0000 158px,#ff0200 160px,#ff5200 165px,#fff600 173px,#e0ff1f 175px,#50ffaf 183px,#07fff8 188px,#00e1ff 191px,#0081ff 201px,#0038ff 213px,#0000ff 228px,#0000cc 254px,#0000a7 302px,#000096)"></i>
<i style="background:linear-gradient(90deg,#00f6ff,#0bfff4 11px,#73ff8c 59px,#ceff31 87px,#fffb00 99px,#ff6c00 124px,#ff0600 142px,#e70000 153px,#e60000 155px,#db0000 156px,#f10000 160px,#ff0800 162px,#ff6e00 168px,#fffe00 175px,#59ffa6 184px,#02fffd 190px,#0096ff 200px,#0044ff 212px,#0004ff 228px,#0000c8 259px,#0000a5 310px,#000096)"></i>
<i style="background:linear-gradient(90deg,#00f3ff,#07fff8 11px,#70ff8f 60px,#cdff32 89px,#fffc00 101px,#ff6c00 126px,#ff0700 144px,#ef0000 151px,#e80000 157px,#de0000 158px,#f60000 162px,#ff0200 163px,#ff5000 168px,#fff200 176px,#f7ff08 177px,#52ffad 186px,#00fbff 192px,#009bff 201px,#004dff 212px,#0009ff 228px,#0000f4 235px,#0000c5 263px,#0000a3 317px,#000096)"></i>
<i style="background:linear-gradient(90deg,#00efff,#07fff8 13px,#6fff90 62px,#cdff32 91px,#fffc00 103px,#ff6d00 128px,#ff0800 146px,#f60000 151px,#eb0000 158px,#df0000 159px,#f20000 163px,#ff0800 165px,#ff5800 170px,#fffa00 178px,#4cffb3 188px,#04fffb 193px,#008fff 204px,#0040ff 216px,#0001ff 232px,#0000cb 259px,#0000a7 307px,#000096)"></i>
<i style="background:linear-gradient(90deg,#00ebff,#07fff8 15px,#6eff91 64px,#ccff33 93px,#fffd00 105px,#ff6d00 130px,#ff0d00 147px,#fa0000 152px,#ed0000 160px,#e20000 161px,#f70000 165px,#ff0200 166px,#ff4d00 171px,#fbff04 180px,#55ffaa 189px,#00feff 195px,#009dff 204px,#004eff 215px,#000cff 230px,#0000f9 236px,#0000c8 263px,#0000a5 314px,#000096)"></i>
<i style="background:linear-gradient(90deg,#00e8ff,#06fff9 17px,#6eff91 66px,#cbff34 95px,#fff900 108px,#ff6200 134px,#ff0a00 150px,#f90000 155px,#ef0000 162px,#e40000 163px,#fc0000 167px,#ff2200 170px,#ffa300 177px,#fff600 181px,#dfff20 183px,#4fffb0 191px,#07fff8 196px,#00d5ff 200px,#0079ff 210px,#002dff 223px,#0000fd 236px,#0000cb 262px,#0000a7 310px,#000097)"></i>
<i style="background:linear-gradient(90deg,#00e4ff,#06fff9 19px,#6dff92 68px,#caff35 97px,#fffa00 110px,#ff6200 136px,#ff0b00 152px,#f80000 158px,#f10000 164px,#e70000 165px,#ff0200 169px,#ff4a00 174px,#fffe00 183px,#59ffa6 192px,#01fffe 198px,#0095ff 208px,#0043ff 220px,#0003ff 236px,#0000c8 266px,#0000a5 316px,#000097)"></i>
<i style="background:linear-gradient(90deg,#00e1ff,#06fff9 21px,#6dff92 70px,#c5ff3a 98px,#fffb00 112px,#ff6300 138px,#ff0d00 154px,#f90000 160px,#f40000 165px,#e80000 166px,#fc0000 170px,#ff2f00 174px,#ffc800 182px,#f8ff07 185px,#53ffac 194px,#00fbff 200px,#009bff 209px,#004cff 220px,#000bff 235px,#0000f6 242px,#0000c5 270px,#0000a3 323px,#000097)"></i>
<i style="background:linear-gradient(90deg,#00ddff,#06fff9 23px,#6cff93 72px,#c4ff3b 100px,#fffc00 114px,#ff6400 140px,#ff0e00 156px,#fb0000 162px,#f60000 167px,#eb0000 168px,#ff0200 172px,#ff4700 177px,#fff900 186px,#b6ff49 190px,#2effd1 198px,#05fffa 201px,#008fff 212px,#003fff 224px,#0000ff 240px,#0000cc 266px,#0000a7 313px,#000097)"></i>
<i style="background:linear-gradient(90deg,#00daff,#05fffa 25px,#6bff94 74px,#c3ff3c 102px,#fffd00 116px,#ff6500 142px,#ff0f00 158px,#fb0000 165px,#f80000 169px,#ed0000 170px,#fd0000 173px,#ff2d00 177px,#ffae00 184px,#feff01 188px,#57ffa8 197px,#00ffff 203px,#009dff 212px,#004dff 223px,#000bff 238px,#0000f6 245px,#0000c5 273px,#0000a3 326px,#000097)"></i>
<i style="background:linear-gradient(90deg,#00d7ff,#05fffa 27px,#6aff95 76px,#c2ff3d 104px,#fff900 119px,#ff1900 158px,#fd0000 167px,#fb0000 170px,#ef0000 171px,#ff0200 175px,#ff4300 180px,#fff300 189px,#f7ff08 190px,#52ffad 199px,#08fff7 204px,#00edff 206px,#0091ff 215px,#0040ff 227px,#0001ff 243px,#0000cc 269px,#0000a7 316px,#000098)"></i>
<i style="background:linear-gradient(90deg,#00d3ff,#05fffa 29px,#6cff93 79px,#c5ff3a 107px,#fffb00 121px,#ff1f00 159px,#ff0000 169px,#fd0000 172px,#f10000 173px,#ff0700 177px,#ff4a00 182px,#fffa00 191px,#4cffb3 201px,#03fffc 206px,#008eff 217px,#003eff 229px,#0000ff 245px,#0000cd 270px,#0000a8 316px,#000098)"></i>
<i style="background:linear-gradient(90deg,#00d0ff,#04fffb 31px,#6bff94 81px,#c4ff3b 109px,#fffc00 123px,#ff2000 161px,#ff0100 172px,#ff0000 174px,#f40000 175px,#ff0300 178px,#ff3000 182px,#ffaf00 189px,#fdff02 193px,#57ffa8 202px,#00feff 208px,#009cff 217px,#004cff 228px,#000bff 243px,#0000f5 250px,#0000c5 278px,#0000a3 331px,#000098)"></i>
<i style="background:linear-gradient(90deg,#00cdff,#04fffb 33px,#6aff95 83px,#c3ff3c 111px,#fffd00 125px,#ff2200 163px,#ff0300 174px,#ff0200 176px,#f70000 177px,#ff0700 180px,#ff4600 185px,#fff300 194px,#f6ff09 195px,#51ffae 204px,#08fff7 209px,#00edff 211px,#0090ff 220px,#003fff 232px,#0000ff 248px,#0000cd 273px,#0000a8 319px,#000098)"></i>
<i style="background:linear-gradient(90deg,#00c9ff,#05fffa 36px,#69ff96 85px,#c1ff3e 113px,#fff900 128px,#ff2300 165px,#ff0700 175px,#fa0000 179px,#ff0b00 182px,#ff4c00 187px,#fffa00 196px,#3cffc3 207px,#03fffc 211px,#0096ff 221px,#0048ff 232px,#0005ff 248px,#0000c6 280px,#0000a3 332px,#000099)"></i>
<i style="background:linear-gradient(90deg,#00c6ff,#05fffa 38px,#6bff94 88px,#c4ff3b 116px,#fffb00 130px,#ff2500 167px,#ff0900 177px,#ff0100 182px,#ff2500 186px,#ff8800 192px,#fdff02 198px,#57ffa8 207px,#00feff 213px,#009cff 222px,#004cff 233px,#000aff 248px,#0000f7 254px,#0000c7 281px,#0000a4 332px,#000099)"></i>
<i style="background:linear-gradient(90deg,#00c3ff,#05fffa 40px,#6aff95 90px,#c3ff3c 118px,#fffc00 132px,#ff2700 169px,#ff0b00 179px,#ff0a00 181px,#fe0000 182px,#ff1400 186px,#ff5700 191px,#fff300 199px,#f7ff08 200px,#52ffad 209px,#08fff7 214px,#00edff 216px,#0090ff 225px,#003fff 237px,#0000ff 253px,#0000cc 278px,#0000a8 324px,#000099)"></i>
<i style="background:linear-gradient(90deg,#00bfff,#04fffb 42px,#69ff96 92px,#c1ff3e 120px,#fffe00 134px,#ff2800 171px,#ff0d00 181px,#ff0c00 183px,#ff0100 184px,#ff1800 188px,#ff5d00 193px,#fff900 201px,#a4ff5b 206px,#1fffe0 214px,#04fffb 216px,#008dff 227px,#003dff 239px,#0001ff 254px,#0000cb 281px,#0000a7 328px,#000099)"></i>
<i style="background:linear-gradient(90deg,#00bcff,#05fffa 45px,#68ff97 94px,#c0ff3f 122px,#fffa00 137px,#ff2e00 172px,#ff1100 182px,#ff0f00 185px,#ff0400 186px,#ff1d00 190px,#ff6300 195px,#ffff00 203px,#58ffa7 212px,#00ffff 218px,#009cff 227px,#004cff 238px,#000aff 253px,#0000f7 259px,#0000c6 286px,#0000a3 337px,#00009a)"></i>
<i style="background:linear-gradient(90deg,#00b9ff,#05fffa 47px,#6aff95 97px,#beff41 124px,#fffc00 139px,#ff3000 174px,#ff1300 184px,#ff1100 186px,#ff0600 187px,#ff1800 191px,#ff5800 196px,#fff100 204px,#f9ff06 205px,#54ffab 214px,#00fbff 220px,#0099ff 229px,#004aff 240px,#0009ff 255px,#0000f3 262px,#0000c4 290px,#0000a2 344px,#00009a)"></i>
<i style="background:linear-gradient(90deg,#00b6ff,#04fffb 49px,#69ff96 99px,#bdff42 126px,#fffe00 141px,#ff3200 176px,#ff1500 186px,#ff1400 188px,#ff0800 189px,#ff1c00 193px,#ff5d00 198px,#fff600 206px,#e0ff1f 208px,#3fffc0 217px,#06fff9 221px,#0096ff 231px,#0048ff 242px,#0007ff 257px,#0000ee 266px,#0000c0 295px,#00009f 353px,#00009a)"></i>
<i style="background:linear-gradient(90deg,#00b2ff,#04fffb 51px,#68ff97 101px,#bcff43 128px,#fffa00 144px,#ff3400 178px,#ff1800 188px,#ff1600 190px,#ff0b00 191px,#ff2000 195px,#ff6200 200px,#fffc00 208px,#4bffb4 218px,#02fffd 223px,#0094ff 233px,#0046ff 244px,#0003ff 260px,#0000c8 289px,#0000a5 338px,#00009b)"></i>
<i style="background:linear-gradient(90deg,#00afff,#05fffa 54px,#67ff98 103px,#baff45 130px,#fffc00 146px,#ff3600 180px,#ff1a00 190px,#ff1900 192px,#ff0e00 193px,#ff2400 197px,#ff6700 202px,#fdff02 210px,#57ffa8 219px,#00fdff 225px,#009aff 234px,#004aff 245px,#0009ff 260px,#0000f3 267px,#0000c3 295px,#0000a1 349px,#00009b)"></i>
<i style="background:linear-gradient(90deg,#00acff,#05fffa 56px,#68ff97 106px,#bcff43 133px,#fffe00 148px,#ff3800 182px,#ff1d00 192px,#ff1c00 194px,#ff1100 195px,#ff2800 199px,#ff6c00 204px,#fff200 211px,#f8ff07 212px,#52ffad 221px,#08fff7 226px,#00edff 228px,#008fff 237px,#003eff 249px,#0001ff 264px,#0000cb 290px,#0000a7 336px,#00009b)"></i>
<i style="background:linear-gradient(90deg,#00a9ff,#04fffb 58px,#67ff98 108px,#bbff44 135px,#fffa00 151px,#ff3a00 184px,#ff1f00 194px,#ff1e00 196px,#ff1400 197px,#ff2c00 201px,#ff7100 206px,#fff700 213px,#dfff20 215px,#3fffc0 224px,#05fffa 228px,#008dff 239px,#003cff 251px,#0000ff 266px,#0000cc 291px,#0000a8 336px,#00009c)"></i>
<i style="background:linear-gradient(90deg,#00a6ff,#04fffb 60px,#66ff99 110px,#b9ff46 137px,#fffc00 153px,#ff3d00 186px,#ff2200 196px,#ff2100 197px,#ff1500 198px,#ff2700 202px,#ff6600 207px,#fffc00 215px,#4bffb4 225px,#01fffe 230px,#0093ff 240px,#0045ff 251px,#0006ff 266px,#0000d5 287px,#0000ad 327px,#00009c)"></i>
<i style="background:linear-gradient(90deg,#00a3ff,#05fffa 63px,#68ff97 113px,#bcff43 140px,#fffe00 155px,#ff3f00 188px,#ff2400 198px,#ff2400 199px,#ff1800 200px,#ff2a00 204px,#ff6a00 209px,#fdff02 217px,#57ffa8 226px,#00fdff 232px,#009aff 241px,#0049ff 252px,#0008ff 267px,#0000f0 275px,#0000c2 303px,#0000a0 358px,#00009c)"></i>
<i style="background:linear-gradient(90deg,#00a0ff,#05fffa 65px,#67ff98 115px,#baff45 142px,#fffa00 158px,#ff4100 190px,#ff2700 200px,#ff2600 201px,#ff1b00 202px,#ff2e00 206px,#ff6f00 211px,#fff200 218px,#f9ff06 219px,#53ffac 228px,#09fff6 233px,#00edff 235px,#008fff 244px,#0042ff 255px,#0001ff 271px,#0000cc 296px,#0000a8 341px,#00009d)"></i>
<i style="background:linear-gradient(90deg,#009dff,#04fffb 67px,#65ff9a 117px,#b9ff46 144px,#fffc00 160px,#ff4400 192px,#ff2a00 202px,#ff2900 203px,#ff1e00 204px,#ff3200 208px,#ff7300 213px,#fff600 220px,#e1ff1e 222px,#40ffbf 231px,#06fff9 235px,#009fff 244px,#004cff 255px,#0009ff 270px,#0000f6 276px,#0000c7 302px,#0000a4 352px,#00009d)"></i>
<i style="background:linear-gradient(90deg,#009aff,#05fffa 70px,#67ff98 120px,#bbff44 147px,#fffe00 162px,#ff4600 194px,#ff2c00 204px,#ff2c00 205px,#ff2100 206px,#ff3500 210px,#ff7700 215px,#fffa00 222px,#3dffc2 233px,#03fffc 237px,#0094ff 247px,#0045ff 258px,#0005ff 273px,#0000c6 304px,#0000a3 354px,#00009d)"></i>
<i style="background:linear-gradient(90deg,#0097ff,#05fffa 72px,#66ff99 122px,#b9ff46 149px,#fffb00 165px,#ff4800 196px,#ff2f00 206px,#ff2f00 207px,#ff2300 208px,#ff3900 212px,#ff7b00 217px,#fffe00 224px,#49ffb6 234px,#00ffff 239px,#009bff 248px,#0049ff 259px,#0007ff 274px,#0000ed 283px,#0000bf 312px,#00009f 369px,#00009e)"></i>
<i style="background:linear-gradient(90deg,#0094ff,#04fffb 74px,#65ff9a 124px,#b8ff47 151px,#fffd00 167px,#ff4b00 198px,#ff3200 208px,#ff3100 209px,#ff2600 210px,#ff3c00 214px,#ff7f00 219px,#fcff03 226px,#46ffb9 236px,#00fcff 241px,#0099ff 250px,#0048ff 261px,#0007ff 276px,#0000ea 286px,#0000bd 316px,#00009e)"></i>
<i style="background:linear-gradient(90deg,#0091ff,#04fffb 76px,#64ff9b 126px,#b6ff49 153px,#ffff00 169px,#ff4e00 200px,#ff3500 210px,#ff3400 211px,#ff2900 212px,#ff4000 216px,#ff8300 221px,#fff200 227px,#f8ff07 228px,#43ffbc 238px,#08fff7 242px,#00edff 244px,#008eff 253px,#0041ff 264px,#0002ff 279px,#0000c9 307px,#0000a5 354px,#00009f)"></i>
<i style="background:linear-gradient(90deg,#008eff,#05fffa 79px,#65ff9a 129px,#b9ff46 156px,#fffc00 172px,#ff5000 202px,#ff3800 212px,#ff3700 213px,#ff2c00 214px,#ff4300 218px,#ff8600 223px,#fff600 229px,#e1ff1e 231px,#40ffbf 240px,#06fff9 244px,#00bcff 250px,#0065ff 260px,#001fff 273px,#0000fb 283px,#0000c9 308px,#0000a5 355px,#00009f)"></i>
<i style="background:linear-gradient(90deg,#008bff,#04fffb 81px,#64ff9b 131px,#b7ff48 158px,#fffe00 174px,#ff5300 204px,#ff3a00 214px,#ff3a00 215px,#ff2f00 216px,#ff4600 220px,#ff8a00 225px,#fff900 231px,#6fff90 239px,#03fffc 246px,#0093ff 256px,#0044ff 267px,#0004ff 282px,#0000c8 311px,#0000a4 359px,#0000a0)"></i>
<i style="background:linear-gradient(90deg,#0088ff,#04fffb 83px,#63ff9c 133px,#b5ff4a 160px,#fffa00 177px,#ff5a00 205px,#ff3e00 215px,#ff3d00 217px,#ff3200 218px,#ff4a00 222px,#ff8e00 227px,#fffd00 233px,#3bffc4 244px,#01fffe 248px,#009bff 257px,#0049ff 268px,#0007ff 283px,#0000ec 292px,#0000be 321px,#0000a0)"></i>
<i style="background:linear-gradient(90deg,#0085ff,#05fffa 86px,#64ff9b 136px,#b4ff4b 162px,#fffd00 179px,#ff5900 208px,#ff4000 218px,#ff4000 219px,#ff3500 220px,#ff4d00 224px,#ff9100 229px,#feff01 235px,#48ffb7 245px,#00feff 250px,#0099ff 259px,#0048ff 270px,#0006ff 285px,#0000e1 299px,#0000b6 332px,#0000a1)"></i>
<i style="background:linear-gradient(90deg,#0082ff,#05fffa 88px,#63ff9c 138px,#b6ff49 165px,#ffff00 181px,#ff5b00 210px,#ff4400 220px,#ff4300 221px,#ff3900 222px,#ff5100 226px,#ff9400 231px,#fbff04 237px,#46ffb9 247px,#00fcff 252px,#0098ff 261px,#0047ff 272px,#0005ff 287px,#0000c7 317px,#0000a4 366px,#0000a1)"></i>
<i style="background:linear-gradient(90deg,#007fff,#04fffb 90px,#62ff9d 140px,#b4ff4b 167px,#fffc00 184px,#ff5f00 212px,#ff4700 222px,#ff4600 223px,#ff3c00 224px,#ff5400 228px,#ff9800 233px,#fff300 238px,#f8ff07 239px,#44ffbb 249px,#08fff7 253px,#00edff 255px,#008dff 264px,#0040ff 275px,#0001ff 290px,#0000cb 315px,#0000a7 359px,#0000a2)"></i>
<i style="background:linear-gradient(90deg,#007cff,#05fffa 93px,#64ff9b 143px,#b2ff4d 169px,#fffe00 186px,#ff6200 214px,#ff4a00 224px,#ff4a00 225px,#ff3f00 226px,#ff5700 230px,#ff9b00 235px,#fff600 240px,#e2ff1d 242px,#41ffbe 251px,#06fff9 255px,#00d3ff 259px,#007bff 268px,#002fff 280px,#0000fc 293px,#0000cb 317px,#0000a7 362px,#0000a2)"></i>
<i style="background:linear-gradient(90deg,#0079ff,#05fffa 95px,#62ff9d 145px,#b0ff4f 171px,#fffb00 189px,#ff6500 216px,#ff4d00 226px,#ff4d00 227px,#ff4200 228px,#ff5a00 232px,#ff9e00 237px,#fff900 242px,#a6ff59 247px,#12ffed 256px,#00f6ff 258px,#0093ff 267px,#0044ff 278px,#0003ff 293px,#0000c8 321px,#0000a5 368px,#0000a3)"></i>
<i style="background:linear-gradient(90deg,#0076ff,#04fffb 97px,#64ff9b 148px,#b2ff4d 174px,#fffe00 191px,#ff6800 218px,#ff5000 228px,#ff5000 229px,#ff4600 230px,#ff5e00 234px,#ffa100 239px,#fffc00 244px,#3dffc2 255px,#03fffc 259px,#0092ff 269px,#0043ff 280px,#0002ff 295px,#0000c9 322px,#0000a5 368px,#0000a4)"></i>
<i style="background:linear-gradient(90deg,#0073ff,#05fffa 100px,#63ff9c 150px,#b1ff4e 176px,#fffb00 194px,#ff6b00 220px,#ff5400 230px,#ff5400 231px,#ff4900 232px,#ff6100 236px,#ffa400 241px,#fffe00 246px,#3bffc4 257px,#01fffe 261px,#009aff 270px,#0047ff 281px,#0005ff 296px,#0000c6 326px,#0000a4)"></i>
<i style="background:linear-gradient(90deg,#0070ff,#05fffa 102px,#64ff9b 153px,#b3ff4c 179px,#fffd00 196px,#ff6f00 222px,#ff5700 232px,#ff5700 233px,#ff4c00 234px,#ff6400 238px,#ffa700 243px,#fdff02 248px,#49ffb6 258px,#00feff 263px,#0098ff 272px,#0046ff 283px,#0004ff 298px,#0000c7 327px,#0000a5)"></i>
<i style="background:linear-gradient(90deg,#006dff,#04fffb 104px,#62ff9d 155px,#b1ff4e 181px,#fffb00 199px,#ff7200 224px,#ff5b00 234px,#ff5a00 235px,#ff5000 236px,#ff6700 240px,#ffaa00 245px,#fbff04 250px,#47ffb8 260px,#00fdff 265px,#0097ff 274px,#0046ff 285px,#0004ff 300px,#0000c8 328px,#0000a6)"></i>
<i style="background:linear-gradient(90deg,#006aff,#05fffa 107px,#61ff9e 157px,#afff50 183px,#fffe00 201px,#ff7600 226px,#ff5e00 236px,#ff5e00 237px,#ff5300 238px,#ff6a00 242px,#ffac00 247px,#f9ff06 252px,#46ffb9 262px,#00fbff 267px,#0096ff 276px,#0045ff 287px,#0003ff 302px,#0000c9 329px,#0000a6)"></i>
<i style="background:linear-gradient(90deg,#0068ff,#04fffb 109px,#62ff9d 160px,#b0ff4f 186px,#fffb00 204px,#ff7900 228px,#ff6200 238px,#ff6100 239px,#ff5600 240px,#ff6d00 244px,#ffaf00 249px,#fff500 253px,#f7ff08 254px,#35ffca 265px,#00faff 269px,#0095ff 278px,#0044ff 289px,#0003ff 304px,#0000c9 331px,#0000a7)"></i>
<i style="background:linear-gradient(90deg,#0065ff,#04fffb 111px,#61ff9e 162px,#aeff51 188px,#fffe00 206px,#ff7d00 230px,#ff6500 240px,#ff6500 241px,#ff5a00 242px,#ff7000 246px,#ffb100 251px,#fff700 255px,#e2ff1d 257px,#33ffcc 267px,#08fff7 270px,#00ecff 272px,#008bff 281px,#003eff 292px,#0002ff 306px,#0000ca 332px,#0000a8)"></i>
<i style="background:linear-gradient(90deg,#0062ff,#05fffa 114px,#62ff9d 165px,#b0ff4f 191px,#fffc00 209px,#ff8100 232px,#ff6900 242px,#ff6800 243px,#ff5d00 244px,#ff7300 248px,#ffb300 253px,#fff800 257px,#ceff31 260px,#23ffdc 270px,#07fff8 272px,#00d2ff 276px,#007aff 285px,#002dff 297px,#0000fd 309px,#0000cb 333px,#0000a9)"></i>
<i style="background:linear-gradient(90deg,#005fff,#04fffb 116px,#61ff9e 167px,#aeff51 193px,#ffff00 211px,#ff8100 235px,#ff6c00 245px,#ff6100 246px,#ff7600 250px,#ffb500 255px,#fffa00 259px,#22ffdd 272px,#06fff9 274px,#009cff 283px,#0048ff 294px,#0004ff 309px,#0000c6 338px,#0000aa)"></i>
<i style="background:linear-gradient(90deg,#005cff,#05fffa 119px,#62ff9d 170px,#afff50 196px,#fffd00 214px,#ff8500 237px,#ff7000 247px,#ff6400 248px,#ff7800 252px,#ffb700 257px,#fffb00 261px,#21ffde 274px,#05fffa 276px,#0089ff 287px,#003cff 298px,#0001ff 312px,#0000cc 336px,#0000ab)"></i>
<i style="background:linear-gradient(90deg,#0059ff,#04fffb 121px,#60ff9f 172px,#adff52 198px,#fffb00 217px,#ff8900 239px,#ff7300 249px,#ff6800 250px,#ff7b00 254px,#ffb900 259px,#fffd00 263px,#30ffcf 275px,#04fffb 278px,#0089ff 289px,#003bff 300px,#0000ff 314px,#0000cb 338px,#0000ac)"></i>
<i style="background:linear-gradient(90deg,#0056ff,#05fffa 124px,#61ff9e 175px,#aeff51 201px,#fffe00 219px,#ff8d00 241px,#ff7700 251px,#ff6c00 252px,#ff7e00 256px,#ffba00 261px,#fffe00 265px,#2fffd0 277px,#04fffb 280px,#0091ff 290px,#0041ff 301px,#0000ff 316px,#0000cd 339px,#0000ad)"></i>
<i style="background:linear-gradient(90deg,#0053ff,#04fffb 126px,#60ff9f 177px,#acff53 203px,#fffc00 222px,#ff9100 243px,#ff7b00 253px,#ff6f00 254px,#ff8000 258px,#ffbc00 263px,#fffe00 267px,#2fffd0 279px,#03fffc 282px,#0091ff 292px,#0040ff 303px,#0000ff 318px,#0000cc 341px,#0000ae)"></i>
<i style="background:linear-gradient(90deg,#0051ff,#05fffa 129px,#60ff9f 180px,#adff52 206px,#fffa00 225px,#ff9100 246px,#ff7f00 256px,#ff7400 257px,#ff8b00 261px,#ffcc00 266px,#ffff00 269px,#2fffd0 281px,#03fffc 284px,#0091ff 294px,#0040ff 305px,#0003ff 319px,#0000c9 345px,#0000af)"></i>
<i style="background:linear-gradient(90deg,#004eff,#04fffb 131px,#61ff9e 183px,#aeff51 209px,#fffe00 227px,#ff9500 248px,#ff8200 258px,#ff7700 259px,#ff8e00 263px,#ffcd00 268px,#feff01 271px,#2fffd0 283px,#03fffc 286px,#0090ff 296px,#0040ff 307px,#0002ff 321px,#0000c9 347px,#0000b0)"></i>
<i style="background:linear-gradient(90deg,#004bff,#05fffa 134px,#5fffa0 185px,#abff54 211px,#fffd00 230px,#ff9a00 250px,#ff8600 260px,#ff7b00 261px,#ff9000 265px,#ffce00 270px,#feff01 273px,#2fffd0 285px,#04fffb 288px,#0090ff 298px,#0040ff 309px,#0002ff 323px,#0000c9 349px,#0000b1)"></i>
<i style="background:linear-gradient(90deg,#0048ff,#04fffb 136px,#60ff9f 188px,#acff53 214px,#fffb00 233px,#ff9b00 253px,#ff8a00 262px,#ff7f00 263px,#ff9200 267px,#ffcf00 272px,#feff01 275px,#30ffcf 287px,#04fffb 290px,#0091ff 300px,#0040ff 311px,#0002ff 325px,#0000ca 350px,#0000b3)"></i>
<i style="background:linear-gradient(90deg,#0045ff,#05fffa 139px,#61ff9e 191px,#adff52 217px,#fffa00 236px,#ff9f00 255px,#ff8e00 264px,#ff8200 265px,#ff9400 269px,#ffcf00 274px,#feff01 277px,#21ffde 290px,#04fffb 292px,#0088ff 303px,#003aff 314px,#0000fe 328px,#0000cb 351px,#0000b4)"></i>
<i style="background:linear-gradient(90deg,#0042ff,#04fffb 141px,#5fffa0 193px,#abff54 219px,#fffe00 238px,#ffa300 257px,#ff9200 266px,#ff8600 267px,#ff9600 271px,#ffd000 276px,#feff01 279px,#22ffdd 292px,#05fffa 294px,#0088ff 305px,#003aff 316px,#0000fd 330px,#0000cb 353px,#0000b6)"></i>
<i style="background:linear-gradient(90deg,#003fff,#05fffa 144px,#5fffa0 196px,#abff54 222px,#fffd00 241px,#ffa500 260px,#ff9500 269px,#ff8a00 270px,#ffa000 274px,#ffdf00 279px,#ffff00 281px,#23ffdc 294px,#06fff9 296px,#00c5ff 301px,#0068ff 311px,#0021ff 323px,#0000fa 333px,#0000ca 356px,#0000b7)"></i>
<i style="background:linear-gradient(90deg,#003dff,#04fffb 146px,#5effa1 198px,#a8ff57 224px,#fffc00 244px,#ffa900 262px,#ff9900 271px,#ff8e00 272px,#ffa200 276px,#ffdf00 281px,#ffff00 283px,#24ffdb 296px,#00f8ff 299px,#0092ff 308px,#0040ff 319px,#0002ff 333px,#0000c9 358px,#0000b9)"></i>
<i style="background:linear-gradient(90deg,#003aff,#04fffb 149px,#5effa1 201px,#a9ff56 227px,#fffc00 247px,#ffab00 265px,#ff9d00 273px,#ff9200 274px,#ffa300 278px,#ffde00 283px,#fffe00 285px,#17ffe8 299px,#00faff 301px,#0093ff 310px,#0040ff 321px,#0002ff 335px,#0000c9 360px,#0000bb)"></i>
<i style="background:linear-gradient(90deg,#0037ff,#05fffa 152px,#5effa1 204px,#aaff55 230px,#fffb00 250px,#ffaf00 267px,#ffa100 275px,#ff9500 276px,#ffa500 280px,#ffde00 285px,#fffd00 287px,#18ffe7 301px,#00fbff 303px,#0094ff 312px,#0041ff 323px,#0002ff 337px,#0000c9 362px,#0000bd)"></i>
<i style="background:linear-gradient(90deg,#0034ff,#04fffb 154px,#5fffa0 207px,#aaff55 233px,#fffb00 253px,#ffb100 270px,#ffa500 278px,#ff9a00 279px,#ffaf00 283px,#ffec00 288px,#fffb00 289px,#0cfff3 304px,#00fdff 305px,#0095ff 314px,#0041ff 325px,#0002ff 339px,#0000c9 364px,#0000bf)"></i>
<i style="background:linear-gradient(90deg,#0031ff,#04fffb 157px,#5fffa0 210px,#aaff55 236px,#fffa00 256px,#ffb600 272px,#ffa900 280px,#ff9d00 281px,#ffb000 285px,#ffeb00 290px,#fffa00 291px,#b0ff4f 296px,#0efff1 306px,#00ffff 307px,#0096ff 316px,#0042ff 327px,#0002ff 341px,#0000c9 366px,#0000c1)"></i>
<i style="background:linear-gradient(90deg,#002eff,#05fffa 160px,#5fffa0 213px,#abff54 239px,#fffa00 259px,#ffb700 275px,#ffad00 282px,#ffa100 283px,#ffb100 287px,#ffea00 292px,#f6ff09 294px,#10ffef 308px,#02fffd 309px,#008eff 319px,#003dff 330px,#0000fe 344px,#0000cc 366px,#0000c4)"></i>
<i style="background:linear-gradient(90deg,#002cff,#05fffa 163px,#5dffa2 215px,#a7ff58 241px,#fffa00 262px,#ffba00 278px,#ffb000 285px,#ffa500 286px,#ffba00 290px,#fff700 295px,#e8ff17 297px,#12ffed 310px,#00f6ff 312px,#008fff 321px,#003dff 332px,#0000fe 346px,#0000cc 368px,#0000c6)"></i>
<i style="background:linear-gradient(90deg,#0029ff,#00fdff 161px,#55ffaa 214px,#9dff62 241px,#fffb00 265px,#ffbe00 280px,#ffb400 287px,#ffa900 288px,#ffbb00 292px,#faff05 298px,#07fff8 313px,#00deff 316px,#007fff 325px,#0033ff 336px,#0000ff 348px,#0000cc 370px,#0000c9)"></i>
<i style="background:linear-gradient(90deg,#0026ff,#00f7ff 159px,#0cfff3 173px,#62ff9d 223px,#abff54 248px,#fffb00 268px,#ffc100 283px,#ffb800 290px,#ffae00 291px,#ffc400 295px,#fcff03 300px,#0afff5 315px,#00edff 317px,#0089ff 326px,#0039ff 337px,#0000ff 350px,#0000cc)"></i>
<i style="background:linear-gradient(90deg,#0023ff,#00edff 155px,#06fff9 172px,#5dffa2 224px,#a7ff58 250px,#fffb00 271px,#ffc300 286px,#ffbc00 292px,#ffb100 293px,#ffc400 297px,#feff01 302px,#0dfff2 317px,#00feff 318px,#0095ff 327px,#0046ff 337px,#0004ff 351px,#0000d0)"></i>
<i style="background:linear-gradient(90deg,#0020ff,#00e4ff 151px,#05fffa 174px,#5dffa2 227px,#a7ff58 253px,#fffc00 274px,#ffc800 288px,#ffc000 294px,#ffb400 295px,#ffc500 299px,#fffd00 304px,#02fffd 320px,#008dff 330px,#003bff 341px,#0001ff 354px,#0000d3)"></i>
<i style="background:linear-gradient(90deg,#001eff,#00dbff 147px,#05fffa 177px,#5dffa2 230px,#a7ff58 256px,#fffd00 277px,#ffca00 291px,#ffc400 297px,#ffb900 298px,#ffcd00 302px,#fffb00 306px,#b6ff49 311px,#06fff9 322px,#00b9ff 328px,#005dff 338px,#0019ff 350px,#0000fa 358px,#0000d7)"></i>
<i style="background:linear-gradient(90deg,#001bff,#00d0ff 142px,#05fffa 180px,#5dffa2 233px,#a6ff59 259px,#fffe00 280px,#ffcd00 294px,#ffc800 299px,#ffbc00 300px,#ffcd00 304px,#fff800 308px,#eaff15 310px,#0afff5 324px,#00edff 326px,#0089ff 335px,#0038ff 346px,#0000fe 359px,#0000db)"></i>
<i style="background:linear-gradient(90deg,#0018ff,#00c7ff 138px,#04fffb 182px,#5cffa3 236px,#a6ff59 262px,#fffb00 284px,#ffd000 297px,#ffcb00 302px,#ffc000 303px,#ffd500 307px,#fcff03 311px,#00ffff 327px,#0095ff 336px,#0046ff 346px,#0003ff 360px,#0000e0)"></i>
<i style="background:linear-gradient(90deg,#0015ff,#00beff 134px,#04fffb 185px,#5cffa3 239px,#a5ff5a 265px,#fffc00 287px,#ffd300 300px,#ffcf00 304px,#ffc400 305px,#ffd400 309px,#fffe00 313px,#05fffa 329px,#0085ff 340px,#0036ff 351px,#0000ff 363px,#0000e5)"></i>
<i style="background:linear-gradient(90deg,#0012ff,#00b5ff 130px,#04fffb 188px,#5bffa4 242px,#a4ff5b 268px,#fffa00 291px,#ffd500 304px,#ffd300 307px,#ffc800 308px,#ffdb00 312px,#fffb00 315px,#caff35 319px,#0bfff4 331px,#00fcff 332px,#0092ff 341px,#0043ff 351px,#0001ff 365px,#0000eb)"></i>
<i style="background:linear-gradient(90deg,#000fff,#00adff 127px,#04fffb 191px,#5bffa4 245px,#a3ff5c 271px,#fffc00 294px,#ffd900 307px,#ffd700 310px,#ffcc00 311px,#ffe200 315px,#fbff04 318px,#03fffc 334px,#008dff 344px,#003aff 355px,#0000fe 368px,#0000f1)"></i>
<i style="background:linear-gradient(90deg,#000dff,#00a5ff 124px,#04fffb 194px,#5affa5 248px,#a2ff5d 274px,#fffb00 298px,#ffdc00 310px,#ffdb00 312px,#ffd000 313px,#ffe100 317px,#fffe00 320px,#87ff78 328px,#0afff5 336px,#00edff 338px,#0087ff 347px,#0036ff 358px,#0000ff 370px,#0000f8)"></i>
<i style="background:linear-gradient(90deg,#000aff,#009dff 121px,#04fffb 197px,#5bffa4 252px,#a4ff5b 278px,#fffd00 301px,#ffe000 313px,#ffdf00 315px,#ffd400 316px,#ffe700 320px,#f8ff07 323px,#5effa1 333px,#02fffd 339px,#008cff 349px,#003fff 359px,#0001ff)"></i>
<i style="background:linear-gradient(90deg,#0007ff,#0095ff 118px,#05fffa 201px,#5bffa4 255px,#a2ff5d 281px,#fffc00 305px,#ffe300 317px,#ffe300 318px,#ffd800 319px,#ffed00 323px,#fdff02 325px,#87ff78 333px,#0afff5 341px,#00edff 343px,#0087ff 352px,#0035ff 363px,#000aff)"></i>
<i style="background:linear-gradient(90deg,#0004ff,#008fff 116px,#05fffa 204px,#5affa5 258px,#a1ff5e 284px,#fffc00 309px,#ffe700 320px,#ffdb00 321px,#ffeb00 325px,#fffd00 327px,#c0ff3f 332px,#04fffb 344px,#008cff 354px,#003eff 364px,#0015ff)"></i>
<i style="background:linear-gradient(90deg,#0001ff,#0088ff 114px,#05fffa 207px,#5bffa4 262px,#a2ff5d 288px,#fffc00 313px,#ffeb00 323px,#ffdf00 324px,#fff000 328px,#fbff04 330px,#99ff66 337px,#00fdff 347px,#0091ff 356px,#0041ff 366px,#0020ff)"></i>
<i style="background:linear-gradient(90deg,#0000fd,#006eff 97px,#04fffb 210px,#59ffa6 265px,#a0ff5f 291px,#fffd00 317px,#ffef00 326px,#ffe400 327px,#fff600 331px,#f5ff0a 333px,#93ff6c 340px,#06fff9 349px,#00b7ff 355px,#0061ff 364px,#002dff)"></i>
<i style="background:linear-gradient(90deg,#0000fa,#0041ff 64px,#04fffb 213px,#5affa5 269px,#a2ff5d 295px,#feff01 320px,#fff300 329px,#ffe800 330px,#faff05 335px,#acff53 341px,#01fffe 352px,#0093ff 361px,#0042ff 371px,#003cff)"></i>
<i style="background:linear-gradient(90deg,#0000f8,#000eff 22px,#00b1ff 154px,#05fffa 217px,#59ffa6 272px,#9fff60 298px,#ffff00 325px,#fff700 332px,#ffec00 333px,#feff01 337px,#b5ff4a 343px,#0afff5 354px,#00edff 356px,#0085ff 365px,#004cff)"></i>
<i style="background:linear-gradient(90deg,#0000f5,#0009ff 20px,#00a0ff 144px,#04fffb 220px,#5affa5 276px,#a1ff5e 302px,#fbff04 328px,#fffb00 335px,#fff000 336px,#f9ff06 340px,#afff50 346px,#04fffb 357px,#0082ff 368px,#005fff)"></i>
<i style="background:linear-gradient(90deg,#0000f2,#0008ff 22px,#009fff 146px,#05fffa 224px,#59ffa6 279px,#9eff61 305px,#f8ff07 331px,#ffff00 338px,#fff500 339px,#fcff03 342px,#c6ff39 347px,#00ffff 360px,#0091ff 369px,#0075ff)"></i>
<i style="background:linear-gradient(90deg,#0000ef,#0007ff 24px,#009cff 147px,#05fffa 227px,#59ffa6 283px,#9fff60 309px,#f4ff0b 334px,#fbff04 340px,#fff900 342px,#f7ff08 345px,#c1ff3e 350px,#09fff6 362px,#00ecff 364px,#008eff)"></i>
<i style="background:linear-gradient(90deg,#0000ed,#0006ff 26px,#0099ff 148px,#04fffb 230px,#58ffa7 286px,#9dff62 312px,#f0ff0f 337px,#f7ff08 343px,#fffd00 345px,#eaff15 349px,#9fff60 355px,#04fffb 365px,#00aaff)"></i>
<i style="background:linear-gradient(90deg,#0000ea,#0006ff 29px,#009aff 152px,#04fffb 233px,#58ffa7 290px,#9eff61 316px,#ecff13 340px,#f2ff0d 346px,#feff01 347px,#eeff11 351px,#b7ff48 356px,#00ffff 368px,#00c9ff)"></i>
<i style="background:linear-gradient(90deg,#0000e7,#0006ff 32px,#009aff 155px,#05fffa 237px,#59ffa6 294px,#9eff61 320px,#e8ff17 343px,#eeff11 349px,#faff05 350px,#e9ff16 354px,#b2ff4d 359px,#0afff5 370px,#00ecff)"></i>
<i style="background:linear-gradient(90deg,#0000e5,#0005ff 34px,#0097ff 156px,#04fffb 240px,#57ffa8 297px,#9fff60 324px,#e4ff1b 346px,#eaff15 352px,#f6ff09 353px,#e4ff1b 357px,#acff53 362px,#14ffeb)"></i>
<i style="background:linear-gradient(90deg,#0000e2,#0005ff 37px,#0099ff 160px,#05fffa 244px,#58ffa7 301px,#a0ff5f 328px,#e0ff1f 349px,#e6ff19 355px,#f1ff0e 356px,#dfff20 360px,#99ff66 366px,#3cffc3)"></i>
<i style="background:linear-gradient(90deg,#0000e0,#0005ff 40px,#0099ff 163px,#05fffa 247px,#56ffa9 304px,#9dff62 331px,#dcff23 352px,#e2ff1d 358px,#edff12 359px,#dbff24 363px,#94ff6b 369px,#66ff99)"></i>
<i style="background:linear-gradient(90deg,#0000dd,#0005ff 43px,#009aff 167px,#04fffb 250px,#57ffa8 308px,#9dff62 335px,#d8ff27 355px,#deff21 361px,#e9ff16 362px,#d6ff29 366px,#8eff71)"></i>
<i style="background:linear-gradient(90deg,#0000db,#0005ff 46px,#009aff 170px,#05fffa 254px,#57ffa8 312px,#9eff61 339px,#d6ff29 359px,#d9ff26 364px,#e5ff1a 365px,#d1ff2e 369px,#b1ff4e)"></i>
<i style="background:linear-gradient(90deg,#0000d9,#0005ff 49px,#009bff 174px,#05fffa 257px,#56ffa9 315px,#9eff61 343px,#d2ff2d 362px,#d5ff2a 367px,#e0ff1f 368px,#ccff33)"></i>
<i style="background:linear-gradient(90deg,#0000d6,#0005ff 52px,#009cff 178px,#04fffb 260px,#56ffa9 319px,#9eff61 347px,#ceff31 365px,#d1ff2e 370px,#dcff23 371px,#d9ff26)"></i>
</div>
<div class="hm" style="left:1230px;top:470px;width:379px;height:352px">
<i style="background:linear-gradient(90deg,#ff1c00,#ff4300 5px,#ff5a00 15px,#ff5600 292px,#ff5300)"></i>
<i style="background:linear-gradient(90deg,#ff1e00,#ff4300 5px,#ff5a00 15px,#ff5400 367px,#ff5300)"></i>
<i style="background:linear-gradient(90deg,#ff2000,#ff4900 6px,#ff5d00 18px,#ff5300)"></i>
<i style="background:linear-gradient(90deg,#ff2200,#ff4900 6px,#ff5d00 18px,#ff5300)"></i>
<i style="background:linear-gradient(90deg,#ff2400,#ff4a00 6px,#ff5d00 19px,#ff5300)"></i>
<i style="background:linear-gradient(90deg,#ff2600,#ff4b00 6px,#ff5d00 19px,#ff5300)"></i>
<i style="background:linear-gradient(90deg,#ff2800,#ff4b00 6px,#ff5e00 20px,#ff5300)"></i>
<i style="background:linear-gradient(90deg,#ff2a00,#ff4c00 6px,#ff6000 21px,#ff5200)"></i>
<i style="background:linear-gradient(90deg,#ff2c00,#ff5000 7px,#ff6100 21px,#ff5200)"></i>
<i style="background:linear-gradient(90deg,#ff2e00,#ff5000 6px,#ff6100 19px,#ff5200)"></i>
<i style="background:linear-gradient(90deg,#ff3300,#ff5600 7px,#ff6300 23px,#ff5200)"></i>
<i style="background:linear-gradient(90deg,#ff3700,#ff5800 7px,#ff6400 24px,#ff5200)"></i>
<i style="background:linear-gradient(90deg,#ff3c00,#ff5b00 7px,#ff6500 25px,#ff5200)"></i>
<i style="background:linear-gradient(90deg,#ff4000,#ff5e00 7px,#ff6500 26px,#ff5100)"></i>
<i style="background:linear-gradient(90deg,#ff4500,#ff6100 7px,#ff6600 27px,#ff5100)"></i>
<i style="background:linear-gradient(90deg,#ff4900,#ff6500 8px,#ff6200 42px,#ff5100)"></i>
<i style="background:linear-gradient(90deg,#ff4e00,#ff6800 8px,#ff5400 296px,#ff5100)"></i>
<i style="background:linear-gradient(90deg,#ff5200,#ff6a00 8px,#ff5a00 158px,#ff5100)"></i>
<i style="background:linear-gradient(90deg,#ff5700,#ff6d00 8px,#ff5c00 115px,#ff5100)"></i>
<i style="background:linear-gradient(90deg,#ff5c00,#ff7000 8px,#ff5d00 93px,#ff5100)"></i>
<i style="background:linear-gradient(90deg,#ff6000,#ff7300 9px,#ff5e00 76px,#ff5000)"></i>
<i style="background:linear-gradient(90deg,#ff6500,#ff7600 9px,#ff5f00 69px,#ff5000)"></i>
<i style="background:linear-gradient(90deg,#ff6900,#ff7800 9px,#ff6000 63px,#ff5000)"></i>
<i style="background:linear-gradient(90deg,#ff6e00,#ff7b00 10px,#ff6100 57px,#ff5000)"></i>
<i style="background:linear-gradient(90deg,#ff7300,#ff7d00 10px,#ff6200 54px,#ff5000)"></i>
<i style="background:linear-gradient(90deg,#ff7700,#ff8000 10px,#ff6200 51px,#ff5000)"></i>
<i style="background:linear-gradient(90deg,#ff7c00,#ff8100 11px,#ff6300 49px,#ff4f00)"></i>
<i style="background:linear-gradient(90deg,#ff8100,#ff8400 11px,#ff6500 46px,#ff4f00)"></i>
<i style="background:linear-gradient(90deg,#ff8500,#ff8500 12px,#ff6500 45px,#ff5000 349px,#ff4f00)"></i>
<i style="background:linear-gradient(90deg,#ff8a00,#ff8600 13px,#ff6600 44px,#ff5500 253px,#ff4f00)"></i>
<i style="background:linear-gradient(90deg,#ff8e00,#ff8800 13px,#ff6700 43px,#ff5700 203px,#ff4f00)"></i>
<i style="background:linear-gradient(90deg,#ff9300,#ff8900 14px,#ff6700 43px,#ff5800 187px,#ff4f00)"></i>
<i style="background:linear-gradient(90deg,#ff9800,#ff8700 16px,#ff6700 43px,#ff5800 174px,#ff4e00)"></i>
<i style="background:linear-gradient(90deg,#ff9c00,#ff8700 17px,#ff6800 43px,#ff5900 163px,#ff4e00)"></i>
<i style="background:linear-gradient(90deg,#ffa100,#ff8300 20px,#ff6600 47px,#ff5500 239px,#ff4e00)"></i>
<i style="background:linear-gradient(90deg,#ffa500,#ff6b00 39px,#ff5c00 109px,#ff4e00)"></i>
<i style="background:linear-gradient(90deg,#ffa700,#ff8600 20px,#ff6700 45px,#ff5800 168px,#ff4e00)"></i>
<i style="background:linear-gradient(90deg,#ffaa00,#ff8900 19px,#ff6900 43px,#ff5a00 136px,#ff4e00)"></i>
<i style="background:linear-gradient(90deg,#ffad00,#ff8d00 18px,#ff6b00 41px,#ff5b00 114px,#ff4e00)"></i>
<i style="background:linear-gradient(90deg,#ffaf00,#ff9100 17px,#ff6c00 40px,#ff5c00 104px,#ff4d00)"></i>
<i style="background:linear-gradient(90deg,#ffb200,#ff9500 16px,#ff6e00 38px,#ff5d00 90px,#ff4d00)"></i>
<i style="background:linear-gradient(90deg,#ffb500,#ff9700 16px,#ff6f00 38px,#ff5d00 88px,#ff4d00)"></i>
<i style="background:linear-gradient(90deg,#ffb700,#ff9b00 15px,#ff7000 37px,#ff5e00 83px,#ff4d00)"></i>
<i style="background:linear-gradient(90deg,#ffba00,#ff9d00 15px,#ff7200 36px,#ff5f00 78px,#ff4d00)"></i>
<i style="background:linear-gradient(90deg,#ffbd00,#ffa100 14px,#ff7400 35px,#ff5f00 73px,#ff4d00)"></i>
<i style="background:linear-gradient(90deg,#ffbf00,#ffa300 14px,#ff7400 35px,#ff6000 72px,#ff4c00)"></i>
<i style="background:linear-gradient(90deg,#ffc200,#ffa500 14px,#ff7500 35px,#ff6000 71px,#ff4c00)"></i>
<i style="background:linear-gradient(90deg,#ffc500,#ffaa00 13px,#ff7700 34px,#ff6100 67px,#ff4c00)"></i>
<i style="background:linear-gradient(90deg,#ffc800,#ffac00 13px,#ff7900 33px,#ff6200 64px,#ff4c00)"></i>
<i style="background:linear-gradient(90deg,#ffca00,#ffae00 13px,#ff7a00 33px,#ff6200 63px,#ff4c00)"></i>
<i style="background:linear-gradient(90deg,#ffcd00,#ffb300 12px,#ff7c00 32px,#ff6300 60px,#ff4c00)"></i>
<i style="background:linear-gradient(90deg,#ffd000,#ffb500 12px,#ff7d00 32px,#ff6300 60px,#ff4b00)"></i>
<i style="background:linear-gradient(90deg,#ffd200,#ffb700 12px,#ff7d00 32px,#ff6400 59px,#ff4b00)"></i>
<i style="background:linear-gradient(90deg,#ffd500,#ffb900 12px,#ff7e00 32px,#ff6400 59px,#ff4b00)"></i>
<i style="background:linear-gradient(90deg,#ffd800,#ffbc00 12px,#ff7f00 32px,#ff6500 58px,#ff4f00 302px,#ff4b00)"></i>
<i style="background:linear-gradient(90deg,#ffda00,#ffc100 11px,#ff8100 31px,#ff6600 56px,#ff5400 218px,#ff4b00)"></i>
<i style="background:linear-gradient(90deg,#ffdd00,#ffc300 11px,#ff8200 31px,#ff6600 55px,#ff5700 184px,#ff4b00)"></i>
<i style="background:linear-gradient(90deg,#ffe000,#ffc500 11px,#ff8300 31px,#ff6600 55px,#ff5700 176px,#ff4b00)"></i>
<i style="background:linear-gradient(90deg,#ffe200,#ffc800 11px,#ff8400 31px,#ff6700 54px,#ff5700 163px,#ff4a00)"></i>
<i style="background:linear-gradient(90deg,#ffe500,#ffca00 11px,#ff8700 30px,#ff6900 52px,#ff5800 142px,#ff4a00)"></i>
<i style="background:linear-gradient(90deg,#ffeb00,#ffd200 10px,#ff8900 30px,#ff6900 52px,#ff5900 135px,#ff4a00)"></i>
<i style="background:linear-gradient(90deg,#fff300,#ffda00 10px,#ff8c00 30px,#ff6b00 51px,#ff5a00 121px,#ff4a00)"></i>
<i style="background:linear-gradient(90deg,#fffc00,#ffe100 10px,#ff9200 29px,#ff6f00 48px,#ff5c00 100px,#ff4a00)"></i>
<i style="background:linear-gradient(90deg,#faff05,#fff800 6px,#ff9200 30px,#ff6f00 49px,#ff5c00 101px,#ff4a00)"></i>
<i style="background:linear-gradient(90deg,#f1ff0e,#fff900 8px,#ff9800 29px,#ff7200 47px,#ff5e00 90px,#ff4900)"></i>
<i style="background:linear-gradient(90deg,#e9ff16,#fffc00 9px,#ff9b00 29px,#ff7500 46px,#ff5f00 84px,#ff4900)"></i>
<i style="background:linear-gradient(90deg,#e0ff1f,#fbff04 9px,#ff9b00 30px,#ff7500 47px,#ff5f00 86px,#ff4900)"></i>
<i style="background:linear-gradient(90deg,#d7ff28,#eeff11 8px,#fffb00 12px,#ffa200 29px,#ff7900 45px,#ff6100 78px,#ff4900)"></i>
<i style="background:linear-gradient(90deg,#cfff30,#e6ff19 8px,#fffc00 13px,#ffa600 29px,#ff7b00 45px,#ff6200 77px,#ff4900)"></i>
<i style="background:linear-gradient(90deg,#c6ff39,#deff21 8px,#fffc00 14px,#ffa900 29px,#ff7e00 44px,#ff6400 73px,#ff4d00 313px,#ff4900)"></i>
<i style="background:linear-gradient(90deg,#beff41,#d6ff29 8px,#fffd00 15px,#ffad00 29px,#ff8000 44px,#ff6500 72px,#ff5000 257px,#ff4900)"></i>
<i style="background:linear-gradient(90deg,#b5ff4a,#cfff30 8px,#fffc00 16px,#ffac00 30px,#ff7e00 46px,#ff6400 76px,#ff4b00 330px,#ff4800)"></i>
<i style="background:linear-gradient(90deg,#acff53,#c1ff3e 7px,#fffc00 17px,#ffaf00 30px,#ff8100 45px,#ff6600 72px,#ff5300 217px,#ff4800)"></i>
<i style="background:linear-gradient(90deg,#a4ff5b,#b9ff46 7px,#fffb00 18px,#ffae00 31px,#ff8100 46px,#ff6500 74px,#ff5200 235px,#ff4800)"></i>
<i style="background:linear-gradient(90deg,#9bff64,#b1ff4e 7px,#fdff02 18px,#ffad00 32px,#ff8100 47px,#ff6500 76px,#ff5000 250px,#ff4800)"></i>
<i style="background:linear-gradient(90deg,#93ff6c,#a9ff56 7px,#ffff00 19px,#ffb100 32px,#ff8300 47px,#ff6600 74px,#ff5400 207px,#ff4800)"></i>
<i style="background:linear-gradient(90deg,#8aff75,#a0ff5f 7px,#fffe00 20px,#ffb400 32px,#ff8600 46px,#ff6900 71px,#ff5700 165px,#ff4800)"></i>
<i style="background:linear-gradient(90deg,#81ff7e,#98ff67 7px,#fffc00 21px,#ffb300 33px,#ff8400 48px,#ff6700 75px,#ff5400 203px,#ff4700)"></i>
<i style="background:linear-gradient(90deg,#79ff86,#90ff6f 7px,#fffb00 22px,#ffb200 34px,#ff8400 49px,#ff6700 77px,#ff5200 227px,#ff4700)"></i>
<i style="background:linear-gradient(90deg,#70ff8f,#87ff78 7px,#feff01 22px,#ffb600 34px,#ff8800 48px,#ff6a00 73px,#ff5600 174px,#ff4700)"></i>
<i style="background:linear-gradient(90deg,#68ff97,#7fff80 7px,#fffe00 23px,#ffb900 34px,#ff8a00 48px,#ff6a00 73px,#ff5600 173px,#ff4700)"></i>
<i style="background:linear-gradient(90deg,#5fffa0,#70ff8f 6px,#c7ff38 17px,#fffc00 24px,#ffb300 36px,#ff8500 51px,#ff6800 80px,#ff4f00 261px,#ff4700)"></i>
<i style="background:linear-gradient(90deg,#57ffa8,#68ff97 6px,#b7ff48 16px,#fdff02 24px,#ffb200 37px,#ff8400 53px,#ff6700 83px,#ff4f00 261px,#ff4700)"></i>
<i style="background:linear-gradient(90deg,#4effb1,#5fffa0 6px,#afff50 16px,#feff01 25px,#ffb700 37px,#ff8800 52px,#ff6a00 80px,#ff5200 225px,#ff4600)"></i>
<i style="background:linear-gradient(90deg,#45ffba,#56ffa9 6px,#9dff62 15px,#ffff00 26px,#ffbb00 37px,#ff8a00 52px,#ff6c00 78px,#ff5300 204px,#ff4600)"></i>
<i style="background:linear-gradient(90deg,#3cffc3,#4bffb4 6px,#93ff6c 15px,#fffe00 27px,#ffb600 39px,#ff8800 54px,#ff6a00 82px,#ff5300 209px,#ff4600)"></i>
<i style="background:linear-gradient(90deg,#30ffcf,#40ffbf 6px,#7fff80 14px,#f9ff06 27px,#ffcf00 35px,#ff9a00 48px,#ff7500 69px,#ff5c00 133px,#ff4600)"></i>
<i style="background:linear-gradient(90deg,#25ffda,#35ffca 6px,#75ff8a 14px,#fbff04 28px,#ffb100 42px,#ff8600 58px,#ff6a00 88px,#ff5300 199px,#ff4600)"></i>
<i style="background:linear-gradient(90deg,#1affe5,#29ffd6 6px,#6bff94 14px,#f3ff0c 28px,#fff400 31px,#ffb200 43px,#ff8700 59px,#ff6a00 90px,#ff5400 197px,#ff4600)"></i>
<i style="background:linear-gradient(90deg,#0ffff0,#1effe1 6px,#56ffa9 13px,#ecff13 28px,#fffa00 31px,#ffb600 43px,#ff8900 59px,#ff6b00 91px,#ff5400 190px,#ff4600)"></i>
<i style="background:linear-gradient(90deg,#04fffb,#12ffed 6px,#4bffb4 13px,#e5ff1a 28px,#feff01 31px,#ffba00 43px,#ff8b00 59px,#ff6c00 90px,#ff5500 179px,#ff4500)"></i>
<i style="background:linear-gradient(90deg,#00f8ff,#06fff9 6px,#40ffbf 13px,#ddff22 28px,#feff01 32px,#ffba00 44px,#ff8c00 60px,#ff6e00 89px,#ff5600 170px,#ff4500)"></i>
<i style="background:linear-gradient(90deg,#00edff,#00f5ff 5px,#07fff8 8px,#60ff9f 17px,#deff21 29px,#ffff00 33px,#ffbe00 44px,#ff9100 59px,#ff7000 86px,#ff5800 160px,#ff4500)"></i>
<i style="background:linear-gradient(90deg,#00e2ff,#00e9ff 5px,#03fffc 9px,#99ff66 23px,#f9ff06 33px,#fff000 36px,#ffb300 48px,#ff8400 67px,#ff6400 110px,#ff4d00 270px,#ff4500)"></i>
<i style="background:linear-gradient(90deg,#00d7ff,#00ddff 5px,#00ffff 10px,#d8ff27 30px,#fffd00 35px,#ffbf00 46px,#ff8d00 63px,#ff7200 88px,#ff5a00 146px,#ff4500)"></i>
<i style="background:linear-gradient(90deg,#00ccff,#00d1ff 5px,#00fcff 11px,#6fff90 21px,#e1ff1e 32px,#fffd00 36px,#ffbf00 47px,#ff8f00 63px,#ff6d00 94px,#ff5700 166px,#ff4500)"></i>
<i style="background:linear-gradient(90deg,#00c1ff,#00c6ff 5px,#00f0ff 11px,#06fff9 13px,#beff41 29px,#fffc00 37px,#ffb600 50px,#ff8b00 66px,#ff6400 110px,#ff4e00 256px,#ff4400)"></i>
<i style="background:linear-gradient(90deg,#00b6ff,#00baff 5px,#00e4ff 11px,#04fffb 14px,#b4ff4b 29px,#fbff04 37px,#ffb500 51px,#ff8900 68px,#ff6400 110px,#ff4e00 250px,#ff4400)"></i>
<i style="background:linear-gradient(90deg,#00acff,#00aeff 5px,#00d8ff 11px,#04fffb 15px,#b6ff49 30px,#fdff02 38px,#ffb800 51px,#ff8b00 68px,#ff6600 107px,#ff5000 227px,#ff4400)"></i>
<i style="background:linear-gradient(90deg,#00a1ff,#00a2ff 5px,#00cbff 11px,#04fffb 16px,#b8ff47 31px,#fffe00 39px,#ffbf00 50px,#ff9000 66px,#ff6800 103px,#ff5200 202px,#ff4400)"></i>
<i style="background:linear-gradient(90deg,#0097ff,#0096ff 5px,#00bfff 11px,#05fffa 17px,#bdff42 32px,#fcff03 39px,#ffb500 53px,#ff8c00 70px,#ff6800 104px,#ff5200 205px,#ff4400)"></i>
<i style="background:linear-gradient(90deg,#008cff,#008aff 5px,#00a9ff 10px,#04fffb 18px,#adff52 31px,#ffff00 40px,#ffc000 51px,#ff9200 67px,#ff6a00 100px,#ff5400 185px,#ff4400)"></i>
<i style="background:linear-gradient(90deg,#0082ff,#007fff 5px,#009cff 10px,#00ecff 17px,#09fff6 19px,#a7ff58 31px,#faff05 40px,#ffb800 54px,#ff8e00 71px,#ff6b00 100px,#ff5400 183px,#ff4400)"></i>
<i style="background:linear-gradient(90deg,#0078ff,#0073ff 5px,#008fff 10px,#00f2ff 18px,#01fffe 19px,#a1ff5e 31px,#fdff02 41px,#ffbb00 54px,#ff9000 71px,#ff6d00 97px,#ff5600 170px,#ff4300)"></i>
<i style="background:linear-gradient(90deg,#006eff,#0065ff 4px,#007eff 9px,#00ceff 16px,#00f8ff 19px,#24ffdb 22px,#a5ff5a 32px,#f8ff07 41px,#ffea00 45px,#ffb000 58px,#ff7900 85px,#ff5d00 134px,#ff4300)"></i>
<i style="background:linear-gradient(90deg,#0064ff,#005dff 4px,#0077ff 9px,#00c5ff 16px,#00feff 20px,#9fff60 32px,#fbff04 42px,#ffb900 56px,#ff7f00 81px,#ff6100 121px,#ff4700 334px,#ff4300)"></i>
<i style="background:linear-gradient(90deg,#005fff,#0057ff 4px,#006fff 9px,#00bdff 16px,#05fffa 21px,#98ff67 32px,#f6ff09 42px,#ffed00 46px,#ffb300 59px,#ff7e00 82px,#ff6000 124px,#ff4300 373px,#ff4300)"></i>
<i style="background:linear-gradient(90deg,#005aff,#0050ff 4px,#0067ff 9px,#00a7ff 15px,#00fbff 21px,#9cff63 33px,#f8ff07 43px,#fff200 46px,#ffb900 58px,#ff8200 80px,#ff6300 118px,#ff4a00 285px,#ff4300)"></i>
<i style="background:linear-gradient(90deg,#0055ff,#004aff 4px,#005fff 9px,#009eff 15px,#02fffd 22px,#95ff6a 33px,#ebff14 42px,#fff600 46px,#ffbd00 58px,#ff8600 78px,#ff6600 112px,#ff4f00 230px,#ff4300)"></i>
<i style="background:linear-gradient(90deg,#0051ff,#0044ff 4px,#0058ff 9px,#0096ff 15px,#00f9ff 22px,#33ffcc 26px,#afff50 36px,#fcff03 45px,#ffbd00 59px,#ff8a00 76px,#ff6a00 106px,#ff5300 193px,#ff4200)"></i>
<i style="background:linear-gradient(90deg,#004cff,#003eff 4px,#0050ff 9px,#008dff 15px,#00feff 23px,#92ff6d 34px,#e8ff17 43px,#fffa00 47px,#ffb300 62px,#ff8600 79px,#ff6500 115px,#ff4e00 245px,#ff4200)"></i>
<i style="background:linear-gradient(90deg,#0048ff,#0038ff 4px,#0048ff 9px,#0083ff 15px,#04fffb 24px,#8aff75 34px,#e2ff1d 43px,#ffff00 47px,#ffb100 63px,#ff8400 81px,#ff6300 120px,#ff4a00 283px,#ff4200)"></i>
<i style="background:linear-gradient(90deg,#0044ff,#0032ff 4px,#0040ff 9px,#007aff 15px,#00faff 24px,#99ff66 36px,#f3ff0c 46px,#fff800 49px,#ffab00 65px,#ff8000 84px,#ff6000 126px,#ff4500 346px,#ff4200)"></i>
<i style="background:linear-gradient(90deg,#0040ff,#002cff 4px,#0039ff 9px,#0071ff 15px,#00ffff 25px,#86ff79 35px,#ddff22 44px,#fffe00 49px,#ffb400 63px,#ff8500 81px,#ff6300 120px,#ff4b00 272px,#ff4200)"></i>
<i style="background:linear-gradient(90deg,#003dff,#0026ff 4px,#0031ff 9px,#005cff 14px,#00e6ff 24px,#05fffa 26px,#89ff76 36px,#dfff20 45px,#fffd00 50px,#ffba00 62px,#ff8a00 79px,#ff6600 114px,#ff4f00 226px,#ff4200)"></i>
<i style="background:linear-gradient(90deg,#0039ff,#0021ff 4px,#0029ff 9px,#005eff 15px,#00faff 26px,#97ff68 38px,#e7ff18 47px,#fffa00 51px,#ffb800 63px,#ff8900 80px,#ff6500 116px,#ff4e00 234px,#ff4200)"></i>
<i style="background:linear-gradient(90deg,#0036ff,#001cff 4px,#0022ff 9px,#0054ff 15px,#00e0ff 25px,#00feff 27px,#84ff7b 37px,#e1ff1e 47px,#fffd00 51px,#ffba00 63px,#ff8a00 80px,#ff6600 115px,#ff4f00 225px,#ff4100)"></i>
<i style="background:linear-gradient(90deg,#0033ff,#0017ff 4px,#001aff 9px,#003fff 14px,#00a8ff 22px,#04fffb 28px,#86ff79 38px,#feff01 51px,#ffb800 64px,#ff8a00 81px,#ff6600 116px,#ff4f00 228px,#ff4100)"></i>
<i style="background:linear-gradient(90deg,#0031ff,#0012ff 4px,#000fff 8px,#002cff 13px,#0080ff 20px,#00f8ff 28px,#24ffdb 31px,#94ff6b 40px,#faff05 51px,#ffb300 66px,#ff8500 85px,#ff6300 122px,#ff4b00 265px,#ff4100)"></i>
<i style="background:linear-gradient(90deg,#002eff,#000dff 4px,#0008ff 8px,#0023ff 13px,#0067ff 19px,#00fcff 29px,#8bff74 40px,#efff10 50px,#fff900 53px,#ffb900 65px,#ff8900 83px,#ff6600 118px,#ff4e00 233px,#ff4100)"></i>
<i style="background:linear-gradient(90deg,#002cff,#0005ff 5px,#0008ff 10px,#0037ff 16px,#00c3ff 26px,#01fffe 30px,#9bff64 42px,#f2ff0d 51px,#fff600 54px,#ffb700 66px,#ff8900 84px,#ff6600 118px,#ff4e00 230px,#ff4100)"></i>
<i style="background:linear-gradient(90deg,#002aff,#0000ff 5px,#0000fc 9px,#0012ff 13px,#0052ff 19px,#04fffb 31px,#acff53 44px,#fdff02 53px,#ffba00 66px,#ff8a00 84px,#ff6700 117px,#ff4f00 221px,#ff4100)"></i>
<i style="background:linear-gradient(90deg,#0029ff,#0001ff 4px,#0000f5 9px,#0009ff 13px,#0047ff 19px,#00f7ff 31px,#15ffea 33px,#a6ff59 44px,#f9ff06 53px,#ffd800 60px,#ffa200 74px,#ff7600 99px,#ff5b00 149px,#ff4000)"></i>
<i style="background:linear-gradient(90deg,#0027ff,#0000fd 4px,#0000ee 8px,#0000ff 13px,#003cff 19px,#00faff 32px,#a0ff5f 44px,#fcff03 54px,#ffb700 68px,#ff8800 87px,#ff6600 120px,#ff4e00 231px,#ff4000)"></i>
<i style="background:linear-gradient(90deg,#0026ff,#0004ff 3px,#0000e8 8px,#0000f6 13px,#0006ff 15px,#0058ff 22px,#00ffff 33px,#82ff7d 42px,#e0ff1f 51px,#ffff00 55px,#ffbe00 67px,#ff8c00 85px,#ff6900 116px,#ff5100 208px,#ff4000)"></i>
<i style="background:linear-gradient(90deg,#0026ff,#0001ff 3px,#0000e2 8px,#0000ee 13px,#0005ff 16px,#005aff 23px,#00f7ff 33px,#18ffe7 35px,#93ff6c 44px,#ebff14 53px,#fffc00 56px,#ffbd00 68px,#ff8c00 86px,#ff6900 116px,#ff5100 205px,#ff4000)"></i>
<i style="background:linear-gradient(90deg,#0025ff,#0000fe 3px,#0000e0 7px,#0000de 11px,#0005ff 17px,#005dff 24px,#00feff 34px,#8cff73 44px,#e6ff19 53px,#fffa00 57px,#ffbc00 69px,#ff8a00 88px,#ff6800 119px,#ff5000 216px,#ff4000)"></i>
<i style="background:linear-gradient(90deg,#0025ff,#0000fd 3px,#0000d8 8px,#0000dd 13px,#0004ff 18px,#006eff 26px,#00f5ff 34px,#06fff9 35px,#85ff7a 44px,#e1ff1e 53px,#fffe00 57px,#ffbf00 69px,#ff8b00 88px,#ff6900 118px,#ff5100 209px,#ff4000)"></i>
<i style="background:linear-gradient(90deg,#0025ff,#0000fc 3px,#0000d4 8px,#0000d5 13px,#0004ff 19px,#0054ff 25px,#00fbff 35px,#95ff6a 46px,#f3ff0c 56px,#fff600 59px,#ffb600 72px,#ff8200 94px,#ff6200 131px,#ff4800 285px,#ff4000)"></i>
<i style="background:linear-gradient(90deg,#0025ff,#0000fb 3px,#0000d0 8px,#0000cb 12px,#0000e5 17px,#0004ff 20px,#005aff 26px,#03fffc 36px,#82ff7d 45px,#deff21 54px,#fffb00 59px,#ffb900 72px,#ff8300 94px,#ff6300 130px,#ff4900 272px,#ff3f00)"></i>
<i style="background:linear-gradient(90deg,#0026ff,#0000fb 3px,#0000cc 8px,#0000c4 12px,#0000db 17px,#0005ff 21px,#00b6ff 32px,#00f8ff 36px,#28ffd7 39px,#9dff62 48px,#f7ff08 58px,#fff200 61px,#ffb500 74px,#ff8100 96px,#ff6200 133px,#ff4800 289px,#ff3f00)"></i>
<i style="background:linear-gradient(90deg,#0027ff,#0000fa 3px,#0000c8 8px,#0000bd 12px,#0000d1 17px,#0000fc 21px,#0057ff 27px,#00feff 37px,#8aff75 47px,#e2ff1d 56px,#fffe00 60px,#ffbc00 73px,#ff8500 94px,#ff6500 128px,#ff4c00 249px,#ff3f00)"></i>
<i style="background:linear-gradient(90deg,#0028ff,#0000fa 3px,#0000c6 8px,#0000b7 12px,#0000ca 17px,#0001ff 22px,#00a0ff 32px,#04fffb 38px,#82ff7d 47px,#dcff23 56px,#fffc00 61px,#ffbb00 74px,#ff8500 95px,#ff6400 130px,#ff4b00 257px,#ff3f00)"></i>
<i style="background:linear-gradient(90deg,#002aff,#0000fb 3px,#0000c3 8px,#0000b1 12px,#0000bd 16px,#0006ff 23px,#00f9ff 38px,#36ffc9 42px,#a7ff58 51px,#fcff03 61px,#ffb700 76px,#ff8400 96px,#ff6400 131px,#ff4a00 259px,#ff3f00)"></i>
<i style="background:linear-gradient(90deg,#002cff,#0000fc 3px,#0000c1 8px,#0000ac 12px,#0000be 17px,#0000fc 23px,#0057ff 29px,#00feff 39px,#88ff77 49px,#e8ff17 59px,#fffa00 63px,#ffbb00 76px,#ff8700 95px,#ff6600 128px,#ff4d00 237px,#ff3f00)"></i>
<i style="background:linear-gradient(90deg,#002dff,#0000fd 3px,#0000bf 8px,#0000aa 12px,#0000b8 17px,#0000f2 23px,#0001ff 24px,#00d2ff 37px,#03fffc 40px,#7fff80 49px,#e1ff1e 59px,#feff01 63px,#ffbe00 76px,#ff8b00 94px,#ff6800 125px,#ff4f00 218px,#ff3e00)"></i>
<i style="background:linear-gradient(90deg,#0030ff,#0000ff 3px,#0000be 8px,#0000a9 12px,#0000b3 17px,#0000de 22px,#0005ff 25px,#00f7ff 40px,#17ffe8 42px,#8eff71 51px,#eaff15 61px,#ffff00 64px,#ffbe00 77px,#ff8a00 95px,#ff6700 127px,#ff4e00 225px,#ff3e00)"></i>
<i style="background:linear-gradient(90deg,#0033ff,#0002ff 3px,#0000c1 8px,#0000a6 13px,#0000b4 18px,#0000ed 24px,#0008ff 26px,#00fbff 41px,#90ff6f 52px,#ebff14 62px,#fff800 66px,#ffb100 81px,#ff8100 101px,#ff6100 139px,#ff4600 295px,#ff3e00)"></i>
<i style="background:linear-gradient(90deg,#0035ff,#0004ff 3px,#0000bb 9px,#0000a4 14px,#0000b4 19px,#0000f0 25px,#0000fd 26px,#008cff 35px,#00ffff 42px,#87ff78 52px,#e5ff1a 62px,#fffd00 66px,#ffb400 81px,#ff8400 100px,#ff6300 136px,#ff4900 268px,#ff3e00)"></i>
<i style="background:linear-gradient(90deg,#0039ff,#0007ff 3px,#0000de 6px,#0000ae 11px,#0000a3 16px,#0000bd 21px,#0002ff 27px,#03fffc 43px,#7dff82 52px,#deff21 62px,#fffd00 67px,#ffb000 83px,#ff8100 103px,#ff6100 141px,#ff4600 297px,#ff3e00)"></i>
<i style="background:linear-gradient(90deg,#003cff,#0000fe 4px,#0000b8 10px,#0000a0 15px,#0000af 20px,#0000e9 26px,#0005ff 28px,#00f6ff 43px,#15ffea 45px,#8aff75 54px,#e6ff19 64px,#fffc00 68px,#ffb300 83px,#ff8400 102px,#ff6300 138px,#ff4800 271px,#ff3e00)"></i>
<i style="background:linear-gradient(90deg,#0042ff,#0005ff 4px,#0000b2 11px,#00009e 16px,#0000af 21px,#0000ec 27px,#0008ff 29px,#00f9ff 44px,#34ffcb 48px,#a1ff5e 57px,#f5ff0a 67px,#fff600 70px,#ffb200 84px,#ff8200 104px,#ff6200 141px,#ff4700 286px,#ff3e00)"></i>
<i style="background:linear-gradient(90deg,#0049ff,#0000fc 5px,#0000b5 11px,#00009c 16px,#0000a9 21px,#0000e1 27px,#0000fc 29px,#007aff 37px,#00fbff 45px,#8dff72 56px,#e7ff18 66px,#fffc00 70px,#ffb500 84px,#ff8500 103px,#ff6400 138px,#ff4900 262px,#ff3d00)"></i>
<i style="background:linear-gradient(90deg,#0050ff,#0003ff 5px,#0000b0 12px,#00009a 17px,#0000aa 22px,#0000e4 28px,#0000fe 30px,#00fdff 46px,#83ff7c 56px,#e0ff1f 66px,#fffc00 71px,#ffb800 84px,#ff8700 103px,#ff6500 137px,#ff4a00 252px,#ff3d00)"></i>
<i style="background:linear-gradient(90deg,#0057ff,#0000fb 6px,#0000b3 12px,#000098 17px,#0000a4 22px,#0000d9 28px,#0002ff 31px,#00ffff 47px,#83ff7c 57px,#e0ff1f 67px,#fffb00 72px,#ffb800 85px,#ff8600 104px,#ff6400 138px,#ff4a00 254px,#ff3d00)"></i>
<i style="background:linear-gradient(90deg,#005eff,#0002ff 6px,#0000ae 13px,#000096 18px,#0000a3 23px,#0000db 29px,#0004ff 32px,#02fffd 48px,#84ff7b 58px,#e0ff1f 68px,#fffa00 73px,#ffb700 86px,#ff8600 105px,#ff6400 140px,#ff4900 261px,#ff3d00)"></i>
<i style="background:linear-gradient(90deg,#0065ff,#0009ff 6px,#0000ec 8px,#0000a9 14px,#000094 19px,#0000a3 24px,#0000dc 30px,#0006ff 33px,#03fffc 49px,#85ff7a 59px,#e9ff16 70px,#ffff00 73px,#ffbb00 86px,#ff8a00 104px,#ff6700 136px,#ff4c00 236px,#ff3d00)"></i>
<i style="background:linear-gradient(90deg,#006dff,#0002ff 7px,#0000ad 14px,#000092 19px,#00009d 24px,#0000d2 30px,#0000f8 33px,#0016ff 35px,#00f5ff 49px,#04fffb 50px,#85ff7a 60px,#f1ff0e 72px,#fff800 75px,#ffb700 88px,#ff8600 107px,#ff6400 142px,#ff4900 263px,#ff3d00)"></i>
<i style="background:linear-gradient(90deg,#0074ff,#0000fa 8px,#0000b1 14px,#000092 19px,#000098 24px,#0000c7 30px,#0000f9 34px,#0036ff 38px,#00f5ff 50px,#14ffeb 52px,#90ff6f 62px,#f9ff06 74px,#ffd000 83px,#ff9800 99px,#ff7000 125px,#ff5500 186px,#ff3d00)"></i>
<i style="background:linear-gradient(90deg,#007cff,#0003ff 8px,#0000ac 15px,#00008f 20px,#000097 25px,#0000c8 31px,#0000fb 35px,#0068ff 42px,#00f6ff 51px,#14ffeb 53px,#90ff6f 63px,#f3ff0c 74px,#fff600 77px,#ffb600 90px,#ff8600 109px,#ff6300 144px,#ff4800 265px,#ff3c00)"></i>
<i style="background:linear-gradient(90deg,#0084ff,#0000fc 9px,#0000b1 15px,#000090 20px,#000092 25px,#0000be 31px,#0000fc 36px,#00f7ff 52px,#15ffea 54px,#90ff6f 64px,#ecff13 74px,#fffc00 77px,#ffb900 90px,#ff8700 109px,#ff6400 143px,#ff4a00 256px,#ff3c00)"></i>
<i style="background:linear-gradient(90deg,#008eff,#0007ff 9px,#0000dc 12px,#00009e 18px,#00008c 23px,#00009d 28px,#0000d6 34px,#0000fe 37px,#00f8ff 53px,#23ffdc 56px,#a6ff59 67px,#fcff03 77px,#ffb500 92px,#ff8500 111px,#ff6300 146px,#ff4800 269px,#ff3c00)"></i>
<i style="background:linear-gradient(90deg,#0098ff,#0002ff 10px,#0000ab 17px,#00008d 22px,#000092 27px,#0000c0 33px,#0000ff 38px,#00f8ff 54px,#24ffdb 57px,#b2ff4d 69px,#fdff02 78px,#ffb800 92px,#ff8700 111px,#ff6400 145px,#ff4900 260px,#ff3c00)"></i>
<i style="background:linear-gradient(90deg,#00a2ff,#0000fd 11px,#0000a8 18px,#00008c 23px,#000093 28px,#0000c1 34px,#0001ff 39px,#00f8ff 55px,#31ffce 59px,#b3ff4c 70px,#feff01 79px,#ffb800 93px,#ff8600 112px,#ff6400 146px,#ff4900 261px,#ff3c00)"></i>
<i style="background:linear-gradient(90deg,#00acff,#0008ff 11px,#0000eb 13px,#0000a6 19px,#00008b 24px,#000093 29px,#0000c2 35px,#0002ff 40px,#00f9ff 56px,#31ffce 60px,#aaff55 70px,#feff01 80px,#ffb800 94px,#ff8600 113px,#ff6400 147px,#ff4800 263px,#ff3c00)"></i>
<i style="background:linear-gradient(90deg,#00b6ff,#0004ff 12px,#0000a3 20px,#00008a 25px,#000092 30px,#0000c2 36px,#0003ff 41px,#00f8ff 57px,#31ffce 61px,#a0ff5f 70px,#f8ff07 80px,#fff200 83px,#ffb000 97px,#ff8100 117px,#ff6000 155px,#ff4400 301px,#ff3b00)"></i>
<i style="background:linear-gradient(90deg,#00bfff,#0000ff 13px,#0000aa 20px,#00008b 25px,#00008e 30px,#0000b8 36px,#0003ff 42px,#00f8ff 58px,#24ffdb 61px,#96ff69 70px,#f1ff0e 80px,#fff800 83px,#ffb700 96px,#ff8600 115px,#ff6400 149px,#ff4800 265px,#ff3b00)"></i>
<i style="background:linear-gradient(90deg,#00c9ff,#0000fb 14px,#0000a7 21px,#000089 26px,#00008d 31px,#0000b8 37px,#0003ff 43px,#00f8ff 59px,#25ffda 62px,#97ff68 71px,#f1ff0e 81px,#fff800 84px,#ffb700 97px,#ff8600 116px,#ff6300 150px,#ff4800 266px,#ff3b00)"></i>
<i style="background:linear-gradient(90deg,#00d3ff,#0007ff 14px,#0000dd 17px,#00009d 23px,#000086 28px,#000092 33px,#0000c3 39px,#0003ff 44px,#00f9ff 60px,#34ffcb 64px,#adff52 74px,#fffe00 84px,#ffbb00 97px,#ff8700 116px,#ff6400 149px,#ff4900 257px,#ff3b00)"></i>
<i style="background:linear-gradient(90deg,#00dcff,#0004ff 15px,#0000a3 23px,#000087 28px,#00008c 33px,#0000b8 39px,#0002ff 45px,#00faff 61px,#98ff67 73px,#f2ff0d 83px,#fff700 86px,#ffb300 100px,#ff8200 120px,#ff6100 156px,#ff4500 287px,#ff3b00)"></i>
<i style="background:linear-gradient(90deg,#00e6ff,#003cff 12px,#0001ff 16px,#0000aa 23px,#000089 28px,#000088 33px,#0000ae 39px,#0002ff 46px,#00faff 62px,#98ff67 74px,#f2ff0d 84px,#fff700 87px,#ffb300 101px,#ff8200 121px,#ff6100 157px,#ff4500 287px,#ff3b00)"></i>
<i style="background:linear-gradient(90deg,#00efff,#0057ff 11px,#0000fd 17px,#0000a8 24px,#000087 29px,#000087 34px,#0000ad 40px,#0001ff 47px,#00fbff 63px,#98ff67 75px,#f2ff0d 85px,#fff700 88px,#ffb300 102px,#ff8200 122px,#ff6100 158px,#ff4500 288px,#ff3b00)"></i>
<i style="background:linear-gradient(90deg,#00f8ff,#0063ff 11px,#0000fa 18px,#0000a6 25px,#000086 30px,#000086 35px,#0000ac 41px,#0000ff 48px,#00acff 59px,#00fbff 64px,#98ff67 76px,#f2ff0d 86px,#fff700 89px,#ffb600 102px,#ff8500 121px,#ff6300 155px,#ff4700 269px,#ff3a00)"></i>
<i style="background:linear-gradient(90deg,#03fffc,#009bff 8px,#0007ff 18px,#0000dc 21px,#00009c 27px,#000082 32px,#000089 37px,#0000b4 43px,#0000fd 49px,#007aff 57px,#00fbff 65px,#98ff67 77px,#f2ff0d 87px,#fff700 90px,#ffb700 103px,#ff8500 122px,#ff6300 156px,#ff4700 269px,#ff3a00)"></i>
<i style="background:linear-gradient(90deg,#0cfff3,#01fffe 1px,#007bff 11px,#0004ff 19px,#0000a3 27px,#000084 32px,#000084 37px,#0000aa 43px,#0000fc 50px,#0059ff 56px,#00fbff 66px,#98ff67 78px,#f2ff0d 88px,#fff800 91px,#ffb700 104px,#ff8500 123px,#ff6400 156px,#ff4800 265px,#ff3a00)"></i>
<i style="background:linear-gradient(90deg,#15ffea,#00fdff 2px,#006aff 13px,#0002ff 20px,#0000a1 28px,#000083 33px,#000083 38px,#0000a8 44px,#0000fa 51px,#0039ff 55px,#00faff 67px,#97ff68 79px,#f1ff0e 89px,#fff800 92px,#ffb700 105px,#ff8500 124px,#ff6300 157px,#ff4800 265px,#ff3a00)"></i>
<i style="background:linear-gradient(90deg,#1effe1,#00fbff 3px,#0067ff 14px,#0000ff 21px,#0000a9 28px,#000085 33px,#000082 39px,#0000a7 45px,#0000f9 52px,#0038ff 56px,#00faff 68px,#97ff68 80px,#f1ff0e 90px,#fff800 93px,#ffb700 106px,#ff8500 125px,#ff6300 158px,#ff4700 266px,#ff3a00)"></i>
<i style="background:linear-gradient(90deg,#26ffd9,#00f9ff 4px,#0056ff 16px,#0000fd 22px,#0000a7 29px,#000084 34px,#000084 41px,#0000ae 47px,#0000f9 53px,#0038ff 57px,#00f9ff 69px,#41ffbe 74px,#b5ff4a 84px,#feff01 93px,#ffbb00 106px,#ff8900 124px,#ff6600 155px,#ff4a00 249px,#ff3a00)"></i>
<i style="background:linear-gradient(90deg,#2fffd0,#04fffb 4px,#009dff 12px,#0000fb 23px,#0000a6 30px,#000083 35px,#000083 42px,#0000ac 48px,#0000f9 54px,#0028ff 57px,#00f8ff 70px,#25ffda 73px,#a0ff5f 83px,#feff01 94px,#ffb700 108px,#ff8500 127px,#ff6300 160px,#ff4700 266px,#ff3a00)"></i>
<i style="background:linear-gradient(90deg,#37ffc8,#02fffd 5px,#007eff 15px,#0009ff 23px,#0000ec 25px,#00009c 32px,#000080 37px,#000086 44px,#0000ac 49px,#0000f8 55px,#0027ff 58px,#00f7ff 71px,#15ffea 73px,#94ff6b 83px,#efff10 93px,#fffa00 96px,#ffb800 109px,#ff8500 128px,#ff6300 162px,#ff4600 271px,#ff3900)"></i>
<i style="background:linear-gradient(90deg,#3fffc0,#00ffff 6px,#006eff 17px,#0007ff 24px,#0000dd 27px,#000093 34px,#000080 38px,#000084 45px,#0000ac 50px,#0000f8 56px,#0016ff 58px,#00f5ff 72px,#14ffeb 74px,#93ff6c 84px,#f6ff09 95px,#ffee00 99px,#ffad00 113px,#ff7d00 134px,#ff5d00 175px,#ff3f00 332px,#ff3900)"></i>
<i style="background:linear-gradient(90deg,#47ffb8,#00feff 7px,#005dff 19px,#0006ff 25px,#0000b8 31px,#000084 37px,#000082 46px,#0000b6 52px,#0000f7 57px,#0015ff 59px,#03fffc 74px,#87ff78 84px,#e6ff19 94px,#fffb00 98px,#ffb800 111px,#ff8600 130px,#ff6300 164px,#ff4600 271px,#ff3900)"></i>
<i style="background:linear-gradient(90deg,#4fffb0,#00fcff 8px,#005cff 20px,#0005ff 26px,#000099 35px,#000080 39px,#000082 47px,#0000b5 53px,#0005ff 59px,#02fffd 75px,#85ff7a 85px,#e5ff1a 95px,#fffc00 99px,#ffb900 112px,#ff8600 131px,#ff6300 165px,#ff4600 272px,#ff3900)"></i>
<i style="background:linear-gradient(90deg,#57ffa8,#00fbff 9px,#005bff 21px,#0004ff 27px,#000098 36px,#000080 40px,#000082 48px,#0000b5 54px,#0003ff 60px,#00ffff 76px,#84ff7b 86px,#e4ff1b 96px,#fffd00 100px,#ffb900 113px,#ff8600 132px,#ff6300 166px,#ff4600 272px,#ff3900)"></i>
<i style="background:linear-gradient(90deg,#5effa1,#06fff9 9px,#00d5ff 13px,#0003ff 28px,#000097 37px,#000080 41px,#000082 49px,#0000b4 55px,#0002ff 61px,#00fdff 77px,#8dff72 88px,#eaff15 98px,#fffe00 101px,#ffba00 114px,#ff8800 132px,#ff6400 165px,#ff4700 263px,#ff3900)"></i>
<i style="background:linear-gradient(90deg,#66ff99,#04fffb 10px,#00adff 17px,#0002ff 29px,#000096 38px,#000080 42px,#000082 50px,#0000b3 56px,#0000ff 62px,#00faff 78px,#96ff69 90px,#f1ff0e 100px,#fff900 103px,#ffb700 116px,#ff8400 135px,#ff6100 171px,#ff4400 284px,#ff3900)"></i>
<i style="background:linear-gradient(90deg,#6dff92,#03fffc 11px,#0091ff 20px,#0002ff 30px,#00009f 38px,#000080 42px,#000082 51px,#0000b2 57px,#0000fd 63px,#00f8ff 79px,#24ffdb 82px,#9fff60 92px,#feff01 103px,#ffb700 117px,#ff8500 136px,#ff6100 172px,#ff4400 284px,#ff3800)"></i>
<i style="background:linear-gradient(90deg,#74ff8b,#0dfff2 11px,#00f6ff 13px,#0049ff 26px,#0001ff 31px,#00009f 39px,#000080 44px,#000082 52px,#0000b0 58px,#0000fb 64px,#0077ff 72px,#00f5ff 80px,#05fffa 81px,#87ff78 91px,#e6ff19 101px,#fffb00 105px,#ffb800 118px,#ff8500 137px,#ff6100 173px,#ff4400 284px,#ff3800)"></i>
<i style="background:linear-gradient(90deg,#7bff84,#17ffe8 11px,#02fffd 13px,#0073ff 24px,#0001ff 32px,#00009f 40px,#000080 45px,#000082 53px,#0000af 59px,#0000f8 65px,#0025ff 68px,#02fffd 82px,#85ff7a 92px,#e5ff1a 102px,#fffc00 106px,#ffb800 119px,#ff8700 137px,#ff6300 171px,#ff4600 272px,#ff3800)"></i>
<i style="background:linear-gradient(90deg,#83ff7c,#17ffe8 12px,#01fffe 14px,#0073ff 25px,#0001ff 33px,#0000aa 40px,#000080 46px,#000082 54px,#0000ae 60px,#0005ff 67px,#00feff 83px,#8eff71 94px,#ebff14 104px,#fff700 108px,#ffb200 122px,#ff8200 141px,#ff5f00 178px,#ff4200 297px,#ff3800)"></i>
<i style="background:linear-gradient(90deg,#89ff76,#20ffdf 12px,#00ffff 15px,#0065ff 27px,#0001ff 34px,#0000ac 41px,#000082 47px,#000082 55px,#0000ac 61px,#0002ff 68px,#00fbff 84px,#97ff68 96px,#f1ff0e 106px,#fff800 109px,#ffb600 122px,#ff8600 140px,#ff6200 175px,#ff4500 279px,#ff3800)"></i>
<i style="background:linear-gradient(90deg,#90ff6f,#2affd5 12px,#00feff 16px,#0065ff 28px,#0002ff 35px,#0000a6 43px,#000080 49px,#000086 57px,#0000b4 63px,#0000fe 69px,#00f8ff 85px,#24ffdb 88px,#9fff60 98px,#feff01 109px,#ffb700 123px,#ff8700 141px,#ff6200 175px,#ff4500 275px,#ff3800)"></i>
<i style="background:linear-gradient(90deg,#97ff68,#2affd5 13px,#00feff 17px,#0065ff 29px,#0002ff 36px,#0000a0 45px,#000081 50px,#000085 58px,#0000b2 64px,#0000fb 70px,#0097ff 80px,#04fffb 87px,#87ff78 97px,#e6ff19 107px,#fffb00 111px,#ffb700 124px,#ff8700 142px,#ff6200 176px,#ff4500 275px,#ff3800)"></i>
<i style="background:linear-gradient(90deg,#9eff61,#33ffcc 13px,#00feff 18px,#0065ff 30px,#0005ff 37px,#00009a 47px,#000080 52px,#000085 59px,#0000b0 65px,#0000f8 71px,#0025ff 74px,#00ffff 88px,#84ff7b 98px,#e4ff1b 108px,#fffc00 112px,#ffb800 125px,#ff8700 143px,#ff6200 177px,#ff4500 275px,#ff3700)"></i>
<i style="background:linear-gradient(90deg,#a4ff5b,#3cffc3 13px,#00fdff 19px,#0065ff 31px,#0000fb 39px,#0000a5 47px,#000080 53px,#000084 60px,#0000ae 66px,#0004ff 73px,#00fbff 89px,#97ff68 101px,#f2ff0d 111px,#fff700 114px,#ffb500 127px,#ff8400 146px,#ff6100 181px,#ff4300 287px,#ff3700)"></i>
<i style="background:linear-gradient(90deg,#aaff55,#3cffc3 14px,#00fdff 20px,#0058ff 33px,#0000fe 40px,#00009f 49px,#000080 55px,#000084 61px,#0000ac 67px,#0000ff 74px,#00f7ff 90px,#16ffe9 92px,#94ff6b 102px,#f0ff0f 112px,#fff900 115px,#ffb600 128px,#ff8500 147px,#ff6100 182px,#ff4300 287px,#ff3700)"></i>
<i style="background:linear-gradient(90deg,#b0ff4f,#45ffba 14px,#00fdff 21px,#0002ff 41px,#0000a2 50px,#000080 56px,#000083 62px,#0000aa 68px,#0000fb 75px,#0086ff 84px,#03fffc 92px,#86ff79 102px,#e6ff19 112px,#fffb00 116px,#ffb700 129px,#ff8500 148px,#ff6100 183px,#ff4400 286px,#ff3700)"></i>
<i style="background:linear-gradient(90deg,#b7ff48,#44ffbb 15px,#00fdff 22px,#0006ff 42px,#0000ad 50px,#000085 56px,#000082 63px,#0000a7 69px,#0000f8 76px,#0015ff 78px,#00feff 93px,#8eff71 104px,#ecff13 114px,#fffc00 117px,#ffb800 130px,#ff8600 149px,#ff6100 183px,#ff4400 282px,#ff3700)"></i>
<i style="background:linear-gradient(90deg,#bdff42,#4dffb2 15px,#00fdff 23px,#0000fc 44px,#00009f 53px,#000080 59px,#000085 65px,#0000ae 71px,#0002ff 78px,#00f9ff 94px,#74ff8b 103px,#d9ff26 113px,#fffe00 118px,#ffba00 131px,#ff8600 150px,#ff6100 184px,#ff4400 282px,#ff3700)"></i>
<i style="background:linear-gradient(90deg,#c3ff3c,#4cffb3 16px,#00fdff 24px,#0001ff 45px,#0000a2 54px,#000081 60px,#000085 66px,#0000ab 72px,#0000fd 79px,#05fffa 96px,#88ff77 106px,#e7ff18 116px,#fffa00 120px,#ffb700 133px,#ff8500 152px,#ff6000 187px,#ff4300 289px,#ff3700)"></i>
<i style="background:linear-gradient(90deg,#caff35,#4cffb3 17px,#00fdff 25px,#0029ff 43px,#0004ff 46px,#00009d 56px,#000080 62px,#000088 68px,#0000b2 74px,#0000f9 80px,#0025ff 83px,#00ffff 97px,#84ff7b 107px,#e5ff1a 117px,#fffc00 121px,#ffbc00 133px,#ff8700 152px,#ff6200 185px,#ff4500 277px,#ff3700)"></i>
<i style="background:linear-gradient(90deg,#d0ff2f,#4bffb4 18px,#00fdff 26px,#0053ff 41px,#0000fb 48px,#0000a0 57px,#000081 63px,#000086 69px,#0000af 75px,#0003ff 82px,#00faff 98px,#97ff68 110px,#f2ff0d 120px,#fff700 123px,#ffb600 136px,#ff8300 156px,#ff5f00 192px,#ff4100 301px,#ff3600)"></i>
<i style="background:linear-gradient(90deg,#d6ff29,#4bffb4 19px,#00fdff 27px,#006fff 40px,#0000ff 49px,#0000a3 58px,#000082 64px,#000085 70px,#0000ac 76px,#0000fd 83px,#05fffa 100px,#88ff77 110px,#e8ff17 120px,#feff01 123px,#ffbb00 136px,#ff8700 155px,#ff6200 188px,#ff4400 280px,#ff3600)"></i>
<i style="background:linear-gradient(90deg,#dcff23,#4affb5 20px,#00ffff 28px,#0072ff 41px,#0004ff 50px,#00009e 60px,#000081 66px,#000088 72px,#0000b2 78px,#0000f8 84px,#0015ff 86px,#00ffff 101px,#84ff7b 111px,#e5ff1a 121px,#fffb00 125px,#ffb900 138px,#ff8600 157px,#ff6100 191px,#ff4300 288px,#ff3600)"></i>
<i style="background:linear-gradient(90deg,#e3ff1c,#4affb5 21px,#02fffd 29px,#008eff 40px,#0000fb 52px,#0000a1 61px,#000082 67px,#000087 73px,#0000ae 79px,#0002ff 86px,#00f9ff 102px,#4fffb0 108px,#bfff40 118px,#fffe00 126px,#ffba00 139px,#ff8600 158px,#ff6100 192px,#ff4300 287px,#ff3600)"></i>
<i style="background:linear-gradient(90deg,#e9ff16,#41ffbe 23px,#00faff 31px,#006eff 44px,#0000ff 53px,#0000a4 62px,#000083 68px,#000086 74px,#0000ab 80px,#0000fc 87px,#0086ff 96px,#04fffb 104px,#88ff77 114px,#e8ff17 124px,#fffa00 128px,#ffb800 141px,#ff8500 160px,#ff6000 194px,#ff4300 291px,#ff3600)"></i>
<i style="background:linear-gradient(90deg,#efff10,#31ffce 26px,#00fdff 32px,#0072ff 45px,#0005ff 54px,#00009f 64px,#000082 70px,#000088 76px,#0000b1 82px,#0005ff 89px,#00fdff 105px,#8fff70 116px,#ecff13 126px,#fffc00 129px,#ffb900 142px,#ff8600 161px,#ff6000 195px,#ff4300 290px,#ff3600)"></i>
<i style="background:linear-gradient(90deg,#f6ff09,#1affe5 30px,#00ffff 33px,#0076ff 46px,#0000fc 56px,#0000a2 65px,#000083 71px,#000087 77px,#0000ad 83px,#0000fe 90px,#00f7ff 106px,#16ffe9 108px,#96ff69 118px,#f1ff0e 128px,#fff800 131px,#ffb300 145px,#ff8100 165px,#ff5d00 202px,#ff3f00 315px,#ff3600)"></i>
<i style="background:linear-gradient(90deg,#fcff03,#14ffeb 32px,#00f8ff 35px,#0062ff 49px,#0002ff 57px,#00009e 67px,#000082 73px,#000089 79px,#0000b2 85px,#0000f9 91px,#0025ff 94px,#01fffe 108px,#86ff79 118px,#e6ff19 128px,#fffb00 132px,#ffb900 145px,#ff8500 164px,#ff6000 198px,#ff4200 293px,#ff3600)"></i>
<i style="background:linear-gradient(90deg,#fffc00,#16ffe9 33px,#00fbff 36px,#0072ff 49px,#0000fa 59px,#0000a1 68px,#000083 74px,#000087 80px,#0000ae 86px,#0002ff 93px,#00faff 109px,#98ff67 121px,#f2ff0d 131px,#fff700 134px,#ffb300 148px,#ff8000 168px,#ff5c00 205px,#ff3e00 319px,#ff3500)"></i>
<i style="background:linear-gradient(90deg,#fff500,#f1ff0e 3px,#18ffe7 34px,#00fdff 37px,#0077ff 50px,#0000ff 60px,#0000a5 69px,#000084 75px,#000086 81px,#0000aa 87px,#0000fb 94px,#0065ff 101px,#04fffb 111px,#89ff76 121px,#e7ff18 131px,#fffa00 135px,#ffb800 148px,#ff8500 167px,#ff5f00 201px,#ff4200 297px,#ff3500)"></i>
<i style="background:linear-gradient(90deg,#ffef00,#ffff00 2px,#76ff89 22px,#0afff5 37px,#00f7ff 39px,#0064ff 53px,#0004ff 61px,#0000a0 71px,#000083 77px,#000088 83px,#0000b0 89px,#0003ff 96px,#00fdff 112px,#8fff70 123px,#ebff14 133px,#fff700 137px,#ffb200 151px,#ff8000 171px,#ff5c00 208px,#ff3d00 322px,#ff3500)"></i>
<i style="background:linear-gradient(90deg,#ffe800,#feff01 3px,#89ff76 20px,#1dffe2 36px,#00faff 40px,#0068ff 54px,#0000fd 63px,#0000a4 72px,#000084 78px,#000086 84px,#0000ab 90px,#0000fc 97px,#0097ff 107px,#00f6ff 113px,#15ffea 115px,#95ff6a 125px,#f0ff0f 135px,#fff900 138px,#ffb700 151px,#ff8400 170px,#ff5f00 204px,#ff4100 300px,#ff3500)"></i>
<i style="background:linear-gradient(90deg,#ffe200,#fcff03 4px,#8fff70 20px,#27ffd8 36px,#00fdff 41px,#006dff 55px,#0003ff 64px,#0000a0 74px,#000083 80px,#000088 86px,#0000b0 92px,#0005ff 99px,#00ffff 115px,#85ff7a 125px,#e5ff1a 135px,#fffc00 139px,#ffb900 152px,#ff8500 171px,#ff5f00 205px,#ff4100 300px,#ff3500)"></i>
<i style="background:linear-gradient(90deg,#ffdb00,#faff05 5px,#95ff6a 20px,#29ffd6 37px,#01fffe 42px,#007dff 55px,#0000fc 66px,#0000a3 75px,#000084 81px,#000087 87px,#0000ac 93px,#0000fd 100px,#00f8ff 116px,#25ffda 119px,#a1ff5e 129px,#ffff00 140px,#ffb700 154px,#ff8400 173px,#ff5e00 208px,#ff4000 307px,#ff3500)"></i>
<i style="background:linear-gradient(90deg,#ffd400,#fffd00 5px,#9bff64 20px,#33ffcc 37px,#00faff 44px,#006bff 58px,#0002ff 67px,#0000a0 77px,#000083 83px,#000089 89px,#0000b1 95px,#0005ff 102px,#01fffe 118px,#86ff79 128px,#e5ff1a 138px,#fffc00 142px,#ffb900 155px,#ff8400 174px,#ff5e00 208px,#ff4000 303px,#ff3500)"></i>
<i style="background:linear-gradient(90deg,#ffce00,#ffff00 6px,#a6ff59 19px,#35ffca 38px,#00fdff 45px,#007bff 58px,#0000fb 69px,#0000a3 78px,#000085 84px,#000087 90px,#0000ac 96px,#0000fe 103px,#00f9ff 119px,#5cffa3 126px,#c8ff37 136px,#ffff00 143px,#ffba00 156px,#ff8500 175px,#ff5f00 209px,#ff4000 303px,#ff3500)"></i>
<i style="background:linear-gradient(90deg,#ffc700,#fdff02 7px,#a6ff59 20px,#37ffc8 39px,#01fffe 46px,#0080ff 59px,#0001ff 70px,#0000a0 80px,#000083 86px,#000089 92px,#0000b1 98px,#0006ff 105px,#02fffd 121px,#86ff79 131px,#e6ff19 141px,#fffb00 145px,#ffb800 158px,#ff8400 177px,#ff5e00 211px,#ff4000 306px,#ff3400)"></i>
<i style="background:linear-gradient(90deg,#ffc000,#fcff03 8px,#a7ff58 21px,#39ffc6 40px,#00fbff 48px,#007aff 61px,#0000fb 72px,#0000a4 81px,#000085 87px,#000087 93px,#0000ac 99px,#0000fe 106px,#00faff 122px,#97ff68 134px,#f1ff0e 144px,#fff800 147px,#ffb200 161px,#ff8000 181px,#ff5b00 217px,#ff3c00 327px,#ff3400)"></i>
<i style="background:linear-gradient(90deg,#ffba00,#faff05 9px,#97ff68 25px,#2dffd2 43px,#00feff 49px,#007fff 62px,#0001ff 73px,#0000a0 83px,#000084 89px,#000089 95px,#0000b0 101px,#0005ff 108px,#03fffc 124px,#87ff78 134px,#e6ff19 144px,#fffb00 148px,#ffb800 161px,#ff8400 180px,#ff5e00 214px,#ff3f00 309px,#ff3400)"></i>
<i style="background:linear-gradient(90deg,#ffb300,#fffe00 9px,#93ff6c 27px,#2fffd0 44px,#02fffd 50px,#008fff 62px,#0000fb 75px,#0000a4 84px,#000083 91px,#00008a 97px,#0000b5 103px,#0000fd 109px,#00acff 120px,#00fbff 125px,#97ff68 137px,#f1ff0e 147px,#fff800 150px,#ffb200 164px,#ff7f00 184px,#ff5b00 220px,#ff3c00 330px,#ff3400)"></i>
<i style="background:linear-gradient(90deg,#ffac00,#ffff00 10px,#93ff6c 28px,#2bffd4 46px,#00fcff 52px,#007fff 65px,#0002ff 76px,#0000a1 86px,#000084 92px,#000088 98px,#0000b0 104px,#0005ff 111px,#03fffc 127px,#87ff78 137px,#e6ff19 147px,#fffb00 151px,#ffb800 164px,#ff8400 183px,#ff5e00 216px,#ff4000 308px,#ff3400)"></i>
<i style="background:linear-gradient(90deg,#ffa600,#feff01 11px,#8fff70 30px,#2dffd2 47px,#00ffff 53px,#0084ff 66px,#0000fc 78px,#0000a5 87px,#000083 94px,#00008a 100px,#0000b4 106px,#0000fc 112px,#00fbff 128px,#97ff68 140px,#f1ff0e 150px,#fff800 153px,#ffb200 167px,#ff7f00 187px,#ff5b00 222px,#ff3c00 330px,#ff3400)"></i>
<i style="background:linear-gradient(90deg,#ff9f00,#feff01 12px,#8fff70 31px,#29ffd6 49px,#00faff 55px,#007fff 68px,#0003ff 79px,#0000a2 89px,#000084 95px,#000088 101px,#0000af 107px,#0005ff 114px,#03fffc 130px,#87ff78 140px,#e6ff19 150px,#fffb00 154px,#ffb800 167px,#ff8300 186px,#ff5d00 219px,#ff3f00 311px,#ff3400)"></i>
<i style="background:linear-gradient(90deg,#ff9900,#feff01 13px,#90ff6f 32px,#2bffd4 50px,#00feff 56px,#0084ff 69px,#0000fd 81px,#0000a6 90px,#000084 97px,#000089 103px,#0000b3 109px,#0000fd 115px,#00faff 131px,#97ff68 143px,#f1ff0e 153px,#fff800 156px,#ffb200 170px,#ff7f00 190px,#ff5a00 225px,#ff3b00 335px,#ff3400)"></i>
<i style="background:linear-gradient(90deg,#ff9200,#feff01 14px,#90ff6f 33px,#2effd1 51px,#00f9ff 58px,#007fff 71px,#0004ff 82px,#00009c 93px,#000083 99px,#00008b 105px,#0000b7 111px,#0006ff 117px,#02fffd 133px,#86ff79 143px,#e6ff19 153px,#fffb00 157px,#ffb800 170px,#ff8300 189px,#ff5d00 222px,#ff3e00 315px,#ff3400)"></i>
<i style="background:linear-gradient(90deg,#ff8c00,#fff900 14px,#d7ff28 21px,#30ffcf 52px,#00fdff 59px,#0085ff 72px,#0000fe 84px,#0000a7 93px,#000084 100px,#000089 106px,#0000a9 111px,#0000fe 118px,#00faff 134px,#96ff69 146px,#f1ff0e 156px,#fff800 159px,#ffb600 172px,#ff8200 191px,#ff5c00 224px,#ff3e00 319px,#ff3400)"></i>
<i style="background:linear-gradient(90deg,#ff8600,#feff01 16px,#91ff6e 35px,#2cffd3 54px,#01fffe 60px,#0095ff 72px,#0000fa 86px,#0000a4 95px,#000083 102px,#00008a 108px,#0000b9 114px,#0000f7 119px,#0015ff 121px,#02fffd 136px,#85ff7a 146px,#e5ff1a 156px,#fffc00 160px,#ffb800 173px,#ff8300 192px,#ff5d00 225px,#ff3e00 319px,#ff3300)"></i>
<i style="background:linear-gradient(90deg,#ff7f00,#feff01 17px,#92ff6d 36px,#2fffd0 55px,#00fcff 62px,#0086ff 75px,#0001ff 87px,#0000a2 97px,#000083 104px,#00008d 110px,#0000bf 116px,#0000fe 121px,#00f9ff 137px,#33ffcc 141px,#aaff55 151px,#ffff00 161px,#ffba00 174px,#ff8300 193px,#ff5d00 225px,#ff3f00 314px,#ff3300)"></i>
<i style="background:linear-gradient(90deg,#ff7900,#fdff02 18px,#92ff6d 37px,#31ffce 56px,#01fffe 63px,#008cff 76px,#0000fc 89px,#0000a6 98px,#000084 105px,#000088 110px,#0000b1 116px,#0000f7 122px,#0015ff 124px,#00ffff 139px,#84ff7b 149px,#e4ff1b 159px,#fffc00 163px,#ffb800 176px,#ff8200 195px,#ff5c00 228px,#ff3d00 324px,#ff3300)"></i>
<i style="background:linear-gradient(90deg,#ff7400,#fdff02 19px,#93ff6c 38px,#2dffd2 58px,#00fcff 65px,#0087ff 78px,#0004ff 90px,#00009d 101px,#000083 107px,#000090 113px,#0000c0 119px,#0000fe 124px,#00f7ff 140px,#16ffe9 142px,#94ff6b 152px,#f0ff0f 162px,#fff900 165px,#ffb600 178px,#ff8100 197px,#ff5c00 230px,#ff3c00 328px,#ff3300)"></i>
<i style="background:linear-gradient(90deg,#ff6d00,#fdff02 20px,#93ff6c 39px,#30ffcf 59px,#01fffe 66px,#008dff 79px,#0000ff 92px,#0000a1 102px,#000085 108px,#00008f 114px,#0000bc 120px,#0000f8 125px,#0015ff 127px,#00feff 142px,#8eff71 153px,#ecff13 163px,#fffd00 166px,#ffb800 179px,#ff8200 198px,#ff5c00 231px,#ff3c00 328px,#ff3300)"></i>
<i style="background:linear-gradient(90deg,#ff6800,#fdff02 21px,#94ff6b 40px,#2cffd3 61px,#00fcff 68px,#0089ff 81px,#0000fb 94px,#0000a6 103px,#000089 109px,#00008f 115px,#0000b8 121px,#0000fe 127px,#00f5ff 143px,#14ffeb 145px,#93ff6c 155px,#efff10 165px,#fffa00 168px,#ffb600 181px,#ff8300 199px,#ff5d00 231px,#ff3d00 323px,#ff3300)"></i>
<i style="background:linear-gradient(90deg,#ff6100,#fffb00 21px,#83ff7c 45px,#29ffd6 63px,#01fffe 69px,#0099ff 81px,#0003ff 95px,#00009c 106px,#000089 112px,#000097 118px,#0000c7 124px,#0006ff 129px,#00fcff 145px,#98ff67 157px,#f9ff06 168px,#ffca00 178px,#ff8f00 195px,#ff6500 222px,#ff4600 285px,#ff3300)"></i>
<i style="background:linear-gradient(90deg,#ff5b00,#fffb00 22px,#83ff7c 46px,#2cffd3 64px,#00fcff 71px,#008cff 84px,#0000fe 97px,#0000a9 106px,#00008c 113px,#000096 119px,#0000c3 125px,#0000fe 130px,#03fffc 147px,#86ff79 157px,#e6ff19 167px,#fffb00 171px,#ffb200 185px,#ff7f00 204px,#ff5900 238px,#ff3800 346px,#ff3300)"></i>
<i style="background:linear-gradient(90deg,#ff5500,#fffb00 23px,#84ff7b 47px,#29ffd6 66px,#00f9ff 73px,#0088ff 86px,#0000fb 99px,#0000af 107px,#00008f 114px,#000096 120px,#0000be 126px,#0005ff 132px,#00faff 148px,#a1ff5e 161px,#f9ff06 171px,#ffeb00 175px,#ffa500 190px,#ff7500 211px,#ff5200 252px,#ff3300)"></i>
<i style="background:linear-gradient(90deg,#ff4f00,#fffb00 24px,#85ff7a 48px,#2bffd4 67px,#00fdff 74px,#008eff 87px,#0003ff 100px,#0000a9 110px,#000090 117px,#00009e 123px,#0000ce 129px,#0000fd 133px,#00a4ff 144px,#01fffe 150px,#85ff7a 160px,#e5ff1a 170px,#fffc00 174px,#ffb200 188px,#ff7e00 207px,#ff5900 241px,#ff3700 350px,#ff3300)"></i>
<i style="background:linear-gradient(90deg,#ff4a00,#fffb00 25px,#85ff7a 49px,#29ffd6 69px,#00faff 76px,#008bff 89px,#0000ff 102px,#0000af 111px,#000093 118px,#00009d 124px,#0000c9 130px,#0005ff 135px,#00f7ff 151px,#15ffea 153px,#94ff6b 163px,#f0ff0f 173px,#fff900 176px,#ffb400 189px,#ff8100 207px,#ff5b00 240px,#ff3900 341px,#ff3300)"></i>
<i style="background:linear-gradient(90deg,#ff4400,#fffa00 26px,#86ff79 50px,#2cffd3 70px,#00feff 77px,#0092ff 90px,#0000fc 104px,#0000af 113px,#000095 120px,#0000a1 126px,#0000ce 132px,#0000fd 136px,#0082ff 145px,#00fdff 153px,#8eff71 164px,#ecff13 174px,#fffd00 177px,#ffb600 190px,#ff8200 208px,#ff5b00 240px,#ff3a00 336px,#ff3200)"></i>
<i style="background:linear-gradient(90deg,#ff3e00,#fffa00 27px,#83ff7c 52px,#29ffd6 72px,#00fbff 79px,#008eff 92px,#0000fb 106px,#0000af 115px,#000097 122px,#0000a4 128px,#0000d3 134px,#0003ff 138px,#04fffb 155px,#87ff78 165px,#e7ff18 175px,#fffa00 179px,#ffb400 192px,#ff8100 210px,#ff5b00 242px,#ff3900 341px,#ff3200)"></i>
<i style="background:linear-gradient(90deg,#ff3900,#fffa00 28px,#84ff7b 53px,#2cffd3 73px,#01fffe 80px,#0095ff 93px,#0004ff 107px,#0000aa 118px,#000099 124px,#0000a8 130px,#0000d9 136px,#0000fc 139px,#0060ff 146px,#00faff 156px,#97ff68 168px,#f9ff06 179px,#ffd200 187px,#ff9700 202px,#ff6b00 226px,#ff4b00 276px,#ff3200)"></i>
<i style="background:linear-gradient(90deg,#ff3400,#fffa00 29px,#85ff7a 54px,#29ffd6 75px,#00fdff 82px,#0092ff 95px,#0003ff 109px,#0000b0 119px,#00009c 126px,#0000ac 132px,#0000de 138px,#0002ff 141px,#01fffe 158px,#85ff7a 168px,#eeff11 179px,#fffa00 182px,#ffb400 195px,#ff8100 213px,#ff5b00 245px,#ff3800 345px,#ff3200)"></i>
<i style="background:linear-gradient(90deg,#ff2f00,#fffa00 30px,#b2ff4d 45px,#27ffd8 77px,#00fbff 84px,#008fff 97px,#0002ff 111px,#0000b1 121px,#00009e 128px,#0000b0 134px,#0000e3 140px,#0000fa 142px,#004eff 148px,#00f7ff 159px,#15ffea 161px,#94ff6b 171px,#f9ff06 182px,#ffe300 187px,#ffa300 201px,#ff7400 222px,#ff5100 262px,#ff3200)"></i>
<i style="background:linear-gradient(90deg,#ff2a00,#ffff00 32px,#93ff6c 53px,#2fffd0 77px,#00ffff 85px,#0096ff 98px,#0001ff 113px,#0000b7 122px,#0000a0 129px,#0000af 135px,#0000de 141px,#0001ff 144px,#00b1ff 156px,#00fdff 161px,#98ff67 173px,#fcff03 184px,#ffb400 198px,#ff8000 216px,#ff5a00 248px,#ff3800 348px,#ff3200)"></i>
<i style="background:linear-gradient(90deg,#ff2500,#ffff00 33px,#94ff6b 54px,#2dffd2 79px,#00fdff 87px,#0094ff 100px,#0000ff 115px,#0000b8 124px,#0000a3 131px,#0000b2 137px,#0000e3 143px,#0007ff 146px,#00d5ff 160px,#03fffc 163px,#86ff79 173px,#f1ff0e 184px,#fff700 187px,#ffb200 200px,#ff7d00 219px,#ff5800 252px,#ff3600 358px,#ff3200)"></i>
<i style="background:linear-gradient(90deg,#ff2100,#ffff00 34px,#91ff6e 56px,#2bffd4 81px,#00fbff 89px,#0089ff 103px,#0000ff 117px,#0000b9 126px,#0000a5 133px,#0000b6 139px,#0000e8 145px,#0000ff 147px,#009eff 158px,#00f9ff 164px,#4effb1 170px,#caff35 181px,#fffb00 188px,#ffb400 201px,#ff8000 219px,#ff5a00 251px,#ff3700 350px,#ff3200)"></i>
<i style="background:linear-gradient(90deg,#ff1c00,#fffe00 35px,#8eff71 58px,#2effd1 82px,#00ffff 90px,#0091ff 104px,#0000fe 119px,#0000ba 128px,#0000a7 135px,#0000ba 141px,#0005ff 149px,#00b3ff 161px,#00feff 166px,#9bff64 178px,#f8ff07 188px,#fff100 191px,#ffae00 204px,#ff7b00 223px,#ff5700 257px,#ff3400 367px,#ff3200)"></i>
<i style="background:linear-gradient(90deg,#ff1800,#fffe00 36px,#8bff74 60px,#2cffd3 84px,#00fdff 92px,#0090ff 106px,#0000fe 121px,#0000bb 130px,#0000aa 137px,#0000be 143px,#0000fd 150px,#006cff 158px,#05fffa 168px,#a0ff5f 180px,#fbff04 190px,#ffb000 205px,#ff7c00 224px,#ff5800 257px,#ff3500 362px,#ff3200)"></i>
<i style="background:linear-gradient(90deg,#ff1400,#fffd00 37px,#8cff73 61px,#2affd5 86px,#00fbff 94px,#008fff 108px,#0000fd 123px,#0000bc 132px,#0000ad 139px,#0000c2 145px,#0003ff 152px,#009fff 163px,#00faff 169px,#a5ff5a 182px,#ffff00 192px,#ffb600 205px,#ff8100 223px,#ff5c00 253px,#ff3900 344px,#ff3200)"></i>
<i style="background:linear-gradient(90deg,#ff1000,#fffd00 38px,#89ff76 63px,#2dffd2 87px,#00f9ff 96px,#0097ff 109px,#0000fd 125px,#0000bd 134px,#0000af 141px,#0000c6 147px,#0000fc 153px,#0059ff 160px,#00ffff 171px,#94ff6b 182px,#f3ff0c 192px,#fff500 195px,#ffb000 208px,#ff7c00 227px,#ff5800 259px,#ff3500 360px,#ff3200)"></i>
<i style="background:linear-gradient(90deg,#ff0c00,#fffc00 39px,#86ff79 65px,#2cffd3 89px,#00ffff 97px,#009eff 110px,#0000fd 127px,#0000be 136px,#0000b2 143px,#0000c9 149px,#0002ff 155px,#008cff 165px,#00f6ff 172px,#15ffea 174px,#99ff66 184px,#f6ff09 194px,#fff200 197px,#ffaf00 210px,#ff7b00 229px,#ff5700 262px,#ff3400 366px,#ff3200)"></i>
<i style="background:linear-gradient(90deg,#ff0800,#fffb00 40px,#84ff7b 67px,#2affd5 91px,#00feff 99px,#009eff 112px,#0000fd 129px,#0000c4 137px,#0000b4 144px,#0000c7 150px,#0000fa 156px,#002cff 160px,#00fdff 174px,#92ff6d 185px,#f2ff0d 195px,#fff600 198px,#ffb100 211px,#ff7c00 230px,#ff5800 262px,#ff3500 361px,#ff3200)"></i>
<i style="background:linear-gradient(90deg,#ff0500,#fffb00 41px,#81ff7e 69px,#29ffd6 93px,#00fdff 101px,#009dff 114px,#0000fd 131px,#0000c5 139px,#0000b6 146px,#0000cb 152px,#0000ff 158px,#0078ff 167px,#05fffa 176px,#8cff73 186px,#eeff11 196px,#fffa00 199px,#ffb300 212px,#ff7f00 230px,#ff5b00 260px,#ff3800 350px,#ff3200)"></i>
<i style="background:linear-gradient(90deg,#ff0200,#fffa00 42px,#83ff7c 70px,#28ffd7 95px,#00fcff 103px,#0093ff 117px,#0000fd 133px,#0000c7 141px,#0000b9 148px,#0000ce 154px,#0005ff 160px,#008cff 170px,#00fbff 177px,#9cff63 189px,#f9ff06 199px,#ffe300 204px,#ffa200 218px,#ff7200 239px,#ff4e00 283px,#ff3200)"></i>
<i style="background:linear-gradient(90deg,#fe0000,#ffff00 44px,#8bff74 69px,#27ffd8 97px,#00fbff 105px,#0093ff 119px,#0000fe 135px,#0000c8 143px,#0000bc 150px,#0000d2 156px,#0000fd 161px,#0065ff 169px,#03fffc 179px,#8aff75 189px,#edff12 199px,#fffb00 202px,#ffb300 215px,#ff7f00 233px,#ff5a00 264px,#ff3700 355px,#ff3200)"></i>
<i style="background:linear-gradient(90deg,#fb0000,#fffe00 45px,#89ff76 71px,#26ffd9 99px,#00fbff 107px,#0092ff 121px,#0000fe 137px,#0000ca 145px,#0000be 152px,#0000d6 158px,#0003ff 163px,#006cff 171px,#00faff 180px,#9bff64 192px,#f8ff07 202px,#fff100 205px,#ffae00 218px,#ff7a00 237px,#ff5500 273px,#ff3200 377px,#ff3200)"></i>
<i style="background:linear-gradient(90deg,#f80000,#ff1800 5px,#fffd00 46px,#87ff78 73px,#25ffda 101px,#00faff 109px,#0092ff 123px,#0000ff 139px,#0000cb 147px,#0000c1 154px,#0000da 160px,#0000fc 164px,#0037ff 169px,#02fffd 182px,#89ff76 192px,#ebff14 202px,#fffc00 205px,#ffb400 218px,#ff7f00 236px,#ff5800 269px,#ff3500 362px,#ff3200)"></i>
<i style="background:linear-gradient(90deg,#f50000,#ff0900 3px,#fffc00 47px,#85ff7a 75px,#25ffda 103px,#00faff 111px,#0092ff 125px,#0000ff 141px,#0000cd 149px,#0000c4 156px,#0000dd 162px,#0001ff 166px,#004eff 172px,#00f8ff 183px,#34ffcb 187px,#aeff51 197px,#feff01 206px,#ffb600 219px,#ff8000 237px,#ff5900 269px,#ff3600 358px,#ff3200)"></i>
<i style="background:linear-gradient(90deg,#f20000,#ff0600 3px,#fdff02 49px,#8aff75 75px,#29ffd6 104px,#00ffff 112px,#00a3ff 125px,#0001ff 143px,#0000cf 151px,#0000c7 158px,#0000e1 164px,#0005ff 168px,#0093ff 178px,#00ffff 185px,#87ff78 195px,#eaff15 205px,#fffd00 208px,#ffb400 221px,#ff7f00 239px,#ff5700 273px,#ff3400 365px,#ff3200)"></i>
<i style="background:linear-gradient(90deg,#f00000,#ff0900 4px,#feff01 50px,#8bff74 76px,#29ffd6 106px,#00ffff 114px,#009aff 128px,#0002ff 145px,#0000cd 154px,#0000cc 161px,#0000ec 167px,#0001ff 169px,#007cff 178px,#00f7ff 186px,#15ffea 188px,#97ff68 198px,#f5ff0a 208px,#fff300 211px,#ffae00 224px,#ff7c00 242px,#ff5500 278px,#ff3200 374px,#ff3200)"></i>
<i style="background:linear-gradient(90deg,#ee0000,#ff0700 4px,#ffff00 51px,#89ff76 78px,#28ffd7 108px,#00ffff 116px,#009aff 130px,#0003ff 147px,#0000cf 156px,#0000cf 163px,#0000ea 168px,#0000fd 170px,#0057ff 177px,#00fdff 188px,#90ff6f 199px,#f1ff0e 209px,#fff700 212px,#ffb100 225px,#ff7d00 243px,#ff5600 278px,#ff3300 370px,#ff3200)"></i>
<i style="background:linear-gradient(90deg,#eb0000,#ff0400 4px,#fffe00 52px,#87ff78 80px,#2cffd3 109px,#00ffff 118px,#009aff 132px,#0004ff 149px,#0000d1 158px,#0000d2 165px,#0000f2 170px,#0006ff 172px,#007cff 181px,#05fffa 190px,#95ff6a 201px,#f4ff0b 211px,#fff400 214px,#ffaf00 227px,#ff7d00 245px,#ff5500 280px,#ff3300 372px,#ff3200)"></i>
<i style="background:linear-gradient(90deg,#e90000,#ff0800 5px,#fdff02 54px,#89ff76 81px,#2cffd3 111px,#00feff 120px,#009aff 134px,#0005ff 151px,#0000d3 160px,#0000d2 166px,#0004ff 173px,#0067ff 181px,#00fcff 191px,#99ff66 203px,#f7ff08 213px,#fff100 216px,#ffad00 229px,#ff7e00 246px,#ff5600 281px,#ff3300 370px,#ff3200)"></i>
<i style="background:linear-gradient(90deg,#e70000,#ff0600 5px,#feff01 55px,#87ff78 83px,#30ffcf 112px,#00feff 122px,#009aff 136px,#0000fe 154px,#0000d6 162px,#0000d6 167px,#0002ff 174px,#0060ff 182px,#03fffc 193px,#93ff6c 204px,#f2ff0d 214px,#fff600 217px,#ffb000 230px,#ff7f00 247px,#ff5700 281px,#ff3400 366px,#ff3200)"></i>
<i style="background:linear-gradient(90deg,#e60000,#ff0400 5px,#ffff00 56px,#89ff76 84px,#30ffcf 114px,#00feff 124px,#009aff 138px,#0000ff 156px,#0000d8 164px,#0000e0 170px,#0001ff 175px,#005aff 183px,#00faff 194px,#a2ff5d 207px,#fdff02 217px,#ffb200 231px,#ff8100 248px,#ff5800 281px,#ff3500 363px,#ff3200)"></i>
<i style="background:linear-gradient(90deg,#e40000,#ff0200 5px,#fffe00 57px,#87ff78 86px,#30ffcf 116px,#00ffff 126px,#009bff 140px,#0001ff 158px,#0000de 165px,#0000e8 172px,#0000ff 176px,#0048ff 183px,#01fffe 196px,#90ff6f 207px,#f0ff0f 217px,#fff700 220px,#ffb000 233px,#ff7e00 251px,#ff5600 285px,#ff3400 369px,#ff3200)"></i>
<i style="background:linear-gradient(90deg,#e20000,#ff0500 6px,#fffd00 58px,#87ff78 88px,#30ffcf 118px,#00ffff 128px,#009bff 142px,#0003ff 160px,#0000e4 167px,#0000ef 174px,#0001ff 177px,#0043ff 184px,#00f8ff 197px,#23ffdc 200px,#abff54 211px,#fbff04 220px,#ffaf00 235px,#ff7b00 254px,#ff5400 289px,#ff3200 376px,#ff3200)"></i>
<i style="background:linear-gradient(90deg,#e00000,#ff0400 6px,#fffb00 59px,#89ff76 89px,#30ffcf 120px,#00ffff 130px,#009cff 144px,#0004ff 162px,#0000e9 170px,#0000fb 177px,#0017ff 181px,#0071ff 189px,#00feff 199px,#99ff66 211px,#feff01 222px,#ffb500 235px,#ff8100 253px,#ff5800 285px,#ff3600 362px,#ff3200)"></i>
<i style="background:linear-gradient(90deg,#df0000,#ff0200 6px,#ffe400 55px,#fbff04 62px,#92ff6d 88px,#30ffcf 122px,#00faff 133px,#0094ff 147px,#000dff 163px,#0000f9 167px,#0000f1 174px,#0003ff 179px,#003cff 186px,#00bdff 196px,#05fffa 201px,#9eff61 213px,#faff05 223px,#ffc100 234px,#ff8900 251px,#ff5d00 280px,#ff3a00 347px,#ff3200)"></i>
<i style="background:linear-gradient(90deg,#dd0000,#ff0600 7px,#fffd00 62px,#95ff6a 89px,#31ffce 124px,#00faff 135px,#0095ff 149px,#0018ff 164px,#0000fc 170px,#0000fa 177px,#000aff 181px,#0043ff 188px,#00d2ff 199px,#00fcff 202px,#a2ff5d 215px,#fcff03 225px,#ffb300 239px,#ff7d00 258px,#ff5500 292px,#ff3300 372px,#ff3200)"></i>
<i style="background:linear-gradient(90deg,#dc0000,#ff0400 7px,#ffbf00 49px,#f9ff06 65px,#9bff64 89px,#31ffce 126px,#00faff 137px,#0096ff 151px,#0023ff 165px,#0001ff 173px,#0004ff 180px,#002dff 187px,#0086ff 195px,#03fffc 204px,#9bff64 216px,#ffff00 227px,#ffba00 239px,#ff8300 257px,#ff5900 288px,#ff3700 358px,#ff3200)"></i>
<i style="background:linear-gradient(90deg,#db0000,#ff0300 7px,#ffa500 44px,#fbff04 66px,#a1ff5e 89px,#31ffce 128px,#00fbff 139px,#0096ff 153px,#002eff 166px,#0009ff 174px,#0008ff 181px,#002cff 188px,#0080ff 196px,#00faff 205px,#aaff55 219px,#fbff04 228px,#ffb500 242px,#ff7e00 261px,#ff5500 294px,#ff3400 370px,#ff3200)"></i>
<i style="background:linear-gradient(90deg,#d90000,#ff0100 7px,#ff9500 41px,#fcff03 67px,#a8ff57 89px,#2effd1 131px,#00fcff 141px,#0097ff 155px,#0033ff 168px,#000fff 176px,#000fff 183px,#0034ff 190px,#0087ff 198px,#01fffe 207px,#98ff67 219px,#fdff02 230px,#ffb800 243px,#ff8100 261px,#ff5800 292px,#ff3700 361px,#ff3200)"></i>
<i style="background:linear-gradient(90deg,#d80000,#ff0500 8px,#ff9600 42px,#faff05 69px,#a8ff57 91px,#2effd1 133px,#00fcff 143px,#0098ff 157px,#0032ff 171px,#0013ff 179px,#0019ff 186px,#0043ff 193px,#00a8ff 202px,#00f8ff 208px,#2fffd0 212px,#b1ff4e 223px,#fffe00 232px,#ffb700 245px,#ff7f00 264px,#ff5500 297px,#ff3400 370px,#ff3200)"></i>
<i style="background:linear-gradient(90deg,#d70000,#ff0400 8px,#ff8b00 40px,#fbff04 70px,#abff54 92px,#2fffd0 135px,#00fdff 145px,#008aff 161px,#002dff 175px,#0018ff 183px,#0028ff 190px,#005dff 197px,#00d6ff 207px,#00feff 210px,#a0ff5f 223px,#fbff04 233px,#ffb100 248px,#ff7c00 267px,#ff5300 301px,#ff3200)"></i>
<i style="background:linear-gradient(90deg,#d60000,#ff0200 8px,#ff8000 38px,#fdff02 71px,#a8ff57 95px,#2fffd0 137px,#00feff 147px,#0037ff 176px,#001fff 184px,#002bff 191px,#005aff 198px,#00cfff 208px,#05fffa 212px,#a4ff5b 225px,#fdff02 235px,#ffb400 249px,#ff7d00 268px,#ff5300 302px,#ff3200)"></i>
<i style="background:linear-gradient(90deg,#d50000,#ff0100 8px,#ff7a00 37px,#fbff04 73px,#8eff71 106px,#30ffcf 139px,#00feff 149px,#003dff 178px,#0025ff 186px,#0032ff 193px,#0061ff 200px,#00d5ff 210px,#00fcff 213px,#a8ff57 227px,#ffff00 237px,#ffb700 250px,#ff8100 268px,#ff5700 299px,#ff3600 364px,#ff3200)"></i>
<i style="background:linear-gradient(90deg,#d40000,#ff0500 9px,#ff7b00 38px,#fcff03 74px,#79ff86 116px,#2cffd3 142px,#00faff 152px,#0042ff 180px,#002cff 188px,#0038ff 195px,#0068ff 202px,#00dbff 212px,#03fffc 215px,#a2ff5d 228px,#faff05 238px,#ffab00 255px,#ff7600 275px,#ff4c00 314px,#ff3300)"></i>
<i style="background:linear-gradient(90deg,#d30000,#ff0400 9px,#ff7500 37px,#faff05 76px,#67ff98 125px,#29ffd6 145px,#00fbff 154px,#0048ff 182px,#0032ff 190px,#003fff 197px,#006fff 204px,#00e1ff 214px,#00fbff 216px,#b0ff4f 231px,#fcff03 240px,#ffad00 256px,#ff7800 276px,#ff4d00 314px,#ff3300)"></i>
<i style="background:linear-gradient(90deg,#d20000,#ff0300 9px,#ff6f00 36px,#fcff03 77px,#58ffa7 133px,#1cffe3 150px,#00fcff 156px,#004dff 184px,#0039ff 192px,#0046ff 199px,#0076ff 206px,#00e7ff 216px,#01fffe 218px,#9fff60 231px,#fdff02 242px,#ffb400 256px,#ff7d00 275px,#ff5000 310px,#ff3300)"></i>
<i style="background:linear-gradient(90deg,#d10000,#ff0200 9px,#ff6a00 35px,#fbff04 79px,#2fffd0 148px,#00feff 158px,#0053ff 186px,#003fff 194px,#004dff 201px,#007cff 208px,#00edff 218px,#07fff8 220px,#a2ff5d 233px,#ffff00 244px,#ffb700 257px,#ff8000 275px,#ff5300 308px,#ff3300)"></i>
<i style="background:linear-gradient(90deg,#d00000,#ff0100 9px,#ff6800 35px,#fbff04 81px,#30ffcf 150px,#00fbff 161px,#0059ff 188px,#0046ff 196px,#0054ff 203px,#0083ff 210px,#00ffff 221px,#9aff65 234px,#faff05 245px,#ffaa00 262px,#ff7600 282px,#ff4c00 319px,#ff3300)"></i>
<i style="background:linear-gradient(90deg,#cf0000,#ff0000 9px,#ff6300 34px,#ffff00 82px,#2dffd2 153px,#00feff 163px,#005eff 190px,#004cff 198px,#005bff 205px,#008aff 212px,#00f8ff 222px,#1effe1 225px,#a7ff58 237px,#fcff03 247px,#ffad00 263px,#ff7700 283px,#ff4c00 319px,#ff3300)"></i>
<i style="background:linear-gradient(90deg,#cf0000,#ff0400 10px,#ff6500 35px,#ffff00 84px,#2effd1 155px,#00fbff 166px,#0064ff 192px,#0053ff 200px,#0061ff 207px,#0090ff 214px,#00feff 224px,#aaff55 239px,#feff01 249px,#ffb400 263px,#ff7c00 282px,#ff4f00 316px,#ff3300)"></i>
<i style="background:linear-gradient(90deg,#ce0000,#ff0400 10px,#ff6400 35px,#ffff00 86px,#2cffd3 158px,#00feff 168px,#006aff 194px,#0059ff 202px,#006dff 210px,#00a9ff 218px,#04fffb 226px,#a3ff5c 240px,#ffff00 251px,#ffb300 265px,#ff7b00 284px,#ff5000 317px,#ff3400)"></i>
<i style="background:linear-gradient(90deg,#cd0000,#ff0300 10px,#ff6200 35px,#ffff00 88px,#27ffd8 162px,#00fcff 171px,#0074ff 195px,#0060ff 204px,#0074ff 212px,#00b0ff 220px,#00fdff 227px,#b0ff4f 243px,#fffd00 253px,#ffb200 267px,#ff7b00 286px,#ff5000 318px,#ff3400)"></i>
<i style="background:linear-gradient(90deg,#cc0000,#ff0200 10px,#ff5e00 34px,#fdff02 91px,#29ffd6 164px,#00faff 174px,#007aff 197px,#0066ff 206px,#007aff 214px,#00b6ff 222px,#03fffc 229px,#a9ff56 244px,#fcff03 254px,#ffad00 270px,#ff7600 290px,#ff4e00 322px,#ff3400)"></i>
<i style="background:linear-gradient(90deg,#cc0000,#ff0200 10px,#ff5d00 34px,#feff01 93px,#27ffd8 167px,#00fdff 176px,#007fff 199px,#006dff 208px,#0081ff 216px,#00bcff 224px,#00fcff 230px,#beff41 248px,#feff01 256px,#ffb400 270px,#ff7b00 289px,#ff5100 319px,#ff3400)"></i>
<i style="background:linear-gradient(90deg,#cb0000,#ff0100 10px,#ff5900 33px,#ffff00 95px,#2affd5 169px,#00fbff 179px,#0085ff 201px,#0073ff 210px,#0088ff 218px,#00c2ff 226px,#02fffd 232px,#b8ff47 249px,#fffe00 258px,#ffb300 272px,#ff7b00 291px,#ff5100 320px,#ff3400)"></i>
<i style="background:linear-gradient(90deg,#ca0000,#ff0500 11px,#ff5e00 35px,#fffe00 97px,#2dffd2 171px,#00f9ff 182px,#008bff 203px,#007aff 212px,#008eff 220px,#00c9ff 228px,#00fcff 233px,#c3ff3c 252px,#fffc00 260px,#ffb200 274px,#ff7a00 293px,#ff5100 321px,#ff3500)"></i>
<i style="background:linear-gradient(90deg,#ca0000,#ff0400 11px,#ff5a00 34px,#ffef00 93px,#f9ff06 102px,#2bffd4 174px,#00fdff 184px,#0091ff 205px,#0081ff 214px,#0095ff 222px,#00cfff 230px,#02fffd 235px,#bdff42 253px,#fdff02 261px,#ffac00 277px,#ff7200 298px,#ff4c00 329px,#ff3500)"></i>
<i style="background:linear-gradient(90deg,#c90000,#ff0400 11px,#ff5900 34px,#ffe000 89px,#faff05 104px,#2effd1 176px,#00fcff 187px,#0097ff 207px,#0087ff 216px,#009bff 224px,#00d5ff 232px,#00fcff 236px,#c8ff37 256px,#ffff00 263px,#ffb300 277px,#ff7700 297px,#ff4f00 326px,#ff3500)"></i>
<i style="background:linear-gradient(90deg,#c80000,#ff0300 11px,#ff5800 34px,#ffd500 86px,#fbff04 106px,#2dffd2 179px,#00faff 190px,#009dff 209px,#008eff 218px,#00a2ff 226px,#00dbff 234px,#02fffd 238px,#c2ff3d 257px,#fffe00 265px,#ffb200 279px,#ff7400 300px,#ff4d00 330px,#ff3500)"></i>
<i style="background:linear-gradient(90deg,#c80000,#ff0200 11px,#ff5700 34px,#ffca00 83px,#faff05 109px,#30ffcf 181px,#00f9ff 193px,#00a0ff 212px,#0095ff 221px,#00aeff 229px,#00f3ff 238px,#08fff7 240px,#c5ff3a 259px,#fffc00 267px,#ffb100 281px,#ff7300 302px,#ff4c00 333px,#ff3600)"></i>
<i style="background:linear-gradient(90deg,#c70000,#ff0200 11px,#ff5400 33px,#ffbf00 79px,#fbff04 111px,#2fffd0 184px,#00fdff 195px,#00a6ff 214px,#009cff 223px,#00b5ff 231px,#04fffb 241px,#c8ff37 261px,#fdff02 268px,#ffb000 283px,#ff7100 304px,#ff4b00 335px,#ff3600)"></i>
<i style="background:linear-gradient(90deg,#c60000,#ff0100 11px,#ff5300 33px,#ffb600 76px,#faff05 114px,#32ffcd 186px,#00fdff 198px,#00acff 216px,#00a3ff 225px,#00bcff 233px,#00ffff 242px,#d2ff2d 264px,#ffff00 270px,#ffb300 284px,#ff7400 304px,#ff4d00 334px,#ff3600)"></i>
<i style="background:linear-gradient(90deg,#c60000,#ff0100 11px,#ff5200 33px,#ffaf00 74px,#fcff03 116px,#32ffcd 189px,#00fcff 201px,#00b2ff 218px,#00aaff 227px,#00c3ff 235px,#05fffa 244px,#d5ff2a 266px,#fffd00 272px,#ffb200 286px,#ff7500 305px,#ff4e00 334px,#ff3600)"></i>
<i style="background:linear-gradient(90deg,#c50000,#ff0000 11px,#ff5200 33px,#ffaa00 72px,#fbff04 119px,#35ffca 191px,#00fcff 204px,#00b9ff 220px,#00b1ff 229px,#00c9ff 237px,#02fffd 245px,#d8ff27 268px,#fffb00 274px,#ffb000 288px,#ff7600 306px,#ff4f00 334px,#ff3700)"></i>
<i style="background:linear-gradient(90deg,#c40000,#ff0400 12px,#ff5400 34px,#ffa700 72px,#faff05 122px,#34ffcb 194px,#00fcff 207px,#00bdff 223px,#00b9ff 232px,#00d5ff 240px,#00ffff 246px,#e2ff1d 271px,#ffff00 275px,#ffaf00 290px,#ff7500 308px,#ff4d00 337px,#ff3700)"></i>
<i style="background:linear-gradient(90deg,#c40000,#ff0400 12px,#ff5400 34px,#ffa400 71px,#fcff03 124px,#38ffc7 196px,#00fcff 210px,#00c3ff 225px,#00c0ff 234px,#00e2ff 243px,#06fff9 248px,#e4ff1b 273px,#fffd00 277px,#ffa800 293px,#ff7200 311px,#ff4b00 341px,#ff3700)"></i>
<i style="background:linear-gradient(90deg,#c30000,#ff0300 12px,#ff5300 34px,#ff9f00 69px,#fff800 122px,#efff10 132px,#38ffc7 199px,#00fcff 213px,#00caff 227px,#00c7ff 236px,#00e8ff 245px,#04fffb 249px,#e7ff18 275px,#fffb00 279px,#ffa600 295px,#ff7000 313px,#ff4a00 344px,#ff3800)"></i>
<i style="background:linear-gradient(90deg,#c20000,#ff0300 12px,#ff5300 34px,#ff9c00 68px,#fff600 124px,#f6ff09 132px,#42ffbd 199px,#00fdff 216px,#00cfff 230px,#00d0ff 239px,#00f5ff 248px,#0afff5 251px,#f0ff0f 278px,#fff900 281px,#ffa400 297px,#ff6f00 315px,#ff4900 346px,#ff3800)"></i>
<i style="background:linear-gradient(90deg,#c20000,#ff0200 12px,#ff5200 34px,#ff9900 67px,#fff200 125px,#f8ff07 134px,#4fffb0 198px,#00faff 220px,#00d4ff 234px,#00dcff 243px,#02fffd 251px,#7fff80 266px,#faff05 281px,#ffb400 295px,#ff7900 312px,#ff5000 339px,#ff3900)"></i>
<i style="background:linear-gradient(90deg,#c10000,#ff0200 12px,#ff5200 34px,#ff9700 67px,#fff000 127px,#f8ff07 137px,#66ff99 193px,#14ffeb 217px,#00f9ff 224px,#00daff 237px,#00e5ff 246px,#02fffd 252px,#69ff96 265px,#f5ff0a 282px,#ffef00 286px,#ffa000 301px,#ff6b00 320px,#ff4600 353px,#ff3900)"></i>
<i style="background:linear-gradient(90deg,#c00000,#ff0100 12px,#ff5100 34px,#ff9500 66px,#ffed00 128px,#f8ff07 140px,#7dff82 188px,#21ffde 217px,#00fbff 227px,#00e1ff 239px,#00ecff 248px,#03fffc 253px,#5cffa3 265px,#f7ff08 284px,#ffec00 288px,#ff9e00 303px,#ff6a00 322px,#ff4500 356px,#ff3900)"></i>
<i style="background:linear-gradient(90deg,#c00000,#ff0100 12px,#ff5100 34px,#ff9200 65px,#ffeb00 130px,#faff05 142px,#8fff70 185px,#1fffe0 221px,#00fcff 231px,#00e8ff 243px,#00faff 252px,#1bffe4 258px,#faff05 286px,#ffa000 304px,#ff6d00 322px,#ff4700 354px,#ff3a00)"></i>
<i style="background:linear-gradient(90deg,#bf0000,#ff0000 12px,#ff4e00 33px,#ff8f00 63px,#ffe900 132px,#f9ff06 146px,#93ff6c 187px,#00fcff 235px,#00efff 246px,#06fff9 255px,#4dffb2 266px,#fdff02 288px,#ffa700 304px,#ff7000 322px,#ff4900 352px,#ff3a00)"></i>
<i style="background:linear-gradient(90deg,#be0000,#ff0000 12px,#ff5000 34px,#ff8f00 64px,#ffe800 134px,#faff05 149px,#9aff65 188px,#00feff 239px,#00f8ff 250px,#09fff6 256px,#43ffbc 266px,#fffe00 290px,#ffa900 305px,#ff7300 322px,#ff4c00 350px,#ff3b00)"></i>
<i style="background:linear-gradient(90deg,#be0000,#ff0400 13px,#ff5300 35px,#ff9000 65px,#ffe600 136px,#faff05 153px,#98ff67 192px,#02fffd 243px,#06fff9 255px,#34ffcb 265px,#fcff03 291px,#ffa300 308px,#ff6d00 326px,#ff4800 357px,#ff3b00)"></i>
<i style="background:linear-gradient(90deg,#bd0000,#ff0300 13px,#ff5200 35px,#ff8f00 65px,#ffe400 138px,#f9ff06 157px,#99ff66 195px,#09fff6 245px,#08fff7 255px,#28ffd7 264px,#8cff73 278px,#ffff00 293px,#ffa900 308px,#ff7300 325px,#ff4c00 353px,#ff3c00)"></i>
<i style="background:linear-gradient(90deg,#bc0000,#ff0300 13px,#ff5200 35px,#ff8d00 64px,#ffe400 141px,#fbff04 160px,#9dff62 197px,#10ffef 247px,#0ffff0 257px,#34ffcb 267px,#a8ff57 283px,#fffc00 295px,#ffa700 310px,#ff7100 327px,#ff4b00 355px,#ff3d00)"></i>
<i style="background:linear-gradient(90deg,#bb0000,#ff0200 13px,#ff5100 35px,#ff8d00 64px,#ffe500 146px,#faff05 164px,#9fff60 200px,#17ffe8 249px,#18ffe7 260px,#40ffbf 270px,#feff01 296px,#ffaa00 311px,#ff7200 328px,#ff4c00 356px,#ff3d00)"></i>
<i style="background:linear-gradient(90deg,#bb0000,#ff0200 13px,#ff4e00 34px,#ff8900 62px,#ffe700 151px,#faff05 168px,#9dff62 204px,#1effe1 251px,#1fffe0 262px,#46ffb9 272px,#fffd00 298px,#ffa800 313px,#ff7100 330px,#ff4b00 358px,#ff3e00)"></i>
<i style="background:linear-gradient(90deg,#ba0000,#ff0100 13px,#ff4e00 34px,#ff8900 62px,#ffe700 155px,#faff05 172px,#9eff61 207px,#25ffda 253px,#26ffd9 264px,#4cffb3 274px,#fdff02 299px,#ffa600 315px,#ff7000 332px,#ff4b00 360px,#ff3e00)"></i>
<i style="background:linear-gradient(90deg,#b90000,#ff0000 13px,#ff4e00 34px,#ff8800 62px,#ffe700 159px,#faff05 176px,#9dff62 211px,#2bffd4 255px,#2cffd3 266px,#52ffad 276px,#cdff32 294px,#fffe00 301px,#ffa800 316px,#ff7100 333px,#ff4b00 361px,#ff3f00)"></i>
<i style="background:linear-gradient(90deg,#b80000,#ff0000 13px,#ff4d00 34px,#ff8800 62px,#ffb800 116px,#ffeb00 166px,#faff05 180px,#91ff6e 219px,#31ffce 258px,#35ffca 269px,#5dffa2 279px,#d8ff27 297px,#fffb00 303px,#ffa600 318px,#ff7000 335px,#ff4a00 363px,#ff4000)"></i>
<i style="background:linear-gradient(90deg,#b80000,#fe0000 13px,#ff5000 35px,#ff8900 63px,#ffb700 116px,#ffe800 168px,#faff05 184px,#3effc1 256px,#37ffc8 268px,#54ffab 278px,#a8ff57 292px,#ffff00 304px,#ffa800 319px,#ff7100 336px,#ff4b00 364px,#ff4100)"></i>
<i style="background:linear-gradient(90deg,#b70000,#ff0300 14px,#ff4f00 35px,#ff8700 62px,#ffb200 111px,#ffe200 168px,#faff05 188px,#48ffb7 256px,#3dffc2 269px,#56ffa9 279px,#9eff61 292px,#fffc00 306px,#ffa600 321px,#ff7000 338px,#ff4900 367px,#ff4100)"></i>
<i style="background:linear-gradient(90deg,#b60000,#ff0300 14px,#ff4f00 35px,#ff8700 62px,#ffb000 109px,#ffdd00 169px,#faff05 192px,#51ffae 257px,#44ffbb 271px,#60ff9f 282px,#a9ff56 295px,#feff01 307px,#ffa400 323px,#ff6f00 340px,#ff4800 370px,#ff4200)"></i>
<i style="background:linear-gradient(90deg,#b50000,#ff0200 14px,#ff4f00 35px,#ff8600 62px,#ffae00 108px,#ffda00 171px,#faff05 196px,#5bffa4 257px,#4affb5 272px,#65ff9a 284px,#adff52 297px,#fffd00 309px,#ffa700 324px,#ff7000 341px,#ff4800 371px,#ff4300)"></i>
<i style="background:linear-gradient(90deg,#b50000,#ff0200 14px,#ff4e00 35px,#ff8600 62px,#ffad00 107px,#ffd800 173px,#faff05 200px,#61ff9e 259px,#51ffae 274px,#6aff95 286px,#b0ff4f 299px,#fffa00 311px,#ffa500 326px,#ff6e00 343px,#ff4700 374px,#ff4400)"></i>
<i style="background:linear-gradient(90deg,#b40000,#ff0100 14px,#ff4e00 35px,#ff8600 62px,#ffac00 106px,#ffd500 175px,#faff05 204px,#69ff96 260px,#58ffa7 276px,#6fff90 288px,#aeff51 300px,#fffe00 312px,#ffa700 327px,#ff7000 344px,#ff4800 374px,#ff4500)"></i>
<i style="background:linear-gradient(90deg,#b30000,#ff0100 14px,#ff4e00 35px,#ff8600 62px,#ffab00 105px,#ffd200 177px,#faff05 208px,#6fff90 262px,#5fffa0 278px,#70ff8f 289px,#abff54 301px,#fffb00 314px,#ffa100 330px,#ff6d00 347px,#ff4600)"></i>
<i style="background:linear-gradient(90deg,#b20000,#ff0000 14px,#ff4d00 35px,#ff8400 61px,#ffa900 103px,#ffd000 180px,#fbff04 212px,#75ff8a 264px,#65ff9a 281px,#79ff86 292px,#b6ff49 304px,#fffe00 315px,#ffa300 331px,#ff7000 347px,#ff4800 377px,#ff4700)"></i>
<i style="background:linear-gradient(90deg,#b20000,#ff0000 14px,#ff5000 36px,#ff8600 63px,#ffaa00 106px,#ffce00 183px,#faff05 217px,#7bff84 266px,#6bff94 284px,#81ff7e 295px,#c6ff39 308px,#fffb00 317px,#ffa100 333px,#ff6f00 349px,#ff4800)"></i>
<i style="background:linear-gradient(90deg,#b10000,#fe0000 14px,#ff5000 36px,#ff8500 62px,#ffa900 104px,#ffcd00 186px,#fffd00 218px,#afff50 249px,#7bff84 272px,#72ff8d 288px,#8eff71 299px,#e4ff1b 314px,#ffff00 318px,#ffa400 334px,#ff7100 350px,#ff4a00)"></i>
<i style="background:linear-gradient(90deg,#b00000,#fe0000 14px,#ff5200 37px,#ff8700 64px,#ffaa00 107px,#ffcb00 189px,#fffb00 222px,#c1ff3e 247px,#84ff7b 272px,#78ff87 290px,#93ff6c 301px,#e8ff17 316px,#fffc00 320px,#ffa200 336px,#ff7000 352px,#ff4b00)"></i>
<i style="background:linear-gradient(90deg,#af0000,#ff0300 15px,#ff4f00 36px,#ff8400 62px,#ffa800 103px,#ffc900 192px,#fff800 225px,#efff10 235px,#8dff72 272px,#7dff82 291px,#94ff6b 302px,#deff21 316px,#ffff00 321px,#ffa000 338px,#ff6b00 356px,#ff4c00)"></i>
<i style="background:linear-gradient(90deg,#ae0000,#ff0200 15px,#ff4f00 36px,#ff8400 62px,#ffa800 103px,#ffc700 195px,#fff200 227px,#f7ff08 236px,#92ff6d 275px,#84ff7b 294px,#9cff63 305px,#e8ff17 319px,#fffc00 323px,#ff9e00 340px,#ff6800 359px,#ff4e00)"></i>
<i style="background:linear-gradient(90deg,#ae0000,#ff0200 15px,#ff4e00 36px,#ff8400 62px,#ffa800 103px,#ffc600 199px,#fff100 231px,#f9ff06 240px,#96ff69 278px,#89ff76 296px,#a1ff5e 307px,#ebff14 321px,#fff900 325px,#ffa000 341px,#ff6900 360px,#ff4f00)"></i>
<i style="background:linear-gradient(90deg,#ad0000,#ff0100 15px,#ff4e00 36px,#ff8400 62px,#ffa700 103px,#ffc400 202px,#ffec00 233px,#faff05 244px,#9bff64 281px,#90ff6f 299px,#a9ff56 310px,#fffc00 326px,#ffa300 342px,#ff6c00 360px,#ff5100)"></i>
<i style="background:linear-gradient(90deg,#ac0000,#ff0100 15px,#ff4e00 36px,#ff8300 62px,#ffa700 103px,#ffc200 205px,#ffe800 236px,#f9ff06 249px,#a1ff5e 283px,#96ff69 301px,#aeff51 312px,#ffff00 327px,#ffa700 343px,#ff6e00 361px,#ff5200)"></i>
<i style="background:linear-gradient(90deg,#ab0000,#ff0000 15px,#ff4d00 36px,#ff8500 63px,#ffa700 104px,#ffc100 209px,#ffe600 240px,#fbff04 253px,#a5ff5a 286px,#9cff63 304px,#b7ff48 315px,#fffc00 329px,#ffaa00 344px,#ff6f00 362px,#ff5400)"></i>
<i style="background:linear-gradient(90deg,#ab0000,#fe0000 15px,#ff5000 37px,#ff8600 64px,#ffa800 106px,#ffc000 214px,#ffe500 244px,#faff05 258px,#aaff55 289px,#a2ff5d 306px,#bbff44 317px,#ffff00 330px,#ffa900 346px,#ff6e00 364px,#ff5600)"></i>
<i style="background:linear-gradient(90deg,#aa0000,#fe0000 15px,#ff5000 37px,#ff8600 64px,#ffa800 105px,#ffbe00 218px,#ffe300 248px,#fbff04 262px,#b0ff4f 291px,#a8ff57 309px,#c4ff3b 320px,#fffc00 332px,#ffa300 349px,#ff6c00 367px,#ff5800)"></i>
<i style="background:linear-gradient(90deg,#a90000,#fd0000 15px,#ff5200 38px,#ff8800 66px,#ffa900 108px,#ffbd00 222px,#ffe100 252px,#faff05 267px,#b6ff49 293px,#aeff51 311px,#c9ff36 322px,#fffe00 333px,#ff9a00 353px,#ff6500 372px,#ff5b00)"></i>
<i style="background:linear-gradient(90deg,#a80000,#fd0000 15px,#ff5400 39px,#ff8900 67px,#ffa900 110px,#ffbb00 226px,#ffdf00 256px,#faff05 272px,#bbff44 296px,#b4ff4b 313px,#d1ff2e 325px,#fffb00 335px,#ff9200 357px,#ff6000 376px,#ff5d00)"></i>
<i style="background:linear-gradient(90deg,#a80000,#fc0000 15px,#ff5400 39px,#ff8900 67px,#ffa900 110px,#ffba00 230px,#ffdd00 260px,#faff05 276px,#c0ff3f 299px,#baff45 316px,#daff25 328px,#fffd00 336px,#ff9100 359px,#ff6000)"></i>
<i style="background:linear-gradient(90deg,#a70000,#ff0200 16px,#ff4e00 37px,#ff8500 64px,#ffa700 105px,#ffb900 235px,#ffdb00 264px,#fbff04 280px,#c4ff3b 302px,#c1ff3e 319px,#e2ff1d 331px,#fffa00 338px,#ff8c00 362px,#ff6300)"></i>
<i style="background:linear-gradient(90deg,#a60000,#ff0100 16px,#ff4e00 37px,#ff8500 64px,#ffa700 105px,#ffae00 192px,#ffba00 244px,#ffdf00 271px,#fbff04 284px,#c9ff36 305px,#c8ff37 322px,#ebff14 334px,#fff900 340px,#ff8b00 364px,#ff6600)"></i>
<i style="background:linear-gradient(90deg,#a50000,#ff0100 16px,#ff4e00 37px,#ff8400 64px,#ffa700 105px,#ffae00 188px,#ffb700 246px,#ffda00 273px,#f9ff06 289px,#cdff32 309px,#cfff30 325px,#faff05 339px,#ffdb00 348px,#ff8400 368px,#ff6900)"></i>
<i style="background:linear-gradient(90deg,#a50000,#ff0000 16px,#ff4d00 37px,#ff8600 65px,#ffa700 106px,#ffad00 189px,#ffb500 249px,#ffd400 275px,#faff05 293px,#d2ff2d 312px,#d6ff29 328px,#fffa00 343px,#ff8600 369px,#ff6d00)"></i>
<i style="background:linear-gradient(90deg,#a40000,#ff0000 16px,#ff5000 38px,#ff8700 66px,#ffa800 108px,#ffac00 194px,#ffb300 253px,#ffcf00 277px,#fcff03 297px,#d7ff28 316px,#ddff22 331px,#fffd00 344px,#ff8500 371px,#ff7100)"></i>
<i style="background:linear-gradient(90deg,#a30000,#fe0000 16px,#ff5000 38px,#ff8700 66px,#ffa800 108px,#ffac00 191px,#ffb000 256px,#ffca00 279px,#fbff04 302px,#dbff24 320px,#e5ff1a 335px,#fffb00 346px,#ff8400 373px,#ff7500)"></i>
<i style="background:linear-gradient(90deg,#a30000,#fe0000 16px,#ff5200 39px,#ff8900 68px,#ffa900 111px,#ffab00 199px,#ffaf00 261px,#ffcb00 284px,#faff05 307px,#e1ff1e 324px,#f1ff0e 342px,#fffa00 348px,#ff8300 375px,#ff7a00)"></i>
<i style="background:linear-gradient(90deg,#a20000,#fd0000 16px,#ff5200 39px,#ff8900 68px,#ffa900 111px,#ffab00 197px,#ffad00 264px,#ffca00 288px,#faff05 312px,#e6ff19 328px,#f3ff0c 344px,#fff800 350px,#ff7f00)"></i>
<i style="background:linear-gradient(90deg,#a10000,#fd0000 16px,#ff5200 39px,#ff8900 68px,#ffa900 111px,#ffab00 196px,#ffaa00 267px,#ffc900 292px,#fcff03 316px,#ecff13 331px,#f6ff09 346px,#fff600 352px,#ff8500)"></i>
<i style="background:linear-gradient(90deg,#a10000,#fc0000 16px,#ff5400 40px,#ff8a00 69px,#ffa900 112px,#ffaa00 198px,#ffa800 270px,#ffc600 295px,#fbff04 322px,#f0ff0f 342px,#fff800 353px,#ff8b00)"></i>
<i style="background:linear-gradient(90deg,#a00000,#fc0000 16px,#ff5400 40px,#ff8a00 69px,#ffa900 112px,#ffaa00 197px,#ffa700 274px,#ffc500 299px,#fdff02 327px,#f5ff0a 346px,#fffa00 354px,#ff9200)"></i>
<i style="background:linear-gradient(90deg,#9f0000,#fb0000 16px,#ff5300 40px,#ff8900 69px,#ffa900 112px,#ffaa00 196px,#ffa500 277px,#ffc200 302px,#feff01 333px,#f9ff06 349px,#fff800 356px,#ff9900)"></i>
<i style="background:linear-gradient(90deg,#9f0000,#fb0000 16px,#ff5600 41px,#ff8b00 70px,#ffa900 114px,#ffaa00 200px,#ffa300 281px,#ffc000 306px,#feff01 338px,#feff01 353px,#ffdd00 365px,#ffa100)"></i>
<i style="background:linear-gradient(90deg,#9e0000,#ff0000 17px,#ff4d00 38px,#ff8500 66px,#ffa700 107px,#ffac00 183px,#ffa100 284px,#ffbf00 310px,#fffe00 343px,#fff900 358px,#ffc500 372px,#ffa900)"></i>
<i style="background:linear-gradient(90deg,#9d0000,#ff0000 17px,#ff4d00 38px,#ff8500 66px,#ffa700 107px,#ffac00 183px,#ff9f00 287px,#ffbb00 313px,#fffb00 346px,#fff600 360px,#ffc400 374px,#ffb200)"></i>
<i style="background:linear-gradient(90deg,#9d0000,#fe0000 17px,#ff4d00 38px,#ff8500 66px,#ffa700 107px,#ffac00 182px,#ff9e00 291px,#ffb900 317px,#fff700 348px,#fff400 362px,#ffc300 376px,#ffba00)"></i>
<i style="background:linear-gradient(90deg,#9c0000,#fe0000 17px,#ff4f00 39px,#ff8600 67px,#ffa700 109px,#ffab00 187px,#ff9c00 295px,#ffb800 321px,#fff400 351px,#fff000 365px,#ffc200)"></i>
<i style="background:linear-gradient(90deg,#9b0000,#fd0000 17px,#ff4f00 39px,#ff8600 67px,#ffa700 109px,#ffab00 186px,#ff9a00 299px,#ffb600 325px,#fff000 353px,#ffed00 367px,#ffca00)"></i>
<i style="background:linear-gradient(90deg,#9b0000,#fd0000 17px,#ff4f00 39px,#ff8600 67px,#ffa700 109px,#ffab00 186px,#ff9800 302px,#ffb400 329px,#ffec00 355px,#ffeb00 369px,#ffd100)"></i>
<i style="background:linear-gradient(90deg,#9a0000,#fd0000 17px,#ff5100 40px,#ff8800 69px,#ffa800 112px,#ffaa00 193px,#ff9600 306px,#ffaf00 331px,#ffe900 358px,#ffe700 372px,#ffd700)"></i>
<i style="background:linear-gradient(90deg,#9a0000,#fc0000 17px,#ff5100 40px,#ff8700 68px,#ffa700 110px,#ffab00 188px,#ff9500 310px,#ffab00 333px,#ffe500 361px,#ffe300 375px,#ffdb00)"></i>
<i style="background:linear-gradient(90deg,#990000,#fc0000 17px,#ff5000 40px,#ff8700 68px,#ffa700 110px,#ffab00 188px,#ff9300 314px,#ffa900 336px,#ffe200 364px,#ffe000 377px,#ffde00)"></i>
<i style="background:linear-gradient(90deg,#980000,#fb0000 17px,#ff5300 41px,#ff8900 70px,#ffa800 113px,#ffaa00 194px,#ff9100 318px,#ffa700 339px,#ffde00 366px,#ffdf00)"></i>
<i style="background:linear-gradient(90deg,#980000,#fb0000 17px,#ff5300 41px,#ff8900 70px,#ffa800 113px,#ffaa00 194px,#ff8f00 322px,#ffa600 343px,#ffdb00 369px,#ffde00)"></i>
</div>
<div class="cb" style="left:494px;top:472px;width:21px;height:353px;background:linear-gradient(180deg,#800000 0.00%,#bf0000 6.25%,#ff0000 12.50%,#ff4000 18.75%,#ff8000 25.00%,#ffbf00 31.25%,#ffff00 37.50%,#bfff40 43.75%,#80ff80 50.00%,#40ffbf 56.25%,#00ffff 62.50%,#00bfff 68.75%,#0080ff 75.00%,#0040ff 81.25%,#0000ff 87.50%,#0000bf 93.75%,#000080 100.00%)"></div>
<div class="cb" style="left:1068px;top:471px;width:21px;height:354px;background:linear-gradient(180deg,#800000 0.00%,#bf0000 6.25%,#ff0000 12.50%,#ff4000 18.75%,#ff8000 25.00%,#ffbf00 31.25%,#ffff00 37.50%,#bfff40 43.75%,#80ff80 50.00%,#40ffbf 56.25%,#00ffff 62.50%,#00bfff 68.75%,#0080ff 75.00%,#0040ff 81.25%,#0000ff 87.50%,#0000bf 93.75%,#000080 100.00%)"></div>
<div class="cb" style="left:1648px;top:470px;width:22px;height:352px;background:linear-gradient(180deg,#800000 0.00%,#bf0000 6.25%,#ff0000 12.50%,#ff4000 18.75%,#ff8000 25.00%,#ffbf00 31.25%,#ffff00 37.50%,#bfff40 43.75%,#80ff80 50.00%,#40ffbf 56.25%,#00ffff 62.50%,#00bfff 68.75%,#0080ff 75.00%,#0040ff 81.25%,#0000ff 87.50%,#0000bf 93.75%,#000080 100.00%)"></div>
<svg width="1716" height="916" viewBox="0 0 1716 916">
<rect x="76.0" y="2.0" width="469.0" height="377.2" fill="none" stroke="#000" stroke-width="2"/>
<path d="M169.8,379.2v-7M263.6,379.2v-7M357.4,379.2v-7M451.2,379.2v-7M122.9,379.2v-4M216.7,379.2v-4M310.5,379.2v-4M404.3,379.2v-4M498.1,379.2v-4M76.0,358.2h7M76.0,274.4h7M76.0,190.6h7M76.0,106.7h7M76.0,22.9h7M76.0,316.3h4M76.0,232.5h4M76.0,148.6h4M76.0,64.8h4" stroke="#000" stroke-width="2" fill="none"/>
<rect x="662.1" y="2.0" width="469.7" height="377.8" fill="none" stroke="#000" stroke-width="2"/>
<path d="M756.0,379.8v-7M850.0,379.8v-7M943.9,379.8v-7M1037.9,379.8v-7M709.1,379.8v-4M803.0,379.8v-4M897.0,379.8v-4M990.9,379.8v-4M1084.8,379.8v-4M662.1,343.4h7M662.1,297.9h7M662.1,252.4h7M662.1,206.9h7M662.1,161.4h7M662.1,115.8h7M662.1,70.3h7M662.1,24.8h7M662.1,366.2h4M662.1,320.7h4M662.1,275.2h4M662.1,229.6h4M662.1,184.1h4M662.1,138.6h4M662.1,93.1h4M662.1,47.6h4M662.1,2.0h4" stroke="#000" stroke-width="2" fill="none"/>
<rect x="1230.0" y="1.0" width="468.9" height="377.9" fill="none" stroke="#000" stroke-width="2"/>
<path d="M1323.8,378.9v-7M1417.6,378.9v-7M1511.3,378.9v-7M1605.1,378.9v-7M1276.9,378.9v-4M1370.7,378.9v-4M1464.5,378.9v-4M1558.2,378.9v-4M1652.0,378.9v-4M1230.0,347.4h7M1230.0,284.4h7M1230.0,221.4h7M1230.0,158.4h7M1230.0,95.4h7M1230.0,32.5h7M1230.0,378.9h4M1230.0,315.9h4M1230.0,252.9h4M1230.0,189.9h4M1230.0,126.9h4M1230.0,64.0h4" stroke="#000" stroke-width="2" fill="none"/>
<path d="M76.0,25.1 108.8,25.5 154.4,26.5 177.6,27.4 197.6,28.5 204.0,29.1 210.4,30.0 216.8,31.1 222.4,32.3 225.6,33.1 228.0,34.0 231.2,35.5 234.4,37.3 238.4,39.9 240.8,41.9 250.4,52.1 259.2,60.5 264.0,64.6 269.6,68.5 283.2,77.3 306.4,94.2 336.0,113.8 358.4,129.6 368.0,137.0 376.8,144.3 385.6,152.2 396.0,162.1 405.6,171.7 412.0,178.8 417.6,186.0 424.0,195.2 432.8,208.9 440.8,222.6 443.2,227.1 449.6,240.3 452.8,246.4 457.6,256.2 459.2,258.6 460.0,259.3 460.8,259.7 461.6,259.6 462.4,259.1 463.2,258.3 464.8,255.7 466.4,252.3 467.2,249.9 468.0,246.3 471.0,227.3 474.3,201.4 476.8,185.7 477.5,178.9 478.3,167.1 479.0,158.7 480.3,148.0 481.8,137.7 484.5,122.4 487.3,109.5 489.9,99.5 493.1,89.8 497.1,80.2 499.5,75.4 501.9,71.1 507.5,62.8 509.9,59.7 513.1,56.1 516.3,53.0 520.3,49.6 523.5,47.2 527.5,44.6 531.5,42.4 536.3,40.0 540.3,38.4 544.0,37.1" stroke="#000" stroke-width="2" fill="none" stroke-linejoin="round"/>
<path d="M76.0,25.5 98.4,26.0 124.8,27.3 152.0,29.2 172.8,31.4 192.0,34.2 200.0,35.6 205.6,36.9 211.2,38.6 216.0,40.5 218.4,41.9 220.8,43.8 224.8,47.8 230.4,54.2 233.6,58.9 241.6,71.5 250.4,83.8 257.6,93.3 265.6,102.9 280.0,118.4 285.6,124.7 312.8,157.6 317.6,163.7 322.4,170.3 333.6,186.7 340.8,198.1 351.2,215.1 356.8,225.0 360.8,232.8 368.0,248.4 378.4,272.6 383.2,284.7 388.0,298.9 390.4,305.0 393.6,311.5 394.4,312.5 395.2,312.8 396.0,312.3 396.8,311.2 398.4,307.7 399.2,305.4 400.3,300.3 401.3,293.6 404.5,266.8 411.3,197.8 415.3,163.4 418.8,141.0 420.3,133.2 422.0,125.5 424.1,117.3 426.5,109.3 428.1,104.5 430.5,98.3 432.9,92.8 436.1,86.3 439.3,80.7 442.5,75.8 447.3,69.6 451.3,64.9 455.3,60.8 459.3,57.3 462.5,55.0 467.3,52.3 473.7,49.2 480.9,46.4 499.3,39.9 510.5,36.4 518.5,34.2 525.7,32.5 535.3,30.7 544.0,29.5" stroke="#f00" stroke-width="2" fill="none" stroke-linejoin="round"/>
<path d="M76.0,26.6 103.2,28.9 141.6,32.9 156.8,34.9 164.0,36.1 168.8,37.2 174.4,38.7 180.8,40.9 186.4,43.1 190.4,45.2 194.4,47.7 199.2,51.3 203.2,54.9 206.4,58.4 210.4,63.9 212.8,68.2 215.2,74.1 219.2,85.1 225.6,100.8 230.4,112.0 234.4,120.3 239.2,129.0 250.4,148.0 266.4,176.7 280.0,200.0 287.2,213.5 293.6,226.3 300.0,240.4 305.6,253.7 318.4,287.8 332.0,323.0 338.4,337.8 339.2,339.2 340.0,340.1 340.8,340.5 341.6,340.3 342.4,339.6 343.2,338.4 345.6,333.0 346.4,330.7 347.2,327.5 348.5,319.5 352.0,289.6 357.2,235.4 361.7,193.0 364.5,161.9 366.0,150.5 368.0,138.5 370.0,128.7 372.0,120.4 374.4,112.0 376.8,104.9 380.0,96.8 383.2,89.7 387.2,81.8 390.4,76.4 394.4,70.8 399.2,65.1 404.0,60.2 408.8,56.1 416.0,51.0 423.2,46.5 429.6,43.2 436.0,40.7 445.6,38.0 455.2,35.7 465.6,33.8 476.0,32.2 497.6,30.0 515.2,28.4 530.4,27.6 544.0,27.3" stroke="#00f" stroke-width="2" fill="none" stroke-linejoin="round"/>
<path d="M76.0,29.0 84.0,29.8 92.0,30.8 100.8,32.3 111.2,34.2 128.8,38.1 136.0,40.2 142.4,42.3 147.2,44.3 150.4,45.8 154.4,48.2 159.2,51.4 164.0,55.1 168.0,58.5 171.2,61.7 174.4,65.6 176.8,69.4 179.2,74.1 181.6,79.5 184.0,85.8 196.0,126.2 199.2,136.1 201.6,142.7 205.6,152.4 213.6,170.3 224.0,195.1 229.6,207.5 235.2,219.1 260.8,270.2 271.2,290.4 278.4,303.7 287.2,319.3 290.4,324.2 292.0,326.1 296.0,330.2 297.6,331.4 299.2,331.8 300.0,331.6 301.6,330.2 303.2,327.9 304.8,325.2 306.4,320.9 308.5,312.5 312.0,286.1 316.8,246.7 322.5,205.4 327.3,166.8 332.0,135.3 333.8,125.6 336.0,114.8 339.6,100.2 342.0,93.0 344.4,86.9 346.8,81.7 350.0,75.9 354.0,69.6 358.0,64.2 362.0,59.8 366.8,55.6 372.4,51.5 378.8,47.7 386.8,43.9 396.4,40.1 405.2,37.3 413.2,35.3 423.6,33.4 434.8,31.8 445.2,30.6 456.4,29.7 482.8,28.1 505.2,27.0 525.2,26.4 544.0,26.2" stroke="#0f0" stroke-width="2" fill="none" stroke-linejoin="round"/>
<path d="M76.0,33.8 82.4,34.4 90.4,36.1 100.0,38.9 106.4,41.7 110.4,44.0 114.4,46.5 120.0,50.4 123.2,52.9 128.0,57.4 130.4,60.1 132.8,63.3 134.4,65.9 136.8,70.9 141.6,83.3 144.0,90.9 149.6,111.3 152.8,121.5 162.4,149.6 169.6,169.5 176.0,185.7 181.6,198.9 188.8,214.3 195.2,226.9 199.2,233.9 204.0,241.7 208.8,248.8 214.4,256.7 220.8,265.3 226.4,272.5 231.2,278.2 238.4,286.4 244.8,293.1 249.6,297.2 255.2,300.8 258.4,302.6 261.6,303.7 264.0,304.0 266.4,303.6 269.6,302.4 273.6,299.8 275.2,298.6 276.0,297.7 277.6,295.2 280.0,290.1 284.0,278.9 285.6,272.9 286.9,267.2 290.1,249.3 294.6,213.5 302.4,165.5 306.1,140.9 310.1,111.5 312.1,100.2 314.0,94.0 315.6,89.8 317.2,86.3 319.6,81.7 324.4,73.2 328.4,66.8 332.4,61.3 335.6,57.8 340.4,53.4 346.0,49.3 352.4,45.6 359.6,42.2 366.0,39.8 372.4,38.0 382.0,35.8 392.4,34.0 403.6,32.4 423.6,30.1 438.0,28.7 451.6,27.7 476.4,26.6 502.8,25.7 524.4,25.3 544.0,25.1" stroke="#f0f" stroke-width="2" fill="none" stroke-linejoin="round"/>
<path d="M662.0,251.6 698.8,251.7 735.6,252.2 773.2,252.9 806.8,253.9 814.8,254.5 837.2,256.9 886.8,260.4 911.6,262.5 929.2,264.3 942.8,266.4 950.0,267.8 957.2,269.6 965.2,271.8 971.6,273.9 977.2,276.0 982.8,278.5 988.4,281.3 994.8,284.9 998.8,287.5 1003.6,291.0 1008.4,294.9 1014.0,299.8 1018.0,303.9 1026.8,313.9 1033.2,319.8 1034.8,321.0 1035.6,321.3 1036.4,321.5 1037.2,321.4 1038.0,320.9 1039.6,319.1 1041.2,316.2 1042.0,314.2 1043.3,307.0 1045.0,292.2 1046.0,279.6 1047.0,263.6 1051.8,175.0 1055.0,123.9 1056.0,111.4 1057.8,96.0 1058.8,90.7 1059.6,90.3 1060.4,92.0 1061.2,94.7 1062.2,99.5 1065.0,124.7 1067.5,144.1 1071.5,171.7 1073.7,185.4 1075.7,194.6 1078.6,205.5 1081.0,212.9 1083.4,218.9 1088.2,228.1 1092.2,234.2 1094.6,237.0 1096.2,238.6 1101.0,242.0 1104.2,244.0 1107.4,245.6 1110.6,246.8 1113.0,247.5 1123.4,249.4 1127.4,249.8 1131.7,250.0" stroke="#000" stroke-width="2" fill="none" stroke-linejoin="round"/>
<path d="M662.0,252.1 695.6,252.3 730.0,252.8 769.2,253.9 782.8,254.3 789.2,254.7 806.0,256.7 811.6,257.7 824.4,260.5 842.8,263.8 860.4,266.6 886.8,269.7 893.2,270.8 898.8,272.4 903.6,274.0 910.0,276.6 917.2,279.8 922.8,282.7 927.6,285.5 931.6,288.2 935.6,291.3 938.0,293.6 941.2,297.3 944.4,301.7 948.4,307.7 953.2,315.6 956.4,321.4 964.4,337.8 969.2,348.9 970.0,350.2 970.8,351.0 971.6,351.4 972.4,351.1 973.2,350.1 974.0,348.4 975.6,343.5 976.4,340.1 977.6,327.8 979.6,299.9 981.6,263.0 983.1,227.9 985.1,151.4 985.9,132.0 989.4,65.4 990.6,51.7 991.4,47.3 992.2,48.3 992.4,49.5 993.9,60.2 996.9,96.7 998.9,115.7 1002.9,148.0 1007.2,178.2 1010.9,199.5 1012.2,205.5 1013.5,210.5 1014.3,212.8 1016.7,218.1 1018.3,221.1 1020.7,225.0 1023.9,229.0 1027.1,232.1 1031.9,235.9 1037.5,239.4 1042.3,241.8 1047.1,243.7 1054.3,245.9 1060.7,247.6 1069.5,249.4 1077.5,250.3 1105.5,251.6 1132.0,252.1" stroke="#f00" stroke-width="2" fill="none" stroke-linejoin="round"/>
<path d="M662.0,252.7 693.2,252.8 722.0,253.2 754.8,254.1 761.2,254.3 765.2,254.7 773.2,256.2 782.8,258.8 786.0,260.3 792.4,263.8 799.6,267.0 803.6,268.3 810.8,269.7 825.2,271.6 830.8,272.5 837.2,274.0 844.4,276.1 857.2,280.5 866.8,284.5 874.0,288.3 878.0,291.0 882.0,293.9 893.2,303.2 896.4,306.2 898.8,308.7 902.0,312.9 908.4,324.7 913.2,331.6 914.8,333.3 915.6,333.8 916.4,334.0 917.2,333.9 918.0,333.5 918.8,332.8 920.4,330.6 921.2,329.1 922.0,326.3 923.0,316.6 925.0,291.0 926.5,267.4 927.7,242.0 930.7,156.6 933.0,109.8 934.5,85.9 935.5,73.1 937.0,63.6 937.2,62.5 938.0,60.7 938.8,62.3 940.4,70.5 941.1,75.7 944.1,103.6 947.6,140.2 949.4,156.3 952.4,179.0 954.9,195.4 956.4,203.9 957.1,207.2 959.5,214.3 961.1,218.2 963.5,223.0 965.1,225.7 967.5,229.1 970.7,233.0 973.9,236.3 977.1,239.2 979.5,241.0 981.9,242.4 985.1,243.9 990.7,246.0 995.5,247.5 1000.3,248.6 1005.1,249.4 1022.7,250.8 1041.1,251.5 1088.3,252.3 1132.0,252.5" stroke="#00f" stroke-width="2" fill="none" stroke-linejoin="round"/>
<path d="M662.0,253.2 681.2,253.4 701.2,254.0 725.2,255.2 733.2,255.9 741.2,257.5 745.2,258.7 747.6,259.7 750.8,261.6 756.4,265.6 762.0,270.8 764.4,272.7 770.8,276.3 773.2,277.3 774.8,277.7 782.0,278.4 799.6,279.1 807.6,279.8 815.6,280.9 845.2,285.8 850.8,286.5 854.8,286.6 858.0,286.3 862.0,285.6 866.0,284.5 867.6,283.4 870.0,281.1 872.4,278.1 874.8,274.4 877.2,268.9 880.4,258.6 882.4,248.9 885.4,230.4 889.7,198.5 892.4,176.2 894.7,161.8 896.2,154.4 898.0,148.0 899.6,143.4 900.4,141.8 901.2,141.0 902.0,141.0 902.8,141.6 904.4,144.1 906.8,149.7 907.6,152.7 909.1,160.2 910.9,171.0 913.4,195.2 914.1,200.2 915.7,206.1 920.5,219.8 923.7,227.4 925.3,230.3 926.9,232.4 930.1,235.4 933.3,238.0 936.5,240.1 939.7,241.8 942.9,243.2 946.1,244.3 952.5,246.0 958.9,247.5 969.3,249.4 978.9,250.3 1004.5,251.3 1031.7,251.9 1132.0,252.3" stroke="#0f0" stroke-width="2" fill="none" stroke-linejoin="round"/>
<path d="M662.0,253.8 673.2,254.1 685.2,255.2 695.6,256.5 698.8,257.2 702.0,258.3 709.2,261.5 712.4,263.1 714.8,264.7 723.6,272.1 728.4,277.0 730.8,278.9 734.0,280.1 737.2,280.8 739.6,280.9 742.0,280.6 753.2,277.9 765.2,275.7 782.0,272.8 797.2,270.7 804.4,269.4 811.6,267.3 818.8,264.3 823.6,261.7 828.4,257.9 838.0,248.6 844.4,241.5 862.0,220.4 864.4,217.2 868.4,211.1 870.8,208.1 874.8,204.9 876.4,204.0 878.0,203.6 879.6,203.9 881.2,204.8 882.8,206.3 885.2,208.9 886.8,212.2 890.0,220.9 891.6,224.2 896.4,232.0 898.8,235.2 901.2,237.8 906.8,242.2 912.4,245.6 917.2,247.4 922.8,248.7 929.2,249.7 935.6,250.3 955.6,251.1 977.2,251.6 1032.4,251.9 1132.0,252.1" stroke="#f0f" stroke-width="2" fill="none" stroke-linejoin="round"/>
<path d="M1048.7,133.1L1059.7,144.1M1048.7,144.1L1059.7,133.1" stroke="#000" stroke-width="2.4" fill="none"/>
<path d="M981.3,91.7L992.3,102.7M981.3,102.7L992.3,91.7" stroke="#f00" stroke-width="2.4" fill="none"/>
<path d="M927.1,116.8L938.1,127.8M927.1,127.8L938.1,116.8" stroke="#00f" stroke-width="2.4" fill="none"/>
<path d="M888.9,164.8L899.9,175.8M888.9,175.8L899.9,164.8" stroke="#0f0" stroke-width="2.4" fill="none"/>
<path d="M857.4,214.2L868.4,225.2M857.4,225.2L868.4,214.2" stroke="#f0f" stroke-width="2.4" fill="none"/>
<path d="M1230.0,221.5 1273.2,221.4 1313.2,220.9 1358.8,220.0 1366.8,219.7 1371.6,219.4 1377.2,218.6 1383.6,217.5 1386.8,216.5 1394.8,213.5 1406.0,211.1 1431.6,207.0 1462.0,202.7 1475.6,200.3 1483.6,198.6 1492.4,196.4 1500.4,194.2 1508.4,191.7 1517.2,188.4 1526.0,184.7 1536.4,179.9 1545.2,175.3 1552.4,171.1 1559.6,166.3 1566.8,160.8 1572.4,155.9 1576.4,151.8 1579.6,148.1 1582.8,143.6 1586.8,137.3 1594.0,124.2 1600.4,109.4 1602.8,104.3 1606.8,96.8 1607.6,95.8 1608.4,95.4 1609.2,95.6 1610.0,96.2 1610.8,97.3 1612.4,100.2 1613.2,102.7 1614.4,109.9 1615.9,122.5 1616.9,136.0 1617.9,153.8 1618.9,178.9 1620.4,208.3 1623.4,257.1 1624.9,276.9 1626.2,290.3 1628.2,304.7 1628.7,307.1 1629.5,308.8 1630.3,307.6 1631.1,304.6 1633.8,290.0 1637.1,269.7 1640.4,256.2 1642.8,248.6 1644.4,244.8 1647.6,239.2 1650.8,234.6 1654.0,231.0 1655.6,229.6 1657.2,228.5 1661.2,226.8 1666.8,225.0 1672.4,223.7 1678.8,222.7 1690.0,221.8 1699.0,221.5" stroke="#000" stroke-width="2" fill="none" stroke-linejoin="round"/>
<path d="M1230.0,220.9 1323.6,220.8 1332.4,220.4 1342.0,219.7 1353.2,218.6 1362.8,217.3 1369.2,215.6 1378.8,212.0 1381.2,210.8 1386.8,207.4 1390.0,206.0 1394.0,204.8 1403.6,202.6 1413.2,199.9 1422.8,197.0 1430.0,194.4 1438.0,191.1 1454.8,183.5 1461.2,180.3 1469.2,175.8 1476.4,171.2 1482.8,166.6 1488.4,162.0 1494.0,156.6 1498.8,151.2 1503.6,145.0 1507.6,138.9 1511.6,131.7 1514.8,125.4 1518.0,118.0 1521.2,109.6 1524.4,100.3 1526.8,92.6 1529.2,83.9 1534.0,65.1 1538.6,46.0 1541.8,36.0 1542.6,34.7 1543.4,34.6 1544.2,35.7 1545.0,37.8 1546.5,44.0 1547.0,48.4 1547.5,55.6 1549.3,92.0 1551.3,152.8 1553.3,195.3 1555.5,274.4 1556.3,290.9 1557.3,308.5 1558.5,324.3 1560.3,338.3 1560.8,340.8 1561.6,341.9 1562.6,338.6 1564.6,326.9 1568.1,300.0 1570.6,284.7 1573.1,271.5 1575.2,263.3 1579.2,252.0 1581.6,246.5 1583.2,243.4 1584.8,240.9 1586.4,238.8 1589.6,235.3 1592.8,232.3 1597.6,228.6 1600.0,227.3 1602.4,226.2 1611.2,223.9 1616.0,222.9 1620.8,222.3 1632.8,221.6 1649.6,221.1 1699.0,221.0" stroke="#f00" stroke-width="2" fill="none" stroke-linejoin="round"/>
<path d="M1230.0,220.9 1245.2,220.7 1262.0,220.3 1283.6,219.3 1302.8,218.2 1314.8,217.1 1326.8,215.6 1334.0,214.4 1340.4,212.7 1346.0,210.9 1349.2,209.5 1352.4,207.6 1356.4,204.7 1358.8,202.3 1364.4,193.9 1366.0,191.9 1367.6,190.3 1371.6,187.7 1376.4,185.3 1382.0,183.1 1398.8,178.2 1406.0,175.5 1410.0,173.6 1414.8,170.9 1424.4,164.5 1429.2,160.9 1434.0,156.9 1438.8,152.2 1442.8,147.6 1446.0,143.4 1450.0,137.1 1454.0,130.2 1458.8,121.2 1462.8,112.4 1466.0,103.5 1467.8,96.5 1471.8,79.6 1475.0,67.8 1478.2,56.7 1482.2,44.8 1483.8,40.5 1485.4,37.5 1487.0,36.0 1487.8,35.5 1488.6,35.4 1489.4,36.3 1490.2,38.1 1491.0,40.6 1491.8,44.5 1492.8,54.3 1494.1,72.0 1496.3,132.0 1498.6,165.0 1499.6,185.1 1501.8,268.1 1502.8,292.2 1503.8,309.3 1504.6,318.0 1506.3,330.1 1506.8,332.3 1507.6,333.9 1508.4,332.9 1509.2,330.1 1511.0,321.4 1512.0,315.0 1515.2,289.4 1519.0,268.2 1520.5,261.0 1522.0,254.9 1523.6,250.3 1526.0,244.5 1528.4,239.8 1530.8,235.9 1532.4,233.9 1534.8,231.6 1538.0,229.0 1541.2,226.9 1545.2,224.9 1549.2,223.7 1559.6,221.8 1568.4,221.0 1699.0,221.0" stroke="#00f" stroke-width="2" fill="none" stroke-linejoin="round"/>
<path d="M1230.0,220.9 1241.2,220.2 1254.0,219.0 1272.4,216.7 1284.4,214.9 1294.0,213.0 1302.8,210.8 1309.2,208.7 1314.0,206.5 1317.2,204.6 1319.6,202.6 1322.0,199.8 1324.4,196.3 1326.0,193.8 1327.6,190.5 1332.4,176.9 1334.0,173.1 1338.0,167.0 1340.4,164.2 1342.0,162.8 1343.6,161.9 1346.8,160.9 1359.6,158.5 1363.6,157.5 1368.4,155.9 1375.6,153.1 1383.6,149.6 1389.2,146.9 1394.8,143.9 1403.6,138.6 1409.2,134.6 1414.0,130.5 1427.6,118.3 1434.8,110.8 1437.2,109.1 1438.8,108.5 1439.6,108.4 1442.0,108.7 1445.2,110.0 1446.8,111.2 1447.6,112.7 1449.2,117.1 1451.6,124.7 1453.2,130.7 1454.4,136.6 1455.9,146.6 1459.2,177.5 1461.9,194.6 1462.9,202.2 1465.7,240.2 1466.9,251.8 1468.9,264.9 1471.0,273.0 1471.8,274.7 1472.6,274.9 1473.4,273.8 1474.2,272.0 1476.6,265.6 1480.6,252.4 1483.8,243.4 1486.2,237.6 1487.8,234.8 1491.8,230.4 1493.4,229.0 1495.8,227.3 1497.4,226.4 1499.8,225.5 1507.0,223.3 1511.8,222.4 1515.8,221.9 1530.2,221.2 1543.8,220.8 1699.0,221.0" stroke="#0f0" stroke-width="2" fill="none" stroke-linejoin="round"/>
<path d="M1230.0,220.9 1235.6,220.8 1242.0,220.3 1255.6,218.7 1266.0,217.0 1270.0,215.9 1274.8,214.3 1281.2,211.6 1285.2,209.1 1291.6,204.1 1298.8,196.5 1303.6,193.4 1306.0,192.5 1332.4,191.6 1379.6,187.1 1387.6,186.5 1394.0,186.4 1407.6,186.6 1417.2,187.2 1421.2,188.5 1426.8,191.6 1428.4,193.0 1430.0,194.8 1435.6,202.7 1437.2,205.5 1441.2,213.3 1443.6,217.1 1447.6,221.8 1449.2,223.4 1450.8,224.6 1452.4,225.2 1455.6,225.0 1462.0,224.0 1469.2,222.1 1472.4,221.5 1494.8,220.7 1601.2,220.6 1699.0,221.0" stroke="#f0f" stroke-width="2" fill="none" stroke-linejoin="round"/>
<path d="M1608.0,103.6L1619.0,114.6M1608.0,114.6L1619.0,103.6" stroke="#000" stroke-width="2.4" fill="none"/>
<path d="M1541.5,50.2L1552.5,61.2M1541.5,61.2L1552.5,50.2" stroke="#f00" stroke-width="3.6" fill="none"/>
<path d="M1488.6,67.6L1499.6,78.6M1488.6,78.6L1499.6,67.6" stroke="#00f" stroke-width="2.4" fill="none"/>
<path d="M1447.5,127.3L1458.5,138.3M1447.5,138.3L1458.5,127.3" stroke="#0f0" stroke-width="2.4" fill="none"/>
<path d="M1419.5,184.8L1430.5,195.8M1419.5,195.8L1430.5,184.8" stroke="#f0f" stroke-width="2.4" fill="none"/>
<path d="M91.3,222.6H136" stroke="#000" stroke-width="2"/>
<text x="141.5" y="229.1" class="lg"><tspan font-weight="normal">&#945;</tspan><tspan class="sub" dy="5">1</tspan><tspan dy="-5">=45&#176;</tspan></text>
<path d="M91.3,253.6H136" stroke="#f00" stroke-width="2"/>
<text x="141.5" y="260.1" class="lg"><tspan font-weight="normal">&#945;</tspan><tspan class="sub" dy="5">1</tspan><tspan dy="-5">=50&#176;</tspan></text>
<path d="M91.3,284.6H136" stroke="#00f" stroke-width="2"/>
<text x="141.5" y="291.1" class="lg"><tspan font-weight="normal">&#945;</tspan><tspan class="sub" dy="5">1</tspan><tspan dy="-5">=55&#176;</tspan></text>
<path d="M91.3,315.6H136" stroke="#0f0" stroke-width="2"/>
<text x="141.5" y="322.1" class="lg"><tspan font-weight="normal">&#945;</tspan><tspan class="sub" dy="5">1</tspan><tspan dy="-5">=60&#176;</tspan></text>
<path d="M91.3,346.6H136" stroke="#f0f" stroke-width="2"/>
<text x="141.5" y="353.1" class="lg"><tspan font-weight="normal">&#945;</tspan><tspan class="sub" dy="5">1</tspan><tspan dy="-5">=65&#176;</tspan></text>
<path d="M515.0,729.5h-4M515.0,638.0h-4M515.0,546.5h-4" stroke="#262626" stroke-width="1"/>
<path d="M1089.0,760.2h-4M1089.0,693.7h-4M1089.0,627.1h-4M1089.0,560.5h-4M1089.0,494.0h-4" stroke="#262626" stroke-width="1"/>
<path d="M1670.0,775.2h-4M1670.0,701.2h-4M1670.0,627.2h-4M1670.0,553.2h-4M1670.0,479.2h-4" stroke="#262626" stroke-width="1"/>
<text x="67" y="364.7" class="tk" text-anchor="end">0.2</text>
<text x="67" y="280.9" class="tk" text-anchor="end">0.4</text>
<text x="67" y="197.1" class="tk" text-anchor="end">0.6</text>
<text x="67" y="113.2" class="tk" text-anchor="end">0.8</text>
<text x="67" y="29.4" class="tk" text-anchor="end">1.0</text>
<text x="76.0" y="402.6" class="tk" text-anchor="middle">0.98</text>
<text x="169.8" y="402.6" class="tk" text-anchor="middle">0.99</text>
<text x="263.6" y="402.6" class="tk" text-anchor="middle">1.00</text>
<text x="357.4" y="402.6" class="tk" text-anchor="middle">1.01</text>
<text x="451.2" y="402.6" class="tk" text-anchor="middle">1.02</text>
<text x="545.0" y="402.6" class="tk" text-anchor="middle">1.03</text>
<text x="662.1" y="402.6" class="tk" text-anchor="middle">0.98</text>
<text x="756.0" y="402.6" class="tk" text-anchor="middle">0.99</text>
<text x="850.0" y="402.6" class="tk" text-anchor="middle">1.00</text>
<text x="943.9" y="402.6" class="tk" text-anchor="middle">1.01</text>
<text x="1037.9" y="402.6" class="tk" text-anchor="middle">1.02</text>
<text x="1131.8" y="402.6" class="tk" text-anchor="middle">1.03</text>
<text x="1230.0" y="402.6" class="tk" text-anchor="middle">0.98</text>
<text x="1323.8" y="402.6" class="tk" text-anchor="middle">0.99</text>
<text x="1417.6" y="402.6" class="tk" text-anchor="middle">1.00</text>
<text x="1511.3" y="402.6" class="tk" text-anchor="middle">1.01</text>
<text x="1605.1" y="402.6" class="tk" text-anchor="middle">1.02</text>
<text x="1698.9" y="402.6" class="tk" text-anchor="middle">1.03</text>
<text x="653" y="349.9" class="tk" text-anchor="end">-100</text>
<text x="653" y="304.4" class="tk" text-anchor="end">-50</text>
<text x="653" y="258.9" class="tk" text-anchor="end">0</text>
<text x="653" y="213.4" class="tk" text-anchor="end">50</text>
<text x="653" y="167.9" class="tk" text-anchor="end">100</text>
<text x="653" y="122.3" class="tk" text-anchor="end">150</text>
<text x="653" y="76.8" class="tk" text-anchor="end">200</text>
<text x="653" y="31.3" class="tk" text-anchor="end">250</text>
<text x="1221.5" y="353.9" class="tk" text-anchor="end">-40</text>
<text x="1221.5" y="290.9" class="tk" text-anchor="end">-20</text>
<text x="1221.5" y="227.9" class="tk" text-anchor="end">0</text>
<text x="1221.5" y="164.9" class="tk" text-anchor="end">20</text>
<text x="1221.5" y="101.9" class="tk" text-anchor="end">40</text>
<text x="1221.5" y="39.0" class="tk" text-anchor="end">60</text>
<text x="504" y="368" class="pl">(a)</text>
<text x="1089" y="368" class="pl">(b)</text>
<text x="1657.5" y="368" class="pl">(c)</text>
<text x="266.0" y="452.5" class="xl">f/f<tspan class="xs" dy="10">t</tspan></text>
<text x="877.5" y="452.5" class="xl">f/f<tspan class="xs" dy="10">t</tspan></text>
<text x="1448.8" y="452.5" class="xl">f/f<tspan class="xs" dy="10">t</tspan></text>
<text x="264.3" y="905.3" class="xl">f/f<tspan class="xs" dy="10">t</tspan></text>
<text x="841.0" y="905.3" class="xl">f/f<tspan class="xs" dy="10">t</tspan></text>
<text x="1422.2" y="905.3" class="xl">f/f<tspan class="xs" dy="10">t</tspan></text>
<text transform="translate(25.3,206.6) rotate(-90)" class="yl">R</text>
<text transform="translate(597,234) rotate(-90)" class="yl2">&#916;<tspan class="bi">x</tspan>/&#955;<tspan class="sp" dy="8">p</tspan></text>
<text transform="translate(1171.5,235) rotate(-90)" class="yl2">&#916;<tspan class="bi">z</tspan>/&#955;<tspan class="sp spb" dy="8">p</tspan></text>
<text x="172.0" y="862.0" class="hk" text-anchor="middle">1.01</text>
<text x="313.8" y="862.0" class="hk" text-anchor="middle">1.02</text>
<text x="454.7" y="862.0" class="hk" text-anchor="middle">1.03</text>
<text x="754.2" y="862.0" class="hk" text-anchor="middle">1.01</text>
<text x="892.9" y="862.0" class="hk" text-anchor="middle">1.02</text>
<text x="1029.9" y="862.0" class="hk" text-anchor="middle">1.03</text>
<text x="1327.8" y="859.0" class="hk" text-anchor="middle">1.01</text>
<text x="1469.1" y="859.0" class="hk" text-anchor="middle">1.02</text>
<text x="1609.3" y="859.0" class="hk" text-anchor="middle">1.03</text>
<text x="62.9" y="836.5" class="hk" text-anchor="end">40</text>
<text x="62.9" y="735.5" class="hk" text-anchor="end">50</text>
<text x="62.9" y="634.5" class="hk" text-anchor="end">60</text>
<text x="62.9" y="533.5" class="hk" text-anchor="end">70</text>
<text x="648.5" y="836.5" class="hk" text-anchor="end">40</text>
<text x="648.5" y="735.8" class="hk" text-anchor="end">50</text>
<text x="648.5" y="635.1" class="hk" text-anchor="end">60</text>
<text x="648.5" y="534.4" class="hk" text-anchor="end">70</text>
<text x="1219.6" y="832.7" class="hk" text-anchor="end">40</text>
<text x="1219.6" y="732.2" class="hk" text-anchor="end">50</text>
<text x="1219.6" y="631.7" class="hk" text-anchor="end">60</text>
<text x="1219.6" y="531.2" class="hk" text-anchor="end">70</text>
<text x="0" y="678.6" class="al">&#945;</text><text x="32" y="692.7" class="als">1</text>
<text x="80" y="507" class="hl" fill="#fff" stroke="#fff" stroke-width="0.6">(d)</text>
<text x="673.5" y="507" class="hl" fill="#fff" stroke="#fff" stroke-width="0.6">(e)</text>
<text x="1233" y="507" class="hl" fill="#000" stroke="#000" stroke-width="0.6">(f)</text>
<text x="525.4" y="829.0" class="hk">0</text>
<text x="525.4" y="737.5" class="hk">0.5</text>
<text x="525.4" y="646.0" class="hk">1</text>
<text x="525.4" y="554.5" class="hk">1.5</text>
<text x="1098.0" y="768.3" class="hk">0.2</text>
<text x="1098.0" y="701.8" class="hk">0.4</text>
<text x="1098.0" y="635.3" class="hk">0.6</text>
<text x="1098.0" y="568.8" class="hk">0.8</text>
<text x="1098.0" y="502.3" class="hk">1</text>
<text x="1677.0" y="783.2" class="hk">-3</text>
<text x="1677.0" y="709.2" class="hk">-2</text>
<text x="1677.0" y="635.2" class="hk">-1</text>
<text x="1677.0" y="561.2" class="hk">0</text>
<text x="1677.0" y="487.2" class="hk">1</text>
<text x="486" y="464.8" class="sl">S<tspan class="si">x</tspan></text>
<text x="1060" y="464.8" class="sl">S<tspan class="si">y</tspan></text>
<text x="1639.5" y="464.8" class="sl">S<tspan class="si">z</tspan></text>
</svg></body></html>
